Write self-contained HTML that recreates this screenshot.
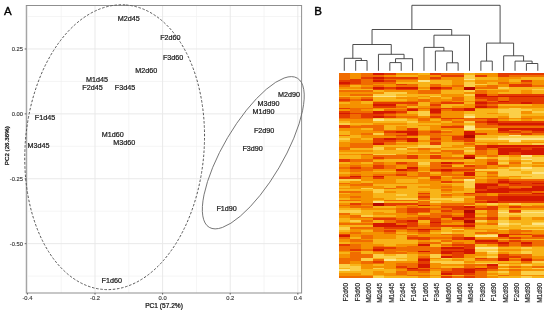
<!DOCTYPE html><html><head><meta charset="utf-8"><style>html,body{margin:0;padding:0;background:#fff;width:550px;height:313px;overflow:hidden}svg{display:block;will-change:transform}text{font-family:"Liberation Sans",sans-serif}</style></head><body><svg width="550" height="313" viewBox="0 0 550 313"><line x1="61.20" y1="5.5" x2="61.20" y2="293.0" stroke="#f1f1f1" stroke-width="0.7"/><line x1="128.81" y1="5.5" x2="128.81" y2="293.0" stroke="#f1f1f1" stroke-width="0.7"/><line x1="196.43" y1="5.5" x2="196.43" y2="293.0" stroke="#f1f1f1" stroke-width="0.7"/><line x1="264.04" y1="5.5" x2="264.04" y2="293.0" stroke="#f1f1f1" stroke-width="0.7"/><line x1="26.3" y1="276.11" x2="301.6" y2="276.11" stroke="#f1f1f1" stroke-width="0.7"/><line x1="26.3" y1="211.21" x2="301.6" y2="211.21" stroke="#f1f1f1" stroke-width="0.7"/><line x1="26.3" y1="146.32" x2="301.6" y2="146.32" stroke="#f1f1f1" stroke-width="0.7"/><line x1="26.3" y1="81.42" x2="301.6" y2="81.42" stroke="#f1f1f1" stroke-width="0.7"/><line x1="26.3" y1="16.53" x2="301.6" y2="16.53" stroke="#f1f1f1" stroke-width="0.7"/><line x1="27.40" y1="5.5" x2="27.40" y2="293.0" stroke="#e9e9e9" stroke-width="1.0"/><line x1="95.01" y1="5.5" x2="95.01" y2="293.0" stroke="#e9e9e9" stroke-width="1.0"/><line x1="162.62" y1="5.5" x2="162.62" y2="293.0" stroke="#e9e9e9" stroke-width="1.0"/><line x1="230.23" y1="5.5" x2="230.23" y2="293.0" stroke="#e9e9e9" stroke-width="1.0"/><line x1="297.84" y1="5.5" x2="297.84" y2="293.0" stroke="#e9e9e9" stroke-width="1.0"/><line x1="26.3" y1="243.66" x2="301.6" y2="243.66" stroke="#e9e9e9" stroke-width="1.0"/><line x1="26.3" y1="178.76" x2="301.6" y2="178.76" stroke="#e9e9e9" stroke-width="1.0"/><line x1="26.3" y1="113.87" x2="301.6" y2="113.87" stroke="#e9e9e9" stroke-width="1.0"/><line x1="26.3" y1="48.98" x2="301.6" y2="48.98" stroke="#e9e9e9" stroke-width="1.0"/><rect x="26.3" y="5.5" width="275.3" height="287.5" fill="none" stroke="#8f8f8f" stroke-width="1"/><line x1="27.40" y1="293.0" x2="27.40" y2="294.6" stroke="#444" stroke-width="0.8"/><text x="27.40" y="300.4" font-size="5.8" fill="#333" stroke="#333" stroke-width="0.12" text-anchor="middle">-0.4</text><line x1="95.01" y1="293.0" x2="95.01" y2="294.6" stroke="#444" stroke-width="0.8"/><text x="95.01" y="300.4" font-size="5.8" fill="#333" stroke="#333" stroke-width="0.12" text-anchor="middle">-0.2</text><line x1="162.62" y1="293.0" x2="162.62" y2="294.6" stroke="#444" stroke-width="0.8"/><text x="162.62" y="300.4" font-size="5.8" fill="#333" stroke="#333" stroke-width="0.12" text-anchor="middle">0.0</text><line x1="230.23" y1="293.0" x2="230.23" y2="294.6" stroke="#444" stroke-width="0.8"/><text x="230.23" y="300.4" font-size="5.8" fill="#333" stroke="#333" stroke-width="0.12" text-anchor="middle">0.2</text><line x1="297.84" y1="293.0" x2="297.84" y2="294.6" stroke="#444" stroke-width="0.8"/><text x="297.84" y="300.4" font-size="5.8" fill="#333" stroke="#333" stroke-width="0.12" text-anchor="middle">0.4</text><line x1="24.7" y1="48.98" x2="26.3" y2="48.98" stroke="#444" stroke-width="0.8"/><text x="23.0" y="51.08" font-size="5.8" fill="#333" stroke="#333" stroke-width="0.12" text-anchor="end">0.25</text><line x1="24.7" y1="113.87" x2="26.3" y2="113.87" stroke="#444" stroke-width="0.8"/><text x="23.0" y="115.97" font-size="5.8" fill="#333" stroke="#333" stroke-width="0.12" text-anchor="end">0.00</text><line x1="24.7" y1="178.76" x2="26.3" y2="178.76" stroke="#444" stroke-width="0.8"/><text x="23.0" y="180.86" font-size="5.8" fill="#333" stroke="#333" stroke-width="0.12" text-anchor="end">-0.25</text><line x1="24.7" y1="243.66" x2="26.3" y2="243.66" stroke="#444" stroke-width="0.8"/><text x="23.0" y="245.76" font-size="5.8" fill="#333" stroke="#333" stroke-width="0.12" text-anchor="end">-0.50</text><text x="164" y="308.4" font-size="6.6" fill="#111" stroke="#111" stroke-width="0.22" text-anchor="middle">PC1 (57.2%)</text><text transform="translate(8.6 145.7) rotate(-90)" font-size="6.2" fill="#111" stroke="#111" stroke-width="0.25" text-anchor="middle">PC2 (26.36%)</text><text x="4" y="15.2" font-size="11.5" fill="#000" stroke="#000" stroke-width="0.35">A</text><text x="314.3" y="15.3" font-size="11.5" fill="#000" stroke="#000" stroke-width="0.45">B</text><ellipse cx="114.64" cy="147.21" rx="142.69" ry="89.45" transform="rotate(-85.385 114.64 147.21)" fill="none" stroke="#555" stroke-width="0.95" stroke-dasharray="2.5 1.7"/><ellipse cx="253.28" cy="152.74" rx="86.63" ry="29.78" transform="rotate(-59.455 253.28 152.74)" fill="none" stroke="#666" stroke-width="0.8"/><text x="128.80" y="21.20" font-size="7.2" fill="#1a1a1a" stroke="#1a1a1a" stroke-width="0.22" text-anchor="middle">M2d45</text><text x="170.35" y="39.90" font-size="7.2" fill="#1a1a1a" stroke="#1a1a1a" stroke-width="0.22" text-anchor="middle">F2d60</text><text x="173.10" y="59.50" font-size="7.2" fill="#1a1a1a" stroke="#1a1a1a" stroke-width="0.22" text-anchor="middle">F3d60</text><text x="146.30" y="73.00" font-size="7.2" fill="#1a1a1a" stroke="#1a1a1a" stroke-width="0.22" text-anchor="middle">M2d60</text><text x="96.95" y="81.70" font-size="7.2" fill="#1a1a1a" stroke="#1a1a1a" stroke-width="0.22" text-anchor="middle">M1d45</text><text x="92.55" y="90.30" font-size="7.2" fill="#1a1a1a" stroke="#1a1a1a" stroke-width="0.22" text-anchor="middle">F2d45</text><text x="125.05" y="89.70" font-size="7.2" fill="#1a1a1a" stroke="#1a1a1a" stroke-width="0.22" text-anchor="middle">F3d45</text><text x="45.00" y="120.40" font-size="7.2" fill="#1a1a1a" stroke="#1a1a1a" stroke-width="0.22" text-anchor="middle">F1d45</text><text x="38.40" y="148.10" font-size="7.2" fill="#1a1a1a" stroke="#1a1a1a" stroke-width="0.22" text-anchor="middle">M3d45</text><text x="112.80" y="137.00" font-size="7.2" fill="#1a1a1a" stroke="#1a1a1a" stroke-width="0.22" text-anchor="middle">M1d60</text><text x="124.35" y="144.90" font-size="7.2" fill="#1a1a1a" stroke="#1a1a1a" stroke-width="0.22" text-anchor="middle">M3d60</text><text x="288.95" y="97.00" font-size="7.2" fill="#1a1a1a" stroke="#1a1a1a" stroke-width="0.22" text-anchor="middle">M2d90</text><text x="268.40" y="106.40" font-size="7.2" fill="#1a1a1a" stroke="#1a1a1a" stroke-width="0.22" text-anchor="middle">M3d90</text><text x="263.50" y="113.60" font-size="7.2" fill="#1a1a1a" stroke="#1a1a1a" stroke-width="0.22" text-anchor="middle">M1d90</text><text x="264.10" y="133.10" font-size="7.2" fill="#1a1a1a" stroke="#1a1a1a" stroke-width="0.22" text-anchor="middle">F2d90</text><text x="252.60" y="151.00" font-size="7.2" fill="#1a1a1a" stroke="#1a1a1a" stroke-width="0.22" text-anchor="middle">F3d90</text><text x="226.60" y="211.20" font-size="7.2" fill="#1a1a1a" stroke="#1a1a1a" stroke-width="0.22" text-anchor="middle">F1d90</text><text x="111.80" y="283.10" font-size="7.2" fill="#1a1a1a" stroke="#1a1a1a" stroke-width="0.22" text-anchor="middle">F1d60</text><g shape-rendering="crispEdges"><rect x="338.60" y="73.40" width="11.68" height="2.00" fill="#f06c00"/><rect x="338.60" y="75.11" width="11.68" height="2.00" fill="#f06c00"/><rect x="338.60" y="76.81" width="11.68" height="2.00" fill="#f06c00"/><rect x="338.60" y="78.52" width="11.68" height="2.00" fill="#f06c00"/><rect x="338.60" y="80.22" width="11.68" height="2.00" fill="#e43c00"/><rect x="338.60" y="81.92" width="11.68" height="2.00" fill="#d41800"/><rect x="338.60" y="83.63" width="11.68" height="2.00" fill="#e43c00"/><rect x="338.60" y="85.34" width="11.68" height="2.00" fill="#f06c00"/><rect x="338.60" y="87.04" width="11.68" height="2.00" fill="#f59200"/><rect x="338.60" y="88.75" width="11.68" height="2.00" fill="#f8b418"/><rect x="338.60" y="90.45" width="11.68" height="2.00" fill="#f06c00"/><rect x="338.60" y="92.16" width="11.68" height="2.00" fill="#f59200"/><rect x="338.60" y="93.86" width="11.68" height="2.00" fill="#f59200"/><rect x="338.60" y="95.56" width="11.68" height="2.00" fill="#f8b418"/><rect x="338.60" y="97.27" width="11.68" height="2.00" fill="#f06c00"/><rect x="338.60" y="98.98" width="11.68" height="2.00" fill="#e43c00"/><rect x="338.60" y="100.68" width="11.68" height="2.00" fill="#f06c00"/><rect x="338.60" y="102.39" width="11.68" height="2.00" fill="#f8b418"/><rect x="338.60" y="104.09" width="11.68" height="2.00" fill="#f59200"/><rect x="338.60" y="105.80" width="11.68" height="2.00" fill="#f59200"/><rect x="338.60" y="107.50" width="11.68" height="2.00" fill="#e43c00"/><rect x="338.60" y="109.20" width="11.68" height="2.00" fill="#f59200"/><rect x="338.60" y="110.91" width="11.68" height="2.00" fill="#e43c00"/><rect x="338.60" y="112.61" width="11.68" height="2.00" fill="#d41800"/><rect x="338.60" y="114.32" width="11.68" height="2.00" fill="#e43c00"/><rect x="338.60" y="116.02" width="11.68" height="2.00" fill="#e43c00"/><rect x="338.60" y="117.73" width="11.68" height="2.00" fill="#f06c00"/><rect x="338.60" y="119.44" width="11.68" height="2.00" fill="#f59200"/><rect x="338.60" y="121.14" width="11.68" height="2.00" fill="#f8b418"/><rect x="338.60" y="122.84" width="11.68" height="2.00" fill="#fbcf48"/><rect x="338.60" y="124.55" width="11.68" height="2.00" fill="#e43c00"/><rect x="338.60" y="126.26" width="11.68" height="2.00" fill="#e43c00"/><rect x="338.60" y="127.96" width="11.68" height="2.00" fill="#f59200"/><rect x="338.60" y="129.67" width="11.68" height="2.00" fill="#f59200"/><rect x="338.60" y="131.37" width="11.68" height="2.00" fill="#f8b418"/><rect x="338.60" y="133.08" width="11.68" height="2.00" fill="#f8b418"/><rect x="338.60" y="134.78" width="11.68" height="2.00" fill="#f06c00"/><rect x="338.60" y="136.49" width="11.68" height="2.00" fill="#f8b418"/><rect x="338.60" y="138.19" width="11.68" height="2.00" fill="#fbcf48"/><rect x="338.60" y="139.90" width="11.68" height="2.00" fill="#f8b418"/><rect x="338.60" y="141.60" width="11.68" height="2.00" fill="#f59200"/><rect x="338.60" y="143.31" width="11.68" height="2.00" fill="#f59200"/><rect x="338.60" y="145.01" width="11.68" height="2.00" fill="#f59200"/><rect x="338.60" y="146.72" width="11.68" height="2.00" fill="#f06c00"/><rect x="338.60" y="148.42" width="11.68" height="2.00" fill="#f06c00"/><rect x="338.60" y="150.13" width="11.68" height="2.00" fill="#f59200"/><rect x="338.60" y="151.83" width="11.68" height="2.00" fill="#f8b418"/><rect x="338.60" y="153.53" width="11.68" height="2.00" fill="#f59200"/><rect x="338.60" y="155.24" width="11.68" height="2.00" fill="#f8b418"/><rect x="338.60" y="156.95" width="11.68" height="2.00" fill="#f8b418"/><rect x="338.60" y="158.65" width="11.68" height="2.00" fill="#e43c00"/><rect x="338.60" y="160.35" width="11.68" height="2.00" fill="#e43c00"/><rect x="338.60" y="162.06" width="11.68" height="2.00" fill="#f8b418"/><rect x="338.60" y="163.77" width="11.68" height="2.00" fill="#f59200"/><rect x="338.60" y="165.47" width="11.68" height="2.00" fill="#f59200"/><rect x="338.60" y="167.18" width="11.68" height="2.00" fill="#f06c00"/><rect x="338.60" y="168.88" width="11.68" height="2.00" fill="#f59200"/><rect x="338.60" y="170.59" width="11.68" height="2.00" fill="#f59200"/><rect x="338.60" y="172.29" width="11.68" height="2.00" fill="#f8b418"/><rect x="338.60" y="174.00" width="11.68" height="2.00" fill="#f59200"/><rect x="338.60" y="175.70" width="11.68" height="2.00" fill="#f06c00"/><rect x="338.60" y="177.41" width="11.68" height="2.00" fill="#e43c00"/><rect x="338.60" y="179.11" width="11.68" height="2.00" fill="#fbcf48"/><rect x="338.60" y="180.82" width="11.68" height="2.00" fill="#f8b418"/><rect x="338.60" y="182.52" width="11.68" height="2.00" fill="#f06c00"/><rect x="338.60" y="184.22" width="11.68" height="2.00" fill="#f59200"/><rect x="338.60" y="185.93" width="11.68" height="2.00" fill="#f8b418"/><rect x="338.60" y="187.64" width="11.68" height="2.00" fill="#f59200"/><rect x="338.60" y="189.34" width="11.68" height="2.00" fill="#f8b418"/><rect x="338.60" y="191.04" width="11.68" height="2.00" fill="#f06c00"/><rect x="338.60" y="192.75" width="11.68" height="2.00" fill="#f8b418"/><rect x="338.60" y="194.46" width="11.68" height="2.00" fill="#f59200"/><rect x="338.60" y="196.16" width="11.68" height="2.00" fill="#f59200"/><rect x="338.60" y="197.87" width="11.68" height="2.00" fill="#f8b418"/><rect x="338.60" y="199.57" width="11.68" height="2.00" fill="#f06c00"/><rect x="338.60" y="201.28" width="11.68" height="2.00" fill="#f8b418"/><rect x="338.60" y="202.98" width="11.68" height="2.00" fill="#f59200"/><rect x="338.60" y="204.69" width="11.68" height="2.00" fill="#f06c00"/><rect x="338.60" y="206.39" width="11.68" height="2.00" fill="#f59200"/><rect x="338.60" y="208.09" width="11.68" height="2.00" fill="#f8b418"/><rect x="338.60" y="209.80" width="11.68" height="2.00" fill="#fbcf48"/><rect x="338.60" y="211.50" width="11.68" height="2.00" fill="#fbcf48"/><rect x="338.60" y="213.21" width="11.68" height="2.00" fill="#f06c00"/><rect x="338.60" y="214.91" width="11.68" height="2.00" fill="#f59200"/><rect x="338.60" y="216.62" width="11.68" height="2.00" fill="#f59200"/><rect x="338.60" y="218.33" width="11.68" height="2.00" fill="#f8b418"/><rect x="338.60" y="220.03" width="11.68" height="2.00" fill="#f8b418"/><rect x="338.60" y="221.74" width="11.68" height="2.00" fill="#f59200"/><rect x="338.60" y="223.44" width="11.68" height="2.00" fill="#f06c00"/><rect x="338.60" y="225.15" width="11.68" height="2.00" fill="#f8b418"/><rect x="338.60" y="226.85" width="11.68" height="2.00" fill="#fbcf48"/><rect x="338.60" y="228.56" width="11.68" height="2.00" fill="#fbcf48"/><rect x="338.60" y="230.26" width="11.68" height="2.00" fill="#f8b418"/><rect x="338.60" y="231.97" width="11.68" height="2.00" fill="#f59200"/><rect x="338.60" y="233.67" width="11.68" height="2.00" fill="#e43c00"/><rect x="338.60" y="235.38" width="11.68" height="2.00" fill="#d41800"/><rect x="338.60" y="237.08" width="11.68" height="2.00" fill="#f06c00"/><rect x="338.60" y="238.78" width="11.68" height="2.00" fill="#f59200"/><rect x="338.60" y="240.49" width="11.68" height="2.00" fill="#f59200"/><rect x="338.60" y="242.19" width="11.68" height="2.00" fill="#f8b418"/><rect x="338.60" y="243.90" width="11.68" height="2.00" fill="#e43c00"/><rect x="338.60" y="245.60" width="11.68" height="2.00" fill="#f06c00"/><rect x="338.60" y="247.31" width="11.68" height="2.00" fill="#f06c00"/><rect x="338.60" y="249.02" width="11.68" height="2.00" fill="#f06c00"/><rect x="338.60" y="250.72" width="11.68" height="2.00" fill="#f59200"/><rect x="338.60" y="252.43" width="11.68" height="2.00" fill="#f8b418"/><rect x="338.60" y="254.13" width="11.68" height="2.00" fill="#f59200"/><rect x="338.60" y="255.84" width="11.68" height="2.00" fill="#f59200"/><rect x="338.60" y="257.54" width="11.68" height="2.00" fill="#f06c00"/><rect x="338.60" y="259.24" width="11.68" height="2.00" fill="#f06c00"/><rect x="338.60" y="260.95" width="11.68" height="2.00" fill="#f06c00"/><rect x="338.60" y="262.65" width="11.68" height="2.00" fill="#f06c00"/><rect x="338.60" y="264.36" width="11.68" height="2.00" fill="#fbcf48"/><rect x="338.60" y="266.06" width="11.68" height="2.00" fill="#fbcf48"/><rect x="338.60" y="267.77" width="11.68" height="2.00" fill="#f8b418"/><rect x="338.60" y="269.47" width="11.68" height="2.00" fill="#fde485"/><rect x="338.60" y="271.18" width="11.68" height="2.00" fill="#f8b418"/><rect x="338.60" y="272.88" width="11.68" height="2.00" fill="#f59200"/><rect x="338.60" y="274.59" width="11.68" height="2.00" fill="#f59200"/><rect x="338.60" y="276.29" width="11.68" height="2.00" fill="#f06c00"/><rect x="349.98" y="73.40" width="11.68" height="2.00" fill="#f59200"/><rect x="349.98" y="75.11" width="11.68" height="2.00" fill="#f59200"/><rect x="349.98" y="76.81" width="11.68" height="2.00" fill="#f59200"/><rect x="349.98" y="78.52" width="11.68" height="2.00" fill="#e43c00"/><rect x="349.98" y="80.22" width="11.68" height="2.00" fill="#e43c00"/><rect x="349.98" y="81.92" width="11.68" height="2.00" fill="#e43c00"/><rect x="349.98" y="83.63" width="11.68" height="2.00" fill="#f06c00"/><rect x="349.98" y="85.34" width="11.68" height="2.00" fill="#f8b418"/><rect x="349.98" y="87.04" width="11.68" height="2.00" fill="#f59200"/><rect x="349.98" y="88.75" width="11.68" height="2.00" fill="#f8b418"/><rect x="349.98" y="90.45" width="11.68" height="2.00" fill="#f06c00"/><rect x="349.98" y="92.16" width="11.68" height="2.00" fill="#f59200"/><rect x="349.98" y="93.86" width="11.68" height="2.00" fill="#f06c00"/><rect x="349.98" y="95.56" width="11.68" height="2.00" fill="#f8b418"/><rect x="349.98" y="97.27" width="11.68" height="2.00" fill="#f59200"/><rect x="349.98" y="98.98" width="11.68" height="2.00" fill="#f06c00"/><rect x="349.98" y="100.68" width="11.68" height="2.00" fill="#f59200"/><rect x="349.98" y="102.39" width="11.68" height="2.00" fill="#f59200"/><rect x="349.98" y="104.09" width="11.68" height="2.00" fill="#f59200"/><rect x="349.98" y="105.80" width="11.68" height="2.00" fill="#f59200"/><rect x="349.98" y="107.50" width="11.68" height="2.00" fill="#f06c00"/><rect x="349.98" y="109.20" width="11.68" height="2.00" fill="#f06c00"/><rect x="349.98" y="110.91" width="11.68" height="2.00" fill="#f06c00"/><rect x="349.98" y="112.61" width="11.68" height="2.00" fill="#e43c00"/><rect x="349.98" y="114.32" width="11.68" height="2.00" fill="#f06c00"/><rect x="349.98" y="116.02" width="11.68" height="2.00" fill="#f06c00"/><rect x="349.98" y="117.73" width="11.68" height="2.00" fill="#f06c00"/><rect x="349.98" y="119.44" width="11.68" height="2.00" fill="#f59200"/><rect x="349.98" y="121.14" width="11.68" height="2.00" fill="#f59200"/><rect x="349.98" y="122.84" width="11.68" height="2.00" fill="#f8b418"/><rect x="349.98" y="124.55" width="11.68" height="2.00" fill="#f59200"/><rect x="349.98" y="126.26" width="11.68" height="2.00" fill="#f06c00"/><rect x="349.98" y="127.96" width="11.68" height="2.00" fill="#f59200"/><rect x="349.98" y="129.67" width="11.68" height="2.00" fill="#f59200"/><rect x="349.98" y="131.37" width="11.68" height="2.00" fill="#f59200"/><rect x="349.98" y="133.08" width="11.68" height="2.00" fill="#f59200"/><rect x="349.98" y="134.78" width="11.68" height="2.00" fill="#f8b418"/><rect x="349.98" y="136.49" width="11.68" height="2.00" fill="#f8b418"/><rect x="349.98" y="138.19" width="11.68" height="2.00" fill="#f59200"/><rect x="349.98" y="139.90" width="11.68" height="2.00" fill="#f59200"/><rect x="349.98" y="141.60" width="11.68" height="2.00" fill="#f59200"/><rect x="349.98" y="143.31" width="11.68" height="2.00" fill="#f06c00"/><rect x="349.98" y="145.01" width="11.68" height="2.00" fill="#f06c00"/><rect x="349.98" y="146.72" width="11.68" height="2.00" fill="#f06c00"/><rect x="349.98" y="148.42" width="11.68" height="2.00" fill="#f8b418"/><rect x="349.98" y="150.13" width="11.68" height="2.00" fill="#f59200"/><rect x="349.98" y="151.83" width="11.68" height="2.00" fill="#f8b418"/><rect x="349.98" y="153.53" width="11.68" height="2.00" fill="#f59200"/><rect x="349.98" y="155.24" width="11.68" height="2.00" fill="#f8b418"/><rect x="349.98" y="156.95" width="11.68" height="2.00" fill="#f8b418"/><rect x="349.98" y="158.65" width="11.68" height="2.00" fill="#f06c00"/><rect x="349.98" y="160.35" width="11.68" height="2.00" fill="#f06c00"/><rect x="349.98" y="162.06" width="11.68" height="2.00" fill="#f59200"/><rect x="349.98" y="163.77" width="11.68" height="2.00" fill="#f59200"/><rect x="349.98" y="165.47" width="11.68" height="2.00" fill="#f06c00"/><rect x="349.98" y="167.18" width="11.68" height="2.00" fill="#e43c00"/><rect x="349.98" y="168.88" width="11.68" height="2.00" fill="#f06c00"/><rect x="349.98" y="170.59" width="11.68" height="2.00" fill="#f06c00"/><rect x="349.98" y="172.29" width="11.68" height="2.00" fill="#f59200"/><rect x="349.98" y="174.00" width="11.68" height="2.00" fill="#f06c00"/><rect x="349.98" y="175.70" width="11.68" height="2.00" fill="#d41800"/><rect x="349.98" y="177.41" width="11.68" height="2.00" fill="#e43c00"/><rect x="349.98" y="179.11" width="11.68" height="2.00" fill="#fbcf48"/><rect x="349.98" y="180.82" width="11.68" height="2.00" fill="#f59200"/><rect x="349.98" y="182.52" width="11.68" height="2.00" fill="#f59200"/><rect x="349.98" y="184.22" width="11.68" height="2.00" fill="#f06c00"/><rect x="349.98" y="185.93" width="11.68" height="2.00" fill="#f59200"/><rect x="349.98" y="187.64" width="11.68" height="2.00" fill="#f59200"/><rect x="349.98" y="189.34" width="11.68" height="2.00" fill="#f8b418"/><rect x="349.98" y="191.04" width="11.68" height="2.00" fill="#f06c00"/><rect x="349.98" y="192.75" width="11.68" height="2.00" fill="#f59200"/><rect x="349.98" y="194.46" width="11.68" height="2.00" fill="#f59200"/><rect x="349.98" y="196.16" width="11.68" height="2.00" fill="#f06c00"/><rect x="349.98" y="197.87" width="11.68" height="2.00" fill="#f59200"/><rect x="349.98" y="199.57" width="11.68" height="2.00" fill="#f06c00"/><rect x="349.98" y="201.28" width="11.68" height="2.00" fill="#f8b418"/><rect x="349.98" y="202.98" width="11.68" height="2.00" fill="#e43c00"/><rect x="349.98" y="204.69" width="11.68" height="2.00" fill="#f06c00"/><rect x="349.98" y="206.39" width="11.68" height="2.00" fill="#f06c00"/><rect x="349.98" y="208.09" width="11.68" height="2.00" fill="#f8b418"/><rect x="349.98" y="209.80" width="11.68" height="2.00" fill="#fbcf48"/><rect x="349.98" y="211.50" width="11.68" height="2.00" fill="#fbcf48"/><rect x="349.98" y="213.21" width="11.68" height="2.00" fill="#f8b418"/><rect x="349.98" y="214.91" width="11.68" height="2.00" fill="#f06c00"/><rect x="349.98" y="216.62" width="11.68" height="2.00" fill="#f06c00"/><rect x="349.98" y="218.33" width="11.68" height="2.00" fill="#f59200"/><rect x="349.98" y="220.03" width="11.68" height="2.00" fill="#fbcf48"/><rect x="349.98" y="221.74" width="11.68" height="2.00" fill="#f8b418"/><rect x="349.98" y="223.44" width="11.68" height="2.00" fill="#f06c00"/><rect x="349.98" y="225.15" width="11.68" height="2.00" fill="#f8b418"/><rect x="349.98" y="226.85" width="11.68" height="2.00" fill="#f06c00"/><rect x="349.98" y="228.56" width="11.68" height="2.00" fill="#f59200"/><rect x="349.98" y="230.26" width="11.68" height="2.00" fill="#f59200"/><rect x="349.98" y="231.97" width="11.68" height="2.00" fill="#f06c00"/><rect x="349.98" y="233.67" width="11.68" height="2.00" fill="#f59200"/><rect x="349.98" y="235.38" width="11.68" height="2.00" fill="#f59200"/><rect x="349.98" y="237.08" width="11.68" height="2.00" fill="#f8b418"/><rect x="349.98" y="238.78" width="11.68" height="2.00" fill="#f06c00"/><rect x="349.98" y="240.49" width="11.68" height="2.00" fill="#f06c00"/><rect x="349.98" y="242.19" width="11.68" height="2.00" fill="#f59200"/><rect x="349.98" y="243.90" width="11.68" height="2.00" fill="#f06c00"/><rect x="349.98" y="245.60" width="11.68" height="2.00" fill="#f06c00"/><rect x="349.98" y="247.31" width="11.68" height="2.00" fill="#f06c00"/><rect x="349.98" y="249.02" width="11.68" height="2.00" fill="#e43c00"/><rect x="349.98" y="250.72" width="11.68" height="2.00" fill="#f59200"/><rect x="349.98" y="252.43" width="11.68" height="2.00" fill="#f06c00"/><rect x="349.98" y="254.13" width="11.68" height="2.00" fill="#f06c00"/><rect x="349.98" y="255.84" width="11.68" height="2.00" fill="#f06c00"/><rect x="349.98" y="257.54" width="11.68" height="2.00" fill="#f06c00"/><rect x="349.98" y="259.24" width="11.68" height="2.00" fill="#f06c00"/><rect x="349.98" y="260.95" width="11.68" height="2.00" fill="#f59200"/><rect x="349.98" y="262.65" width="11.68" height="2.00" fill="#f59200"/><rect x="349.98" y="264.36" width="11.68" height="2.00" fill="#f8b418"/><rect x="349.98" y="266.06" width="11.68" height="2.00" fill="#fbcf48"/><rect x="349.98" y="267.77" width="11.68" height="2.00" fill="#fbcf48"/><rect x="349.98" y="269.47" width="11.68" height="2.00" fill="#fbcf48"/><rect x="349.98" y="271.18" width="11.68" height="2.00" fill="#f8b418"/><rect x="349.98" y="272.88" width="11.68" height="2.00" fill="#f59200"/><rect x="349.98" y="274.59" width="11.68" height="2.00" fill="#f59200"/><rect x="349.98" y="276.29" width="11.68" height="2.00" fill="#f06c00"/><rect x="361.37" y="73.40" width="11.68" height="2.00" fill="#f06c00"/><rect x="361.37" y="75.11" width="11.68" height="2.00" fill="#f06c00"/><rect x="361.37" y="76.81" width="11.68" height="2.00" fill="#e43c00"/><rect x="361.37" y="78.52" width="11.68" height="2.00" fill="#f06c00"/><rect x="361.37" y="80.22" width="11.68" height="2.00" fill="#f06c00"/><rect x="361.37" y="81.92" width="11.68" height="2.00" fill="#f06c00"/><rect x="361.37" y="83.63" width="11.68" height="2.00" fill="#f06c00"/><rect x="361.37" y="85.34" width="11.68" height="2.00" fill="#f59200"/><rect x="361.37" y="87.04" width="11.68" height="2.00" fill="#f06c00"/><rect x="361.37" y="88.75" width="11.68" height="2.00" fill="#f8b418"/><rect x="361.37" y="90.45" width="11.68" height="2.00" fill="#f06c00"/><rect x="361.37" y="92.16" width="11.68" height="2.00" fill="#f59200"/><rect x="361.37" y="93.86" width="11.68" height="2.00" fill="#f06c00"/><rect x="361.37" y="95.56" width="11.68" height="2.00" fill="#f8b418"/><rect x="361.37" y="97.27" width="11.68" height="2.00" fill="#f06c00"/><rect x="361.37" y="98.98" width="11.68" height="2.00" fill="#e43c00"/><rect x="361.37" y="100.68" width="11.68" height="2.00" fill="#f8b418"/><rect x="361.37" y="102.39" width="11.68" height="2.00" fill="#f8b418"/><rect x="361.37" y="104.09" width="11.68" height="2.00" fill="#f59200"/><rect x="361.37" y="105.80" width="11.68" height="2.00" fill="#f59200"/><rect x="361.37" y="107.50" width="11.68" height="2.00" fill="#f06c00"/><rect x="361.37" y="109.20" width="11.68" height="2.00" fill="#f59200"/><rect x="361.37" y="110.91" width="11.68" height="2.00" fill="#f06c00"/><rect x="361.37" y="112.61" width="11.68" height="2.00" fill="#e43c00"/><rect x="361.37" y="114.32" width="11.68" height="2.00" fill="#e43c00"/><rect x="361.37" y="116.02" width="11.68" height="2.00" fill="#e43c00"/><rect x="361.37" y="117.73" width="11.68" height="2.00" fill="#f06c00"/><rect x="361.37" y="119.44" width="11.68" height="2.00" fill="#f59200"/><rect x="361.37" y="121.14" width="11.68" height="2.00" fill="#f59200"/><rect x="361.37" y="122.84" width="11.68" height="2.00" fill="#f8b418"/><rect x="361.37" y="124.55" width="11.68" height="2.00" fill="#f06c00"/><rect x="361.37" y="126.26" width="11.68" height="2.00" fill="#f06c00"/><rect x="361.37" y="127.96" width="11.68" height="2.00" fill="#f8b418"/><rect x="361.37" y="129.67" width="11.68" height="2.00" fill="#f59200"/><rect x="361.37" y="131.37" width="11.68" height="2.00" fill="#f59200"/><rect x="361.37" y="133.08" width="11.68" height="2.00" fill="#f06c00"/><rect x="361.37" y="134.78" width="11.68" height="2.00" fill="#f59200"/><rect x="361.37" y="136.49" width="11.68" height="2.00" fill="#f59200"/><rect x="361.37" y="138.19" width="11.68" height="2.00" fill="#f8b418"/><rect x="361.37" y="139.90" width="11.68" height="2.00" fill="#f59200"/><rect x="361.37" y="141.60" width="11.68" height="2.00" fill="#f59200"/><rect x="361.37" y="143.31" width="11.68" height="2.00" fill="#f06c00"/><rect x="361.37" y="145.01" width="11.68" height="2.00" fill="#f06c00"/><rect x="361.37" y="146.72" width="11.68" height="2.00" fill="#f06c00"/><rect x="361.37" y="148.42" width="11.68" height="2.00" fill="#f8b418"/><rect x="361.37" y="150.13" width="11.68" height="2.00" fill="#f59200"/><rect x="361.37" y="151.83" width="11.68" height="2.00" fill="#f8b418"/><rect x="361.37" y="153.53" width="11.68" height="2.00" fill="#f06c00"/><rect x="361.37" y="155.24" width="11.68" height="2.00" fill="#f59200"/><rect x="361.37" y="156.95" width="11.68" height="2.00" fill="#f59200"/><rect x="361.37" y="158.65" width="11.68" height="2.00" fill="#f06c00"/><rect x="361.37" y="160.35" width="11.68" height="2.00" fill="#f06c00"/><rect x="361.37" y="162.06" width="11.68" height="2.00" fill="#f8b418"/><rect x="361.37" y="163.77" width="11.68" height="2.00" fill="#f59200"/><rect x="361.37" y="165.47" width="11.68" height="2.00" fill="#f59200"/><rect x="361.37" y="167.18" width="11.68" height="2.00" fill="#f06c00"/><rect x="361.37" y="168.88" width="11.68" height="2.00" fill="#f06c00"/><rect x="361.37" y="170.59" width="11.68" height="2.00" fill="#f59200"/><rect x="361.37" y="172.29" width="11.68" height="2.00" fill="#f59200"/><rect x="361.37" y="174.00" width="11.68" height="2.00" fill="#f59200"/><rect x="361.37" y="175.70" width="11.68" height="2.00" fill="#f06c00"/><rect x="361.37" y="177.41" width="11.68" height="2.00" fill="#f59200"/><rect x="361.37" y="179.11" width="11.68" height="2.00" fill="#f59200"/><rect x="361.37" y="180.82" width="11.68" height="2.00" fill="#f8b418"/><rect x="361.37" y="182.52" width="11.68" height="2.00" fill="#f06c00"/><rect x="361.37" y="184.22" width="11.68" height="2.00" fill="#f06c00"/><rect x="361.37" y="185.93" width="11.68" height="2.00" fill="#f59200"/><rect x="361.37" y="187.64" width="11.68" height="2.00" fill="#fbcf48"/><rect x="361.37" y="189.34" width="11.68" height="2.00" fill="#f8b418"/><rect x="361.37" y="191.04" width="11.68" height="2.00" fill="#f59200"/><rect x="361.37" y="192.75" width="11.68" height="2.00" fill="#f59200"/><rect x="361.37" y="194.46" width="11.68" height="2.00" fill="#f59200"/><rect x="361.37" y="196.16" width="11.68" height="2.00" fill="#f59200"/><rect x="361.37" y="197.87" width="11.68" height="2.00" fill="#f59200"/><rect x="361.37" y="199.57" width="11.68" height="2.00" fill="#f59200"/><rect x="361.37" y="201.28" width="11.68" height="2.00" fill="#f59200"/><rect x="361.37" y="202.98" width="11.68" height="2.00" fill="#f06c00"/><rect x="361.37" y="204.69" width="11.68" height="2.00" fill="#f59200"/><rect x="361.37" y="206.39" width="11.68" height="2.00" fill="#f06c00"/><rect x="361.37" y="208.09" width="11.68" height="2.00" fill="#f59200"/><rect x="361.37" y="209.80" width="11.68" height="2.00" fill="#f8b418"/><rect x="361.37" y="211.50" width="11.68" height="2.00" fill="#f8b418"/><rect x="361.37" y="213.21" width="11.68" height="2.00" fill="#f8b418"/><rect x="361.37" y="214.91" width="11.68" height="2.00" fill="#fbcf48"/><rect x="361.37" y="216.62" width="11.68" height="2.00" fill="#f06c00"/><rect x="361.37" y="218.33" width="11.68" height="2.00" fill="#f59200"/><rect x="361.37" y="220.03" width="11.68" height="2.00" fill="#f06c00"/><rect x="361.37" y="221.74" width="11.68" height="2.00" fill="#f59200"/><rect x="361.37" y="223.44" width="11.68" height="2.00" fill="#f06c00"/><rect x="361.37" y="225.15" width="11.68" height="2.00" fill="#f8b418"/><rect x="361.37" y="226.85" width="11.68" height="2.00" fill="#f06c00"/><rect x="361.37" y="228.56" width="11.68" height="2.00" fill="#f59200"/><rect x="361.37" y="230.26" width="11.68" height="2.00" fill="#f8b418"/><rect x="361.37" y="231.97" width="11.68" height="2.00" fill="#f59200"/><rect x="361.37" y="233.67" width="11.68" height="2.00" fill="#f59200"/><rect x="361.37" y="235.38" width="11.68" height="2.00" fill="#f06c00"/><rect x="361.37" y="237.08" width="11.68" height="2.00" fill="#f06c00"/><rect x="361.37" y="238.78" width="11.68" height="2.00" fill="#f59200"/><rect x="361.37" y="240.49" width="11.68" height="2.00" fill="#f06c00"/><rect x="361.37" y="242.19" width="11.68" height="2.00" fill="#f59200"/><rect x="361.37" y="243.90" width="11.68" height="2.00" fill="#f59200"/><rect x="361.37" y="245.60" width="11.68" height="2.00" fill="#f59200"/><rect x="361.37" y="247.31" width="11.68" height="2.00" fill="#f59200"/><rect x="361.37" y="249.02" width="11.68" height="2.00" fill="#f06c00"/><rect x="361.37" y="250.72" width="11.68" height="2.00" fill="#f8b418"/><rect x="361.37" y="252.43" width="11.68" height="2.00" fill="#f8b418"/><rect x="361.37" y="254.13" width="11.68" height="2.00" fill="#f06c00"/><rect x="361.37" y="255.84" width="11.68" height="2.00" fill="#f06c00"/><rect x="361.37" y="257.54" width="11.68" height="2.00" fill="#fbcf48"/><rect x="361.37" y="259.24" width="11.68" height="2.00" fill="#fbcf48"/><rect x="361.37" y="260.95" width="11.68" height="2.00" fill="#f06c00"/><rect x="361.37" y="262.65" width="11.68" height="2.00" fill="#f06c00"/><rect x="361.37" y="264.36" width="11.68" height="2.00" fill="#f59200"/><rect x="361.37" y="266.06" width="11.68" height="2.00" fill="#f59200"/><rect x="361.37" y="267.77" width="11.68" height="2.00" fill="#f59200"/><rect x="361.37" y="269.47" width="11.68" height="2.00" fill="#f8b418"/><rect x="361.37" y="271.18" width="11.68" height="2.00" fill="#f8b418"/><rect x="361.37" y="272.88" width="11.68" height="2.00" fill="#f8b418"/><rect x="361.37" y="274.59" width="11.68" height="2.00" fill="#f59200"/><rect x="361.37" y="276.29" width="11.68" height="2.00" fill="#f06c00"/><rect x="372.75" y="73.40" width="11.68" height="2.00" fill="#d41800"/><rect x="372.75" y="75.11" width="11.68" height="2.00" fill="#f06c00"/><rect x="372.75" y="76.81" width="11.68" height="2.00" fill="#d41800"/><rect x="372.75" y="78.52" width="11.68" height="2.00" fill="#e43c00"/><rect x="372.75" y="80.22" width="11.68" height="2.00" fill="#d41800"/><rect x="372.75" y="81.92" width="11.68" height="2.00" fill="#f06c00"/><rect x="372.75" y="83.63" width="11.68" height="2.00" fill="#f59200"/><rect x="372.75" y="85.34" width="11.68" height="2.00" fill="#f06c00"/><rect x="372.75" y="87.04" width="11.68" height="2.00" fill="#d41800"/><rect x="372.75" y="88.75" width="11.68" height="2.00" fill="#e43c00"/><rect x="372.75" y="90.45" width="11.68" height="2.00" fill="#f8b418"/><rect x="372.75" y="92.16" width="11.68" height="2.00" fill="#f59200"/><rect x="372.75" y="93.86" width="11.68" height="2.00" fill="#fbcf48"/><rect x="372.75" y="95.56" width="11.68" height="2.00" fill="#fde485"/><rect x="372.75" y="97.27" width="11.68" height="2.00" fill="#f8b418"/><rect x="372.75" y="98.98" width="11.68" height="2.00" fill="#f8b418"/><rect x="372.75" y="100.68" width="11.68" height="2.00" fill="#f59200"/><rect x="372.75" y="102.39" width="11.68" height="2.00" fill="#e43c00"/><rect x="372.75" y="104.09" width="11.68" height="2.00" fill="#d41800"/><rect x="372.75" y="105.80" width="11.68" height="2.00" fill="#e43c00"/><rect x="372.75" y="107.50" width="11.68" height="2.00" fill="#f59200"/><rect x="372.75" y="109.20" width="11.68" height="2.00" fill="#f8b418"/><rect x="372.75" y="110.91" width="11.68" height="2.00" fill="#d41800"/><rect x="372.75" y="112.61" width="11.68" height="2.00" fill="#d41800"/><rect x="372.75" y="114.32" width="11.68" height="2.00" fill="#e43c00"/><rect x="372.75" y="116.02" width="11.68" height="2.00" fill="#d41800"/><rect x="372.75" y="117.73" width="11.68" height="2.00" fill="#fbcf48"/><rect x="372.75" y="119.44" width="11.68" height="2.00" fill="#fde485"/><rect x="372.75" y="121.14" width="11.68" height="2.00" fill="#f8b418"/><rect x="372.75" y="122.84" width="11.68" height="2.00" fill="#f59200"/><rect x="372.75" y="124.55" width="11.68" height="2.00" fill="#f06c00"/><rect x="372.75" y="126.26" width="11.68" height="2.00" fill="#f06c00"/><rect x="372.75" y="127.96" width="11.68" height="2.00" fill="#f06c00"/><rect x="372.75" y="129.67" width="11.68" height="2.00" fill="#f06c00"/><rect x="372.75" y="131.37" width="11.68" height="2.00" fill="#f59200"/><rect x="372.75" y="133.08" width="11.68" height="2.00" fill="#fbcf48"/><rect x="372.75" y="134.78" width="11.68" height="2.00" fill="#f59200"/><rect x="372.75" y="136.49" width="11.68" height="2.00" fill="#f59200"/><rect x="372.75" y="138.19" width="11.68" height="2.00" fill="#e43c00"/><rect x="372.75" y="139.90" width="11.68" height="2.00" fill="#e43c00"/><rect x="372.75" y="141.60" width="11.68" height="2.00" fill="#e43c00"/><rect x="372.75" y="143.31" width="11.68" height="2.00" fill="#d41800"/><rect x="372.75" y="145.01" width="11.68" height="2.00" fill="#f8b418"/><rect x="372.75" y="146.72" width="11.68" height="2.00" fill="#fbcf48"/><rect x="372.75" y="148.42" width="11.68" height="2.00" fill="#fbcf48"/><rect x="372.75" y="150.13" width="11.68" height="2.00" fill="#f8b418"/><rect x="372.75" y="151.83" width="11.68" height="2.00" fill="#f8b418"/><rect x="372.75" y="153.53" width="11.68" height="2.00" fill="#fbcf48"/><rect x="372.75" y="155.24" width="11.68" height="2.00" fill="#f06c00"/><rect x="372.75" y="156.95" width="11.68" height="2.00" fill="#e43c00"/><rect x="372.75" y="158.65" width="11.68" height="2.00" fill="#f59200"/><rect x="372.75" y="160.35" width="11.68" height="2.00" fill="#f8b418"/><rect x="372.75" y="162.06" width="11.68" height="2.00" fill="#f06c00"/><rect x="372.75" y="163.77" width="11.68" height="2.00" fill="#f06c00"/><rect x="372.75" y="165.47" width="11.68" height="2.00" fill="#e43c00"/><rect x="372.75" y="167.18" width="11.68" height="2.00" fill="#e43c00"/><rect x="372.75" y="168.88" width="11.68" height="2.00" fill="#f59200"/><rect x="372.75" y="170.59" width="11.68" height="2.00" fill="#f8b418"/><rect x="372.75" y="172.29" width="11.68" height="2.00" fill="#f59200"/><rect x="372.75" y="174.00" width="11.68" height="2.00" fill="#f06c00"/><rect x="372.75" y="175.70" width="11.68" height="2.00" fill="#d41800"/><rect x="372.75" y="177.41" width="11.68" height="2.00" fill="#e43c00"/><rect x="372.75" y="179.11" width="11.68" height="2.00" fill="#f59200"/><rect x="372.75" y="180.82" width="11.68" height="2.00" fill="#f59200"/><rect x="372.75" y="182.52" width="11.68" height="2.00" fill="#f59200"/><rect x="372.75" y="184.22" width="11.68" height="2.00" fill="#f8b418"/><rect x="372.75" y="185.93" width="11.68" height="2.00" fill="#f59200"/><rect x="372.75" y="187.64" width="11.68" height="2.00" fill="#f59200"/><rect x="372.75" y="189.34" width="11.68" height="2.00" fill="#fbcf48"/><rect x="372.75" y="191.04" width="11.68" height="2.00" fill="#fbcf48"/><rect x="372.75" y="192.75" width="11.68" height="2.00" fill="#f8b418"/><rect x="372.75" y="194.46" width="11.68" height="2.00" fill="#f8b418"/><rect x="372.75" y="196.16" width="11.68" height="2.00" fill="#f8b418"/><rect x="372.75" y="197.87" width="11.68" height="2.00" fill="#f59200"/><rect x="372.75" y="199.57" width="11.68" height="2.00" fill="#f8b418"/><rect x="372.75" y="201.28" width="11.68" height="2.00" fill="#fde485"/><rect x="372.75" y="202.98" width="11.68" height="2.00" fill="#b40800"/><rect x="372.75" y="204.69" width="11.68" height="2.00" fill="#b40800"/><rect x="372.75" y="206.39" width="11.68" height="2.00" fill="#f8b418"/><rect x="372.75" y="208.09" width="11.68" height="2.00" fill="#f59200"/><rect x="372.75" y="209.80" width="11.68" height="2.00" fill="#f8b418"/><rect x="372.75" y="211.50" width="11.68" height="2.00" fill="#f59200"/><rect x="372.75" y="213.21" width="11.68" height="2.00" fill="#f59200"/><rect x="372.75" y="214.91" width="11.68" height="2.00" fill="#f8b418"/><rect x="372.75" y="216.62" width="11.68" height="2.00" fill="#f06c00"/><rect x="372.75" y="218.33" width="11.68" height="2.00" fill="#e43c00"/><rect x="372.75" y="220.03" width="11.68" height="2.00" fill="#f8b418"/><rect x="372.75" y="221.74" width="11.68" height="2.00" fill="#f8b418"/><rect x="372.75" y="223.44" width="11.68" height="2.00" fill="#d41800"/><rect x="372.75" y="225.15" width="11.68" height="2.00" fill="#d41800"/><rect x="372.75" y="226.85" width="11.68" height="2.00" fill="#f06c00"/><rect x="372.75" y="228.56" width="11.68" height="2.00" fill="#f06c00"/><rect x="372.75" y="230.26" width="11.68" height="2.00" fill="#f06c00"/><rect x="372.75" y="231.97" width="11.68" height="2.00" fill="#f59200"/><rect x="372.75" y="233.67" width="11.68" height="2.00" fill="#f59200"/><rect x="372.75" y="235.38" width="11.68" height="2.00" fill="#f59200"/><rect x="372.75" y="237.08" width="11.68" height="2.00" fill="#f59200"/><rect x="372.75" y="238.78" width="11.68" height="2.00" fill="#f8b418"/><rect x="372.75" y="240.49" width="11.68" height="2.00" fill="#f8b418"/><rect x="372.75" y="242.19" width="11.68" height="2.00" fill="#f8b418"/><rect x="372.75" y="243.90" width="11.68" height="2.00" fill="#f59200"/><rect x="372.75" y="245.60" width="11.68" height="2.00" fill="#f06c00"/><rect x="372.75" y="247.31" width="11.68" height="2.00" fill="#e43c00"/><rect x="372.75" y="249.02" width="11.68" height="2.00" fill="#d41800"/><rect x="372.75" y="250.72" width="11.68" height="2.00" fill="#f06c00"/><rect x="372.75" y="252.43" width="11.68" height="2.00" fill="#f59200"/><rect x="372.75" y="254.13" width="11.68" height="2.00" fill="#fbcf48"/><rect x="372.75" y="255.84" width="11.68" height="2.00" fill="#fbcf48"/><rect x="372.75" y="257.54" width="11.68" height="2.00" fill="#f8b418"/><rect x="372.75" y="259.24" width="11.68" height="2.00" fill="#f06c00"/><rect x="372.75" y="260.95" width="11.68" height="2.00" fill="#e43c00"/><rect x="372.75" y="262.65" width="11.68" height="2.00" fill="#f06c00"/><rect x="372.75" y="264.36" width="11.68" height="2.00" fill="#f8b418"/><rect x="372.75" y="266.06" width="11.68" height="2.00" fill="#f59200"/><rect x="372.75" y="267.77" width="11.68" height="2.00" fill="#fbcf48"/><rect x="372.75" y="269.47" width="11.68" height="2.00" fill="#f8b418"/><rect x="372.75" y="271.18" width="11.68" height="2.00" fill="#f59200"/><rect x="372.75" y="272.88" width="11.68" height="2.00" fill="#f59200"/><rect x="372.75" y="274.59" width="11.68" height="2.00" fill="#f8b418"/><rect x="372.75" y="276.29" width="11.68" height="2.00" fill="#fbcf48"/><rect x="384.13" y="73.40" width="11.68" height="2.00" fill="#e43c00"/><rect x="384.13" y="75.11" width="11.68" height="2.00" fill="#f59200"/><rect x="384.13" y="76.81" width="11.68" height="2.00" fill="#e43c00"/><rect x="384.13" y="78.52" width="11.68" height="2.00" fill="#f06c00"/><rect x="384.13" y="80.22" width="11.68" height="2.00" fill="#e43c00"/><rect x="384.13" y="81.92" width="11.68" height="2.00" fill="#f06c00"/><rect x="384.13" y="83.63" width="11.68" height="2.00" fill="#f59200"/><rect x="384.13" y="85.34" width="11.68" height="2.00" fill="#f59200"/><rect x="384.13" y="87.04" width="11.68" height="2.00" fill="#e43c00"/><rect x="384.13" y="88.75" width="11.68" height="2.00" fill="#f06c00"/><rect x="384.13" y="90.45" width="11.68" height="2.00" fill="#f59200"/><rect x="384.13" y="92.16" width="11.68" height="2.00" fill="#fbcf48"/><rect x="384.13" y="93.86" width="11.68" height="2.00" fill="#fbcf48"/><rect x="384.13" y="95.56" width="11.68" height="2.00" fill="#fde485"/><rect x="384.13" y="97.27" width="11.68" height="2.00" fill="#f8b418"/><rect x="384.13" y="98.98" width="11.68" height="2.00" fill="#f8b418"/><rect x="384.13" y="100.68" width="11.68" height="2.00" fill="#f59200"/><rect x="384.13" y="102.39" width="11.68" height="2.00" fill="#e43c00"/><rect x="384.13" y="104.09" width="11.68" height="2.00" fill="#d41800"/><rect x="384.13" y="105.80" width="11.68" height="2.00" fill="#e43c00"/><rect x="384.13" y="107.50" width="11.68" height="2.00" fill="#f59200"/><rect x="384.13" y="109.20" width="11.68" height="2.00" fill="#f06c00"/><rect x="384.13" y="110.91" width="11.68" height="2.00" fill="#d41800"/><rect x="384.13" y="112.61" width="11.68" height="2.00" fill="#e43c00"/><rect x="384.13" y="114.32" width="11.68" height="2.00" fill="#f06c00"/><rect x="384.13" y="116.02" width="11.68" height="2.00" fill="#e43c00"/><rect x="384.13" y="117.73" width="11.68" height="2.00" fill="#f8b418"/><rect x="384.13" y="119.44" width="11.68" height="2.00" fill="#fbcf48"/><rect x="384.13" y="121.14" width="11.68" height="2.00" fill="#f8b418"/><rect x="384.13" y="122.84" width="11.68" height="2.00" fill="#f59200"/><rect x="384.13" y="124.55" width="11.68" height="2.00" fill="#f8b418"/><rect x="384.13" y="126.26" width="11.68" height="2.00" fill="#f8b418"/><rect x="384.13" y="127.96" width="11.68" height="2.00" fill="#f8b418"/><rect x="384.13" y="129.67" width="11.68" height="2.00" fill="#f06c00"/><rect x="384.13" y="131.37" width="11.68" height="2.00" fill="#e43c00"/><rect x="384.13" y="133.08" width="11.68" height="2.00" fill="#f06c00"/><rect x="384.13" y="134.78" width="11.68" height="2.00" fill="#f06c00"/><rect x="384.13" y="136.49" width="11.68" height="2.00" fill="#f59200"/><rect x="384.13" y="138.19" width="11.68" height="2.00" fill="#d41800"/><rect x="384.13" y="139.90" width="11.68" height="2.00" fill="#e43c00"/><rect x="384.13" y="141.60" width="11.68" height="2.00" fill="#f06c00"/><rect x="384.13" y="143.31" width="11.68" height="2.00" fill="#f06c00"/><rect x="384.13" y="145.01" width="11.68" height="2.00" fill="#f8b418"/><rect x="384.13" y="146.72" width="11.68" height="2.00" fill="#f59200"/><rect x="384.13" y="148.42" width="11.68" height="2.00" fill="#f59200"/><rect x="384.13" y="150.13" width="11.68" height="2.00" fill="#f8b418"/><rect x="384.13" y="151.83" width="11.68" height="2.00" fill="#f8b418"/><rect x="384.13" y="153.53" width="11.68" height="2.00" fill="#fbcf48"/><rect x="384.13" y="155.24" width="11.68" height="2.00" fill="#f06c00"/><rect x="384.13" y="156.95" width="11.68" height="2.00" fill="#f06c00"/><rect x="384.13" y="158.65" width="11.68" height="2.00" fill="#f8b418"/><rect x="384.13" y="160.35" width="11.68" height="2.00" fill="#f8b418"/><rect x="384.13" y="162.06" width="11.68" height="2.00" fill="#f59200"/><rect x="384.13" y="163.77" width="11.68" height="2.00" fill="#f59200"/><rect x="384.13" y="165.47" width="11.68" height="2.00" fill="#f06c00"/><rect x="384.13" y="167.18" width="11.68" height="2.00" fill="#f06c00"/><rect x="384.13" y="168.88" width="11.68" height="2.00" fill="#f59200"/><rect x="384.13" y="170.59" width="11.68" height="2.00" fill="#f8b418"/><rect x="384.13" y="172.29" width="11.68" height="2.00" fill="#f59200"/><rect x="384.13" y="174.00" width="11.68" height="2.00" fill="#f06c00"/><rect x="384.13" y="175.70" width="11.68" height="2.00" fill="#f59200"/><rect x="384.13" y="177.41" width="11.68" height="2.00" fill="#f59200"/><rect x="384.13" y="179.11" width="11.68" height="2.00" fill="#f59200"/><rect x="384.13" y="180.82" width="11.68" height="2.00" fill="#f59200"/><rect x="384.13" y="182.52" width="11.68" height="2.00" fill="#f59200"/><rect x="384.13" y="184.22" width="11.68" height="2.00" fill="#f8b418"/><rect x="384.13" y="185.93" width="11.68" height="2.00" fill="#f8b418"/><rect x="384.13" y="187.64" width="11.68" height="2.00" fill="#f06c00"/><rect x="384.13" y="189.34" width="11.68" height="2.00" fill="#f8b418"/><rect x="384.13" y="191.04" width="11.68" height="2.00" fill="#f59200"/><rect x="384.13" y="192.75" width="11.68" height="2.00" fill="#f8b418"/><rect x="384.13" y="194.46" width="11.68" height="2.00" fill="#f8b418"/><rect x="384.13" y="196.16" width="11.68" height="2.00" fill="#f8b418"/><rect x="384.13" y="197.87" width="11.68" height="2.00" fill="#f8b418"/><rect x="384.13" y="199.57" width="11.68" height="2.00" fill="#f06c00"/><rect x="384.13" y="201.28" width="11.68" height="2.00" fill="#f8b418"/><rect x="384.13" y="202.98" width="11.68" height="2.00" fill="#e43c00"/><rect x="384.13" y="204.69" width="11.68" height="2.00" fill="#e43c00"/><rect x="384.13" y="206.39" width="11.68" height="2.00" fill="#f8b418"/><rect x="384.13" y="208.09" width="11.68" height="2.00" fill="#f59200"/><rect x="384.13" y="209.80" width="11.68" height="2.00" fill="#f8b418"/><rect x="384.13" y="211.50" width="11.68" height="2.00" fill="#f8b418"/><rect x="384.13" y="213.21" width="11.68" height="2.00" fill="#f59200"/><rect x="384.13" y="214.91" width="11.68" height="2.00" fill="#f8b418"/><rect x="384.13" y="216.62" width="11.68" height="2.00" fill="#f06c00"/><rect x="384.13" y="218.33" width="11.68" height="2.00" fill="#e43c00"/><rect x="384.13" y="220.03" width="11.68" height="2.00" fill="#f06c00"/><rect x="384.13" y="221.74" width="11.68" height="2.00" fill="#f06c00"/><rect x="384.13" y="223.44" width="11.68" height="2.00" fill="#d41800"/><rect x="384.13" y="225.15" width="11.68" height="2.00" fill="#d41800"/><rect x="384.13" y="226.85" width="11.68" height="2.00" fill="#e43c00"/><rect x="384.13" y="228.56" width="11.68" height="2.00" fill="#f06c00"/><rect x="384.13" y="230.26" width="11.68" height="2.00" fill="#e43c00"/><rect x="384.13" y="231.97" width="11.68" height="2.00" fill="#f06c00"/><rect x="384.13" y="233.67" width="11.68" height="2.00" fill="#f59200"/><rect x="384.13" y="235.38" width="11.68" height="2.00" fill="#f59200"/><rect x="384.13" y="237.08" width="11.68" height="2.00" fill="#f59200"/><rect x="384.13" y="238.78" width="11.68" height="2.00" fill="#f8b418"/><rect x="384.13" y="240.49" width="11.68" height="2.00" fill="#f8b418"/><rect x="384.13" y="242.19" width="11.68" height="2.00" fill="#f8b418"/><rect x="384.13" y="243.90" width="11.68" height="2.00" fill="#f8b418"/><rect x="384.13" y="245.60" width="11.68" height="2.00" fill="#f59200"/><rect x="384.13" y="247.31" width="11.68" height="2.00" fill="#e43c00"/><rect x="384.13" y="249.02" width="11.68" height="2.00" fill="#f06c00"/><rect x="384.13" y="250.72" width="11.68" height="2.00" fill="#f06c00"/><rect x="384.13" y="252.43" width="11.68" height="2.00" fill="#f06c00"/><rect x="384.13" y="254.13" width="11.68" height="2.00" fill="#f8b418"/><rect x="384.13" y="255.84" width="11.68" height="2.00" fill="#fbcf48"/><rect x="384.13" y="257.54" width="11.68" height="2.00" fill="#fbcf48"/><rect x="384.13" y="259.24" width="11.68" height="2.00" fill="#fde485"/><rect x="384.13" y="260.95" width="11.68" height="2.00" fill="#f59200"/><rect x="384.13" y="262.65" width="11.68" height="2.00" fill="#f59200"/><rect x="384.13" y="264.36" width="11.68" height="2.00" fill="#f59200"/><rect x="384.13" y="266.06" width="11.68" height="2.00" fill="#f59200"/><rect x="384.13" y="267.77" width="11.68" height="2.00" fill="#f59200"/><rect x="384.13" y="269.47" width="11.68" height="2.00" fill="#f8b418"/><rect x="384.13" y="271.18" width="11.68" height="2.00" fill="#f8b418"/><rect x="384.13" y="272.88" width="11.68" height="2.00" fill="#f59200"/><rect x="384.13" y="274.59" width="11.68" height="2.00" fill="#f59200"/><rect x="384.13" y="276.29" width="11.68" height="2.00" fill="#f8b418"/><rect x="395.52" y="73.40" width="11.68" height="2.00" fill="#f59200"/><rect x="395.52" y="75.11" width="11.68" height="2.00" fill="#f8b418"/><rect x="395.52" y="76.81" width="11.68" height="2.00" fill="#e43c00"/><rect x="395.52" y="78.52" width="11.68" height="2.00" fill="#f06c00"/><rect x="395.52" y="80.22" width="11.68" height="2.00" fill="#f59200"/><rect x="395.52" y="81.92" width="11.68" height="2.00" fill="#f8b418"/><rect x="395.52" y="83.63" width="11.68" height="2.00" fill="#e43c00"/><rect x="395.52" y="85.34" width="11.68" height="2.00" fill="#f06c00"/><rect x="395.52" y="87.04" width="11.68" height="2.00" fill="#d41800"/><rect x="395.52" y="88.75" width="11.68" height="2.00" fill="#e43c00"/><rect x="395.52" y="90.45" width="11.68" height="2.00" fill="#f59200"/><rect x="395.52" y="92.16" width="11.68" height="2.00" fill="#fbcf48"/><rect x="395.52" y="93.86" width="11.68" height="2.00" fill="#f8b418"/><rect x="395.52" y="95.56" width="11.68" height="2.00" fill="#fbcf48"/><rect x="395.52" y="97.27" width="11.68" height="2.00" fill="#f59200"/><rect x="395.52" y="98.98" width="11.68" height="2.00" fill="#f8b418"/><rect x="395.52" y="100.68" width="11.68" height="2.00" fill="#f59200"/><rect x="395.52" y="102.39" width="11.68" height="2.00" fill="#e43c00"/><rect x="395.52" y="104.09" width="11.68" height="2.00" fill="#f59200"/><rect x="395.52" y="105.80" width="11.68" height="2.00" fill="#f06c00"/><rect x="395.52" y="107.50" width="11.68" height="2.00" fill="#f59200"/><rect x="395.52" y="109.20" width="11.68" height="2.00" fill="#f06c00"/><rect x="395.52" y="110.91" width="11.68" height="2.00" fill="#e43c00"/><rect x="395.52" y="112.61" width="11.68" height="2.00" fill="#f06c00"/><rect x="395.52" y="114.32" width="11.68" height="2.00" fill="#f59200"/><rect x="395.52" y="116.02" width="11.68" height="2.00" fill="#f06c00"/><rect x="395.52" y="117.73" width="11.68" height="2.00" fill="#f8b418"/><rect x="395.52" y="119.44" width="11.68" height="2.00" fill="#fbcf48"/><rect x="395.52" y="121.14" width="11.68" height="2.00" fill="#f8b418"/><rect x="395.52" y="122.84" width="11.68" height="2.00" fill="#f59200"/><rect x="395.52" y="124.55" width="11.68" height="2.00" fill="#f8b418"/><rect x="395.52" y="126.26" width="11.68" height="2.00" fill="#f59200"/><rect x="395.52" y="127.96" width="11.68" height="2.00" fill="#f59200"/><rect x="395.52" y="129.67" width="11.68" height="2.00" fill="#f06c00"/><rect x="395.52" y="131.37" width="11.68" height="2.00" fill="#d41800"/><rect x="395.52" y="133.08" width="11.68" height="2.00" fill="#f06c00"/><rect x="395.52" y="134.78" width="11.68" height="2.00" fill="#e43c00"/><rect x="395.52" y="136.49" width="11.68" height="2.00" fill="#f06c00"/><rect x="395.52" y="138.19" width="11.68" height="2.00" fill="#e43c00"/><rect x="395.52" y="139.90" width="11.68" height="2.00" fill="#f06c00"/><rect x="395.52" y="141.60" width="11.68" height="2.00" fill="#f8b418"/><rect x="395.52" y="143.31" width="11.68" height="2.00" fill="#f59200"/><rect x="395.52" y="145.01" width="11.68" height="2.00" fill="#f8b418"/><rect x="395.52" y="146.72" width="11.68" height="2.00" fill="#f59200"/><rect x="395.52" y="148.42" width="11.68" height="2.00" fill="#fbcf48"/><rect x="395.52" y="150.13" width="11.68" height="2.00" fill="#f8b418"/><rect x="395.52" y="151.83" width="11.68" height="2.00" fill="#f8b418"/><rect x="395.52" y="153.53" width="11.68" height="2.00" fill="#f59200"/><rect x="395.52" y="155.24" width="11.68" height="2.00" fill="#f06c00"/><rect x="395.52" y="156.95" width="11.68" height="2.00" fill="#f06c00"/><rect x="395.52" y="158.65" width="11.68" height="2.00" fill="#f8b418"/><rect x="395.52" y="160.35" width="11.68" height="2.00" fill="#f8b418"/><rect x="395.52" y="162.06" width="11.68" height="2.00" fill="#e43c00"/><rect x="395.52" y="163.77" width="11.68" height="2.00" fill="#f06c00"/><rect x="395.52" y="165.47" width="11.68" height="2.00" fill="#f59200"/><rect x="395.52" y="167.18" width="11.68" height="2.00" fill="#f59200"/><rect x="395.52" y="168.88" width="11.68" height="2.00" fill="#d41800"/><rect x="395.52" y="170.59" width="11.68" height="2.00" fill="#f06c00"/><rect x="395.52" y="172.29" width="11.68" height="2.00" fill="#f06c00"/><rect x="395.52" y="174.00" width="11.68" height="2.00" fill="#e43c00"/><rect x="395.52" y="175.70" width="11.68" height="2.00" fill="#f59200"/><rect x="395.52" y="177.41" width="11.68" height="2.00" fill="#f59200"/><rect x="395.52" y="179.11" width="11.68" height="2.00" fill="#f8b418"/><rect x="395.52" y="180.82" width="11.68" height="2.00" fill="#f8b418"/><rect x="395.52" y="182.52" width="11.68" height="2.00" fill="#f59200"/><rect x="395.52" y="184.22" width="11.68" height="2.00" fill="#f8b418"/><rect x="395.52" y="185.93" width="11.68" height="2.00" fill="#f06c00"/><rect x="395.52" y="187.64" width="11.68" height="2.00" fill="#f59200"/><rect x="395.52" y="189.34" width="11.68" height="2.00" fill="#f8b418"/><rect x="395.52" y="191.04" width="11.68" height="2.00" fill="#f8b418"/><rect x="395.52" y="192.75" width="11.68" height="2.00" fill="#f8b418"/><rect x="395.52" y="194.46" width="11.68" height="2.00" fill="#fbcf48"/><rect x="395.52" y="196.16" width="11.68" height="2.00" fill="#f8b418"/><rect x="395.52" y="197.87" width="11.68" height="2.00" fill="#fbcf48"/><rect x="395.52" y="199.57" width="11.68" height="2.00" fill="#f06c00"/><rect x="395.52" y="201.28" width="11.68" height="2.00" fill="#f8b418"/><rect x="395.52" y="202.98" width="11.68" height="2.00" fill="#e43c00"/><rect x="395.52" y="204.69" width="11.68" height="2.00" fill="#f06c00"/><rect x="395.52" y="206.39" width="11.68" height="2.00" fill="#f59200"/><rect x="395.52" y="208.09" width="11.68" height="2.00" fill="#f06c00"/><rect x="395.52" y="209.80" width="11.68" height="2.00" fill="#f06c00"/><rect x="395.52" y="211.50" width="11.68" height="2.00" fill="#f06c00"/><rect x="395.52" y="213.21" width="11.68" height="2.00" fill="#f59200"/><rect x="395.52" y="214.91" width="11.68" height="2.00" fill="#f59200"/><rect x="395.52" y="216.62" width="11.68" height="2.00" fill="#f59200"/><rect x="395.52" y="218.33" width="11.68" height="2.00" fill="#f06c00"/><rect x="395.52" y="220.03" width="11.68" height="2.00" fill="#e43c00"/><rect x="395.52" y="221.74" width="11.68" height="2.00" fill="#e43c00"/><rect x="395.52" y="223.44" width="11.68" height="2.00" fill="#f06c00"/><rect x="395.52" y="225.15" width="11.68" height="2.00" fill="#d41800"/><rect x="395.52" y="226.85" width="11.68" height="2.00" fill="#e43c00"/><rect x="395.52" y="228.56" width="11.68" height="2.00" fill="#f06c00"/><rect x="395.52" y="230.26" width="11.68" height="2.00" fill="#f59200"/><rect x="395.52" y="231.97" width="11.68" height="2.00" fill="#f8b418"/><rect x="395.52" y="233.67" width="11.68" height="2.00" fill="#f59200"/><rect x="395.52" y="235.38" width="11.68" height="2.00" fill="#f8b418"/><rect x="395.52" y="237.08" width="11.68" height="2.00" fill="#f8b418"/><rect x="395.52" y="238.78" width="11.68" height="2.00" fill="#f8b418"/><rect x="395.52" y="240.49" width="11.68" height="2.00" fill="#f8b418"/><rect x="395.52" y="242.19" width="11.68" height="2.00" fill="#f8b418"/><rect x="395.52" y="243.90" width="11.68" height="2.00" fill="#f59200"/><rect x="395.52" y="245.60" width="11.68" height="2.00" fill="#f59200"/><rect x="395.52" y="247.31" width="11.68" height="2.00" fill="#f06c00"/><rect x="395.52" y="249.02" width="11.68" height="2.00" fill="#f06c00"/><rect x="395.52" y="250.72" width="11.68" height="2.00" fill="#f59200"/><rect x="395.52" y="252.43" width="11.68" height="2.00" fill="#f06c00"/><rect x="395.52" y="254.13" width="11.68" height="2.00" fill="#fbcf48"/><rect x="395.52" y="255.84" width="11.68" height="2.00" fill="#fbcf48"/><rect x="395.52" y="257.54" width="11.68" height="2.00" fill="#f8b418"/><rect x="395.52" y="259.24" width="11.68" height="2.00" fill="#fbcf48"/><rect x="395.52" y="260.95" width="11.68" height="2.00" fill="#f59200"/><rect x="395.52" y="262.65" width="11.68" height="2.00" fill="#f06c00"/><rect x="395.52" y="264.36" width="11.68" height="2.00" fill="#f06c00"/><rect x="395.52" y="266.06" width="11.68" height="2.00" fill="#e43c00"/><rect x="395.52" y="267.77" width="11.68" height="2.00" fill="#f06c00"/><rect x="395.52" y="269.47" width="11.68" height="2.00" fill="#f59200"/><rect x="395.52" y="271.18" width="11.68" height="2.00" fill="#f06c00"/><rect x="395.52" y="272.88" width="11.68" height="2.00" fill="#f06c00"/><rect x="395.52" y="274.59" width="11.68" height="2.00" fill="#f59200"/><rect x="395.52" y="276.29" width="11.68" height="2.00" fill="#f8b418"/><rect x="406.90" y="73.40" width="11.68" height="2.00" fill="#f59200"/><rect x="406.90" y="75.11" width="11.68" height="2.00" fill="#f8b418"/><rect x="406.90" y="76.81" width="11.68" height="2.00" fill="#e43c00"/><rect x="406.90" y="78.52" width="11.68" height="2.00" fill="#f06c00"/><rect x="406.90" y="80.22" width="11.68" height="2.00" fill="#f59200"/><rect x="406.90" y="81.92" width="11.68" height="2.00" fill="#f8b418"/><rect x="406.90" y="83.63" width="11.68" height="2.00" fill="#f06c00"/><rect x="406.90" y="85.34" width="11.68" height="2.00" fill="#f06c00"/><rect x="406.90" y="87.04" width="11.68" height="2.00" fill="#d41800"/><rect x="406.90" y="88.75" width="11.68" height="2.00" fill="#e43c00"/><rect x="406.90" y="90.45" width="11.68" height="2.00" fill="#f59200"/><rect x="406.90" y="92.16" width="11.68" height="2.00" fill="#f59200"/><rect x="406.90" y="93.86" width="11.68" height="2.00" fill="#f8b418"/><rect x="406.90" y="95.56" width="11.68" height="2.00" fill="#f8b418"/><rect x="406.90" y="97.27" width="11.68" height="2.00" fill="#f59200"/><rect x="406.90" y="98.98" width="11.68" height="2.00" fill="#f59200"/><rect x="406.90" y="100.68" width="11.68" height="2.00" fill="#f06c00"/><rect x="406.90" y="102.39" width="11.68" height="2.00" fill="#e43c00"/><rect x="406.90" y="104.09" width="11.68" height="2.00" fill="#f06c00"/><rect x="406.90" y="105.80" width="11.68" height="2.00" fill="#f8b418"/><rect x="406.90" y="107.50" width="11.68" height="2.00" fill="#e43c00"/><rect x="406.90" y="109.20" width="11.68" height="2.00" fill="#d41800"/><rect x="406.90" y="110.91" width="11.68" height="2.00" fill="#f8b418"/><rect x="406.90" y="112.61" width="11.68" height="2.00" fill="#f8b418"/><rect x="406.90" y="114.32" width="11.68" height="2.00" fill="#f59200"/><rect x="406.90" y="116.02" width="11.68" height="2.00" fill="#f06c00"/><rect x="406.90" y="117.73" width="11.68" height="2.00" fill="#f59200"/><rect x="406.90" y="119.44" width="11.68" height="2.00" fill="#f8b418"/><rect x="406.90" y="121.14" width="11.68" height="2.00" fill="#fbcf48"/><rect x="406.90" y="122.84" width="11.68" height="2.00" fill="#f8b418"/><rect x="406.90" y="124.55" width="11.68" height="2.00" fill="#f8b418"/><rect x="406.90" y="126.26" width="11.68" height="2.00" fill="#f8b418"/><rect x="406.90" y="127.96" width="11.68" height="2.00" fill="#e43c00"/><rect x="406.90" y="129.67" width="11.68" height="2.00" fill="#e43c00"/><rect x="406.90" y="131.37" width="11.68" height="2.00" fill="#d41800"/><rect x="406.90" y="133.08" width="11.68" height="2.00" fill="#d41800"/><rect x="406.90" y="134.78" width="11.68" height="2.00" fill="#e43c00"/><rect x="406.90" y="136.49" width="11.68" height="2.00" fill="#f59200"/><rect x="406.90" y="138.19" width="11.68" height="2.00" fill="#d41800"/><rect x="406.90" y="139.90" width="11.68" height="2.00" fill="#d41800"/><rect x="406.90" y="141.60" width="11.68" height="2.00" fill="#f59200"/><rect x="406.90" y="143.31" width="11.68" height="2.00" fill="#f59200"/><rect x="406.90" y="145.01" width="11.68" height="2.00" fill="#f8b418"/><rect x="406.90" y="146.72" width="11.68" height="2.00" fill="#fbcf48"/><rect x="406.90" y="148.42" width="11.68" height="2.00" fill="#f59200"/><rect x="406.90" y="150.13" width="11.68" height="2.00" fill="#f8b418"/><rect x="406.90" y="151.83" width="11.68" height="2.00" fill="#f59200"/><rect x="406.90" y="153.53" width="11.68" height="2.00" fill="#f8b418"/><rect x="406.90" y="155.24" width="11.68" height="2.00" fill="#e43c00"/><rect x="406.90" y="156.95" width="11.68" height="2.00" fill="#e43c00"/><rect x="406.90" y="158.65" width="11.68" height="2.00" fill="#f8b418"/><rect x="406.90" y="160.35" width="11.68" height="2.00" fill="#f8b418"/><rect x="406.90" y="162.06" width="11.68" height="2.00" fill="#f06c00"/><rect x="406.90" y="163.77" width="11.68" height="2.00" fill="#f06c00"/><rect x="406.90" y="165.47" width="11.68" height="2.00" fill="#f06c00"/><rect x="406.90" y="167.18" width="11.68" height="2.00" fill="#d41800"/><rect x="406.90" y="168.88" width="11.68" height="2.00" fill="#e43c00"/><rect x="406.90" y="170.59" width="11.68" height="2.00" fill="#f06c00"/><rect x="406.90" y="172.29" width="11.68" height="2.00" fill="#f59200"/><rect x="406.90" y="174.00" width="11.68" height="2.00" fill="#f59200"/><rect x="406.90" y="175.70" width="11.68" height="2.00" fill="#f06c00"/><rect x="406.90" y="177.41" width="11.68" height="2.00" fill="#f59200"/><rect x="406.90" y="179.11" width="11.68" height="2.00" fill="#f8b418"/><rect x="406.90" y="180.82" width="11.68" height="2.00" fill="#f8b418"/><rect x="406.90" y="182.52" width="11.68" height="2.00" fill="#f59200"/><rect x="406.90" y="184.22" width="11.68" height="2.00" fill="#f8b418"/><rect x="406.90" y="185.93" width="11.68" height="2.00" fill="#f8b418"/><rect x="406.90" y="187.64" width="11.68" height="2.00" fill="#f8b418"/><rect x="406.90" y="189.34" width="11.68" height="2.00" fill="#f8b418"/><rect x="406.90" y="191.04" width="11.68" height="2.00" fill="#f8b418"/><rect x="406.90" y="192.75" width="11.68" height="2.00" fill="#f8b418"/><rect x="406.90" y="194.46" width="11.68" height="2.00" fill="#f8b418"/><rect x="406.90" y="196.16" width="11.68" height="2.00" fill="#f8b418"/><rect x="406.90" y="197.87" width="11.68" height="2.00" fill="#fbcf48"/><rect x="406.90" y="199.57" width="11.68" height="2.00" fill="#f06c00"/><rect x="406.90" y="201.28" width="11.68" height="2.00" fill="#f8b418"/><rect x="406.90" y="202.98" width="11.68" height="2.00" fill="#e43c00"/><rect x="406.90" y="204.69" width="11.68" height="2.00" fill="#f59200"/><rect x="406.90" y="206.39" width="11.68" height="2.00" fill="#f06c00"/><rect x="406.90" y="208.09" width="11.68" height="2.00" fill="#e43c00"/><rect x="406.90" y="209.80" width="11.68" height="2.00" fill="#e43c00"/><rect x="406.90" y="211.50" width="11.68" height="2.00" fill="#e43c00"/><rect x="406.90" y="213.21" width="11.68" height="2.00" fill="#f06c00"/><rect x="406.90" y="214.91" width="11.68" height="2.00" fill="#f59200"/><rect x="406.90" y="216.62" width="11.68" height="2.00" fill="#f06c00"/><rect x="406.90" y="218.33" width="11.68" height="2.00" fill="#f06c00"/><rect x="406.90" y="220.03" width="11.68" height="2.00" fill="#d41800"/><rect x="406.90" y="221.74" width="11.68" height="2.00" fill="#e43c00"/><rect x="406.90" y="223.44" width="11.68" height="2.00" fill="#e43c00"/><rect x="406.90" y="225.15" width="11.68" height="2.00" fill="#e43c00"/><rect x="406.90" y="226.85" width="11.68" height="2.00" fill="#f06c00"/><rect x="406.90" y="228.56" width="11.68" height="2.00" fill="#e43c00"/><rect x="406.90" y="230.26" width="11.68" height="2.00" fill="#f06c00"/><rect x="406.90" y="231.97" width="11.68" height="2.00" fill="#f59200"/><rect x="406.90" y="233.67" width="11.68" height="2.00" fill="#f8b418"/><rect x="406.90" y="235.38" width="11.68" height="2.00" fill="#f06c00"/><rect x="406.90" y="237.08" width="11.68" height="2.00" fill="#e43c00"/><rect x="406.90" y="238.78" width="11.68" height="2.00" fill="#f06c00"/><rect x="406.90" y="240.49" width="11.68" height="2.00" fill="#f8b418"/><rect x="406.90" y="242.19" width="11.68" height="2.00" fill="#f8b418"/><rect x="406.90" y="243.90" width="11.68" height="2.00" fill="#f59200"/><rect x="406.90" y="245.60" width="11.68" height="2.00" fill="#f06c00"/><rect x="406.90" y="247.31" width="11.68" height="2.00" fill="#f06c00"/><rect x="406.90" y="249.02" width="11.68" height="2.00" fill="#f06c00"/><rect x="406.90" y="250.72" width="11.68" height="2.00" fill="#f06c00"/><rect x="406.90" y="252.43" width="11.68" height="2.00" fill="#f59200"/><rect x="406.90" y="254.13" width="11.68" height="2.00" fill="#f8b418"/><rect x="406.90" y="255.84" width="11.68" height="2.00" fill="#f8b418"/><rect x="406.90" y="257.54" width="11.68" height="2.00" fill="#f8b418"/><rect x="406.90" y="259.24" width="11.68" height="2.00" fill="#f8b418"/><rect x="406.90" y="260.95" width="11.68" height="2.00" fill="#f59200"/><rect x="406.90" y="262.65" width="11.68" height="2.00" fill="#f06c00"/><rect x="406.90" y="264.36" width="11.68" height="2.00" fill="#f06c00"/><rect x="406.90" y="266.06" width="11.68" height="2.00" fill="#f06c00"/><rect x="406.90" y="267.77" width="11.68" height="2.00" fill="#d41800"/><rect x="406.90" y="269.47" width="11.68" height="2.00" fill="#e43c00"/><rect x="406.90" y="271.18" width="11.68" height="2.00" fill="#f59200"/><rect x="406.90" y="272.88" width="11.68" height="2.00" fill="#f59200"/><rect x="406.90" y="274.59" width="11.68" height="2.00" fill="#f06c00"/><rect x="406.90" y="276.29" width="11.68" height="2.00" fill="#f8b418"/><rect x="418.28" y="73.40" width="11.68" height="2.00" fill="#f8b418"/><rect x="418.28" y="75.11" width="11.68" height="2.00" fill="#f59200"/><rect x="418.28" y="76.81" width="11.68" height="2.00" fill="#f59200"/><rect x="418.28" y="78.52" width="11.68" height="2.00" fill="#f59200"/><rect x="418.28" y="80.22" width="11.68" height="2.00" fill="#fde485"/><rect x="418.28" y="81.92" width="11.68" height="2.00" fill="#f8b418"/><rect x="418.28" y="83.63" width="11.68" height="2.00" fill="#f8b418"/><rect x="418.28" y="85.34" width="11.68" height="2.00" fill="#f8b418"/><rect x="418.28" y="87.04" width="11.68" height="2.00" fill="#f59200"/><rect x="418.28" y="88.75" width="11.68" height="2.00" fill="#f8b418"/><rect x="418.28" y="90.45" width="11.68" height="2.00" fill="#f06c00"/><rect x="418.28" y="92.16" width="11.68" height="2.00" fill="#f06c00"/><rect x="418.28" y="93.86" width="11.68" height="2.00" fill="#f8b418"/><rect x="418.28" y="95.56" width="11.68" height="2.00" fill="#f59200"/><rect x="418.28" y="97.27" width="11.68" height="2.00" fill="#f8b418"/><rect x="418.28" y="98.98" width="11.68" height="2.00" fill="#f06c00"/><rect x="418.28" y="100.68" width="11.68" height="2.00" fill="#f06c00"/><rect x="418.28" y="102.39" width="11.68" height="2.00" fill="#f8b418"/><rect x="418.28" y="104.09" width="11.68" height="2.00" fill="#f8b418"/><rect x="418.28" y="105.80" width="11.68" height="2.00" fill="#f59200"/><rect x="418.28" y="107.50" width="11.68" height="2.00" fill="#f06c00"/><rect x="418.28" y="109.20" width="11.68" height="2.00" fill="#f59200"/><rect x="418.28" y="110.91" width="11.68" height="2.00" fill="#fbcf48"/><rect x="418.28" y="112.61" width="11.68" height="2.00" fill="#fbcf48"/><rect x="418.28" y="114.32" width="11.68" height="2.00" fill="#fbcf48"/><rect x="418.28" y="116.02" width="11.68" height="2.00" fill="#f59200"/><rect x="418.28" y="117.73" width="11.68" height="2.00" fill="#f06c00"/><rect x="418.28" y="119.44" width="11.68" height="2.00" fill="#f06c00"/><rect x="418.28" y="121.14" width="11.68" height="2.00" fill="#f59200"/><rect x="418.28" y="122.84" width="11.68" height="2.00" fill="#f8b418"/><rect x="418.28" y="124.55" width="11.68" height="2.00" fill="#f59200"/><rect x="418.28" y="126.26" width="11.68" height="2.00" fill="#f8b418"/><rect x="418.28" y="127.96" width="11.68" height="2.00" fill="#f8b418"/><rect x="418.28" y="129.67" width="11.68" height="2.00" fill="#f59200"/><rect x="418.28" y="131.37" width="11.68" height="2.00" fill="#f06c00"/><rect x="418.28" y="133.08" width="11.68" height="2.00" fill="#f06c00"/><rect x="418.28" y="134.78" width="11.68" height="2.00" fill="#f59200"/><rect x="418.28" y="136.49" width="11.68" height="2.00" fill="#f8b418"/><rect x="418.28" y="138.19" width="11.68" height="2.00" fill="#f8b418"/><rect x="418.28" y="139.90" width="11.68" height="2.00" fill="#f59200"/><rect x="418.28" y="141.60" width="11.68" height="2.00" fill="#f8b418"/><rect x="418.28" y="143.31" width="11.68" height="2.00" fill="#f8b418"/><rect x="418.28" y="145.01" width="11.68" height="2.00" fill="#fbcf48"/><rect x="418.28" y="146.72" width="11.68" height="2.00" fill="#fbcf48"/><rect x="418.28" y="148.42" width="11.68" height="2.00" fill="#f06c00"/><rect x="418.28" y="150.13" width="11.68" height="2.00" fill="#f59200"/><rect x="418.28" y="151.83" width="11.68" height="2.00" fill="#f59200"/><rect x="418.28" y="153.53" width="11.68" height="2.00" fill="#f8b418"/><rect x="418.28" y="155.24" width="11.68" height="2.00" fill="#f59200"/><rect x="418.28" y="156.95" width="11.68" height="2.00" fill="#f59200"/><rect x="418.28" y="158.65" width="11.68" height="2.00" fill="#f8b418"/><rect x="418.28" y="160.35" width="11.68" height="2.00" fill="#f8b418"/><rect x="418.28" y="162.06" width="11.68" height="2.00" fill="#fbcf48"/><rect x="418.28" y="163.77" width="11.68" height="2.00" fill="#fbcf48"/><rect x="418.28" y="165.47" width="11.68" height="2.00" fill="#f8b418"/><rect x="418.28" y="167.18" width="11.68" height="2.00" fill="#f59200"/><rect x="418.28" y="168.88" width="11.68" height="2.00" fill="#f59200"/><rect x="418.28" y="170.59" width="11.68" height="2.00" fill="#f8b418"/><rect x="418.28" y="172.29" width="11.68" height="2.00" fill="#f06c00"/><rect x="418.28" y="174.00" width="11.68" height="2.00" fill="#f06c00"/><rect x="418.28" y="175.70" width="11.68" height="2.00" fill="#f06c00"/><rect x="418.28" y="177.41" width="11.68" height="2.00" fill="#f8b418"/><rect x="418.28" y="179.11" width="11.68" height="2.00" fill="#f59200"/><rect x="418.28" y="180.82" width="11.68" height="2.00" fill="#f59200"/><rect x="418.28" y="182.52" width="11.68" height="2.00" fill="#f59200"/><rect x="418.28" y="184.22" width="11.68" height="2.00" fill="#f8b418"/><rect x="418.28" y="185.93" width="11.68" height="2.00" fill="#f59200"/><rect x="418.28" y="187.64" width="11.68" height="2.00" fill="#f8b418"/><rect x="418.28" y="189.34" width="11.68" height="2.00" fill="#f8b418"/><rect x="418.28" y="191.04" width="11.68" height="2.00" fill="#f59200"/><rect x="418.28" y="192.75" width="11.68" height="2.00" fill="#e43c00"/><rect x="418.28" y="194.46" width="11.68" height="2.00" fill="#f06c00"/><rect x="418.28" y="196.16" width="11.68" height="2.00" fill="#e43c00"/><rect x="418.28" y="197.87" width="11.68" height="2.00" fill="#f06c00"/><rect x="418.28" y="199.57" width="11.68" height="2.00" fill="#f8b418"/><rect x="418.28" y="201.28" width="11.68" height="2.00" fill="#f06c00"/><rect x="418.28" y="202.98" width="11.68" height="2.00" fill="#f06c00"/><rect x="418.28" y="204.69" width="11.68" height="2.00" fill="#d41800"/><rect x="418.28" y="206.39" width="11.68" height="2.00" fill="#f59200"/><rect x="418.28" y="208.09" width="11.68" height="2.00" fill="#e43c00"/><rect x="418.28" y="209.80" width="11.68" height="2.00" fill="#e43c00"/><rect x="418.28" y="211.50" width="11.68" height="2.00" fill="#f06c00"/><rect x="418.28" y="213.21" width="11.68" height="2.00" fill="#f8b418"/><rect x="418.28" y="214.91" width="11.68" height="2.00" fill="#f06c00"/><rect x="418.28" y="216.62" width="11.68" height="2.00" fill="#e43c00"/><rect x="418.28" y="218.33" width="11.68" height="2.00" fill="#e43c00"/><rect x="418.28" y="220.03" width="11.68" height="2.00" fill="#f8b418"/><rect x="418.28" y="221.74" width="11.68" height="2.00" fill="#f8b418"/><rect x="418.28" y="223.44" width="11.68" height="2.00" fill="#f59200"/><rect x="418.28" y="225.15" width="11.68" height="2.00" fill="#f06c00"/><rect x="418.28" y="226.85" width="11.68" height="2.00" fill="#f06c00"/><rect x="418.28" y="228.56" width="11.68" height="2.00" fill="#d41800"/><rect x="418.28" y="230.26" width="11.68" height="2.00" fill="#e43c00"/><rect x="418.28" y="231.97" width="11.68" height="2.00" fill="#f06c00"/><rect x="418.28" y="233.67" width="11.68" height="2.00" fill="#f59200"/><rect x="418.28" y="235.38" width="11.68" height="2.00" fill="#f59200"/><rect x="418.28" y="237.08" width="11.68" height="2.00" fill="#e43c00"/><rect x="418.28" y="238.78" width="11.68" height="2.00" fill="#e43c00"/><rect x="418.28" y="240.49" width="11.68" height="2.00" fill="#f59200"/><rect x="418.28" y="242.19" width="11.68" height="2.00" fill="#f06c00"/><rect x="418.28" y="243.90" width="11.68" height="2.00" fill="#d41800"/><rect x="418.28" y="245.60" width="11.68" height="2.00" fill="#f06c00"/><rect x="418.28" y="247.31" width="11.68" height="2.00" fill="#f06c00"/><rect x="418.28" y="249.02" width="11.68" height="2.00" fill="#f06c00"/><rect x="418.28" y="250.72" width="11.68" height="2.00" fill="#d41800"/><rect x="418.28" y="252.43" width="11.68" height="2.00" fill="#f06c00"/><rect x="418.28" y="254.13" width="11.68" height="2.00" fill="#f59200"/><rect x="418.28" y="255.84" width="11.68" height="2.00" fill="#f06c00"/><rect x="418.28" y="257.54" width="11.68" height="2.00" fill="#e43c00"/><rect x="418.28" y="259.24" width="11.68" height="2.00" fill="#d41800"/><rect x="418.28" y="260.95" width="11.68" height="2.00" fill="#e43c00"/><rect x="418.28" y="262.65" width="11.68" height="2.00" fill="#e43c00"/><rect x="418.28" y="264.36" width="11.68" height="2.00" fill="#d41800"/><rect x="418.28" y="266.06" width="11.68" height="2.00" fill="#d41800"/><rect x="418.28" y="267.77" width="11.68" height="2.00" fill="#f06c00"/><rect x="418.28" y="269.47" width="11.68" height="2.00" fill="#e43c00"/><rect x="418.28" y="271.18" width="11.68" height="2.00" fill="#f06c00"/><rect x="418.28" y="272.88" width="11.68" height="2.00" fill="#f59200"/><rect x="418.28" y="274.59" width="11.68" height="2.00" fill="#f06c00"/><rect x="418.28" y="276.29" width="11.68" height="2.00" fill="#f59200"/><rect x="429.67" y="73.40" width="11.68" height="2.00" fill="#e43c00"/><rect x="429.67" y="75.11" width="11.68" height="2.00" fill="#f59200"/><rect x="429.67" y="76.81" width="11.68" height="2.00" fill="#e43c00"/><rect x="429.67" y="78.52" width="11.68" height="2.00" fill="#f06c00"/><rect x="429.67" y="80.22" width="11.68" height="2.00" fill="#f8b418"/><rect x="429.67" y="81.92" width="11.68" height="2.00" fill="#f8b418"/><rect x="429.67" y="83.63" width="11.68" height="2.00" fill="#f06c00"/><rect x="429.67" y="85.34" width="11.68" height="2.00" fill="#f06c00"/><rect x="429.67" y="87.04" width="11.68" height="2.00" fill="#d41800"/><rect x="429.67" y="88.75" width="11.68" height="2.00" fill="#e43c00"/><rect x="429.67" y="90.45" width="11.68" height="2.00" fill="#f06c00"/><rect x="429.67" y="92.16" width="11.68" height="2.00" fill="#f06c00"/><rect x="429.67" y="93.86" width="11.68" height="2.00" fill="#f8b418"/><rect x="429.67" y="95.56" width="11.68" height="2.00" fill="#fbcf48"/><rect x="429.67" y="97.27" width="11.68" height="2.00" fill="#f59200"/><rect x="429.67" y="98.98" width="11.68" height="2.00" fill="#f59200"/><rect x="429.67" y="100.68" width="11.68" height="2.00" fill="#f59200"/><rect x="429.67" y="102.39" width="11.68" height="2.00" fill="#f06c00"/><rect x="429.67" y="104.09" width="11.68" height="2.00" fill="#e43c00"/><rect x="429.67" y="105.80" width="11.68" height="2.00" fill="#f06c00"/><rect x="429.67" y="107.50" width="11.68" height="2.00" fill="#e43c00"/><rect x="429.67" y="109.20" width="11.68" height="2.00" fill="#d41800"/><rect x="429.67" y="110.91" width="11.68" height="2.00" fill="#d41800"/><rect x="429.67" y="112.61" width="11.68" height="2.00" fill="#e43c00"/><rect x="429.67" y="114.32" width="11.68" height="2.00" fill="#f06c00"/><rect x="429.67" y="116.02" width="11.68" height="2.00" fill="#e43c00"/><rect x="429.67" y="117.73" width="11.68" height="2.00" fill="#f59200"/><rect x="429.67" y="119.44" width="11.68" height="2.00" fill="#f8b418"/><rect x="429.67" y="121.14" width="11.68" height="2.00" fill="#f59200"/><rect x="429.67" y="122.84" width="11.68" height="2.00" fill="#f8b418"/><rect x="429.67" y="124.55" width="11.68" height="2.00" fill="#f59200"/><rect x="429.67" y="126.26" width="11.68" height="2.00" fill="#f59200"/><rect x="429.67" y="127.96" width="11.68" height="2.00" fill="#f59200"/><rect x="429.67" y="129.67" width="11.68" height="2.00" fill="#f06c00"/><rect x="429.67" y="131.37" width="11.68" height="2.00" fill="#e43c00"/><rect x="429.67" y="133.08" width="11.68" height="2.00" fill="#f06c00"/><rect x="429.67" y="134.78" width="11.68" height="2.00" fill="#f06c00"/><rect x="429.67" y="136.49" width="11.68" height="2.00" fill="#f06c00"/><rect x="429.67" y="138.19" width="11.68" height="2.00" fill="#e43c00"/><rect x="429.67" y="139.90" width="11.68" height="2.00" fill="#f06c00"/><rect x="429.67" y="141.60" width="11.68" height="2.00" fill="#e43c00"/><rect x="429.67" y="143.31" width="11.68" height="2.00" fill="#e43c00"/><rect x="429.67" y="145.01" width="11.68" height="2.00" fill="#fbcf48"/><rect x="429.67" y="146.72" width="11.68" height="2.00" fill="#fbcf48"/><rect x="429.67" y="148.42" width="11.68" height="2.00" fill="#f59200"/><rect x="429.67" y="150.13" width="11.68" height="2.00" fill="#f8b418"/><rect x="429.67" y="151.83" width="11.68" height="2.00" fill="#f06c00"/><rect x="429.67" y="153.53" width="11.68" height="2.00" fill="#f8b418"/><rect x="429.67" y="155.24" width="11.68" height="2.00" fill="#e43c00"/><rect x="429.67" y="156.95" width="11.68" height="2.00" fill="#e43c00"/><rect x="429.67" y="158.65" width="11.68" height="2.00" fill="#f8b418"/><rect x="429.67" y="160.35" width="11.68" height="2.00" fill="#f8b418"/><rect x="429.67" y="162.06" width="11.68" height="2.00" fill="#f06c00"/><rect x="429.67" y="163.77" width="11.68" height="2.00" fill="#f06c00"/><rect x="429.67" y="165.47" width="11.68" height="2.00" fill="#f06c00"/><rect x="429.67" y="167.18" width="11.68" height="2.00" fill="#f06c00"/><rect x="429.67" y="168.88" width="11.68" height="2.00" fill="#e43c00"/><rect x="429.67" y="170.59" width="11.68" height="2.00" fill="#f06c00"/><rect x="429.67" y="172.29" width="11.68" height="2.00" fill="#f8b418"/><rect x="429.67" y="174.00" width="11.68" height="2.00" fill="#f59200"/><rect x="429.67" y="175.70" width="11.68" height="2.00" fill="#e43c00"/><rect x="429.67" y="177.41" width="11.68" height="2.00" fill="#e43c00"/><rect x="429.67" y="179.11" width="11.68" height="2.00" fill="#f06c00"/><rect x="429.67" y="180.82" width="11.68" height="2.00" fill="#f59200"/><rect x="429.67" y="182.52" width="11.68" height="2.00" fill="#f59200"/><rect x="429.67" y="184.22" width="11.68" height="2.00" fill="#f59200"/><rect x="429.67" y="185.93" width="11.68" height="2.00" fill="#f59200"/><rect x="429.67" y="187.64" width="11.68" height="2.00" fill="#f59200"/><rect x="429.67" y="189.34" width="11.68" height="2.00" fill="#f8b418"/><rect x="429.67" y="191.04" width="11.68" height="2.00" fill="#f8b418"/><rect x="429.67" y="192.75" width="11.68" height="2.00" fill="#f8b418"/><rect x="429.67" y="194.46" width="11.68" height="2.00" fill="#f8b418"/><rect x="429.67" y="196.16" width="11.68" height="2.00" fill="#f8b418"/><rect x="429.67" y="197.87" width="11.68" height="2.00" fill="#fbcf48"/><rect x="429.67" y="199.57" width="11.68" height="2.00" fill="#f8b418"/><rect x="429.67" y="201.28" width="11.68" height="2.00" fill="#fbcf48"/><rect x="429.67" y="202.98" width="11.68" height="2.00" fill="#f59200"/><rect x="429.67" y="204.69" width="11.68" height="2.00" fill="#f06c00"/><rect x="429.67" y="206.39" width="11.68" height="2.00" fill="#f59200"/><rect x="429.67" y="208.09" width="11.68" height="2.00" fill="#f06c00"/><rect x="429.67" y="209.80" width="11.68" height="2.00" fill="#f59200"/><rect x="429.67" y="211.50" width="11.68" height="2.00" fill="#f59200"/><rect x="429.67" y="213.21" width="11.68" height="2.00" fill="#f06c00"/><rect x="429.67" y="214.91" width="11.68" height="2.00" fill="#f06c00"/><rect x="429.67" y="216.62" width="11.68" height="2.00" fill="#f06c00"/><rect x="429.67" y="218.33" width="11.68" height="2.00" fill="#e43c00"/><rect x="429.67" y="220.03" width="11.68" height="2.00" fill="#e43c00"/><rect x="429.67" y="221.74" width="11.68" height="2.00" fill="#d41800"/><rect x="429.67" y="223.44" width="11.68" height="2.00" fill="#e43c00"/><rect x="429.67" y="225.15" width="11.68" height="2.00" fill="#e43c00"/><rect x="429.67" y="226.85" width="11.68" height="2.00" fill="#f06c00"/><rect x="429.67" y="228.56" width="11.68" height="2.00" fill="#e43c00"/><rect x="429.67" y="230.26" width="11.68" height="2.00" fill="#f59200"/><rect x="429.67" y="231.97" width="11.68" height="2.00" fill="#f8b418"/><rect x="429.67" y="233.67" width="11.68" height="2.00" fill="#f59200"/><rect x="429.67" y="235.38" width="11.68" height="2.00" fill="#f59200"/><rect x="429.67" y="237.08" width="11.68" height="2.00" fill="#f06c00"/><rect x="429.67" y="238.78" width="11.68" height="2.00" fill="#f59200"/><rect x="429.67" y="240.49" width="11.68" height="2.00" fill="#f8b418"/><rect x="429.67" y="242.19" width="11.68" height="2.00" fill="#f06c00"/><rect x="429.67" y="243.90" width="11.68" height="2.00" fill="#f8b418"/><rect x="429.67" y="245.60" width="11.68" height="2.00" fill="#f8b418"/><rect x="429.67" y="247.31" width="11.68" height="2.00" fill="#f06c00"/><rect x="429.67" y="249.02" width="11.68" height="2.00" fill="#f06c00"/><rect x="429.67" y="250.72" width="11.68" height="2.00" fill="#f06c00"/><rect x="429.67" y="252.43" width="11.68" height="2.00" fill="#f06c00"/><rect x="429.67" y="254.13" width="11.68" height="2.00" fill="#fbcf48"/><rect x="429.67" y="255.84" width="11.68" height="2.00" fill="#fbcf48"/><rect x="429.67" y="257.54" width="11.68" height="2.00" fill="#f59200"/><rect x="429.67" y="259.24" width="11.68" height="2.00" fill="#f8b418"/><rect x="429.67" y="260.95" width="11.68" height="2.00" fill="#fbcf48"/><rect x="429.67" y="262.65" width="11.68" height="2.00" fill="#f59200"/><rect x="429.67" y="264.36" width="11.68" height="2.00" fill="#f59200"/><rect x="429.67" y="266.06" width="11.68" height="2.00" fill="#f59200"/><rect x="429.67" y="267.77" width="11.68" height="2.00" fill="#f06c00"/><rect x="429.67" y="269.47" width="11.68" height="2.00" fill="#f59200"/><rect x="429.67" y="271.18" width="11.68" height="2.00" fill="#f8b418"/><rect x="429.67" y="272.88" width="11.68" height="2.00" fill="#f8b418"/><rect x="429.67" y="274.59" width="11.68" height="2.00" fill="#f59200"/><rect x="429.67" y="276.29" width="11.68" height="2.00" fill="#f8b418"/><rect x="441.05" y="73.40" width="11.68" height="2.00" fill="#f06c00"/><rect x="441.05" y="75.11" width="11.68" height="2.00" fill="#e43c00"/><rect x="441.05" y="76.81" width="11.68" height="2.00" fill="#f59200"/><rect x="441.05" y="78.52" width="11.68" height="2.00" fill="#f59200"/><rect x="441.05" y="80.22" width="11.68" height="2.00" fill="#f8b418"/><rect x="441.05" y="81.92" width="11.68" height="2.00" fill="#f8b418"/><rect x="441.05" y="83.63" width="11.68" height="2.00" fill="#f8b418"/><rect x="441.05" y="85.34" width="11.68" height="2.00" fill="#f59200"/><rect x="441.05" y="87.04" width="11.68" height="2.00" fill="#e43c00"/><rect x="441.05" y="88.75" width="11.68" height="2.00" fill="#f06c00"/><rect x="441.05" y="90.45" width="11.68" height="2.00" fill="#f8b418"/><rect x="441.05" y="92.16" width="11.68" height="2.00" fill="#f8b418"/><rect x="441.05" y="93.86" width="11.68" height="2.00" fill="#f59200"/><rect x="441.05" y="95.56" width="11.68" height="2.00" fill="#f59200"/><rect x="441.05" y="97.27" width="11.68" height="2.00" fill="#f8b418"/><rect x="441.05" y="98.98" width="11.68" height="2.00" fill="#f59200"/><rect x="441.05" y="100.68" width="11.68" height="2.00" fill="#f06c00"/><rect x="441.05" y="102.39" width="11.68" height="2.00" fill="#e43c00"/><rect x="441.05" y="104.09" width="11.68" height="2.00" fill="#f8b418"/><rect x="441.05" y="105.80" width="11.68" height="2.00" fill="#f8b418"/><rect x="441.05" y="107.50" width="11.68" height="2.00" fill="#e43c00"/><rect x="441.05" y="109.20" width="11.68" height="2.00" fill="#f06c00"/><rect x="441.05" y="110.91" width="11.68" height="2.00" fill="#f59200"/><rect x="441.05" y="112.61" width="11.68" height="2.00" fill="#f59200"/><rect x="441.05" y="114.32" width="11.68" height="2.00" fill="#f59200"/><rect x="441.05" y="116.02" width="11.68" height="2.00" fill="#f59200"/><rect x="441.05" y="117.73" width="11.68" height="2.00" fill="#e43c00"/><rect x="441.05" y="119.44" width="11.68" height="2.00" fill="#f06c00"/><rect x="441.05" y="121.14" width="11.68" height="2.00" fill="#f8b418"/><rect x="441.05" y="122.84" width="11.68" height="2.00" fill="#f59200"/><rect x="441.05" y="124.55" width="11.68" height="2.00" fill="#f59200"/><rect x="441.05" y="126.26" width="11.68" height="2.00" fill="#e43c00"/><rect x="441.05" y="127.96" width="11.68" height="2.00" fill="#f59200"/><rect x="441.05" y="129.67" width="11.68" height="2.00" fill="#f8b418"/><rect x="441.05" y="131.37" width="11.68" height="2.00" fill="#f06c00"/><rect x="441.05" y="133.08" width="11.68" height="2.00" fill="#f59200"/><rect x="441.05" y="134.78" width="11.68" height="2.00" fill="#f06c00"/><rect x="441.05" y="136.49" width="11.68" height="2.00" fill="#f59200"/><rect x="441.05" y="138.19" width="11.68" height="2.00" fill="#f59200"/><rect x="441.05" y="139.90" width="11.68" height="2.00" fill="#f59200"/><rect x="441.05" y="141.60" width="11.68" height="2.00" fill="#f8b418"/><rect x="441.05" y="143.31" width="11.68" height="2.00" fill="#f8b418"/><rect x="441.05" y="145.01" width="11.68" height="2.00" fill="#f8b418"/><rect x="441.05" y="146.72" width="11.68" height="2.00" fill="#f59200"/><rect x="441.05" y="148.42" width="11.68" height="2.00" fill="#f8b418"/><rect x="441.05" y="150.13" width="11.68" height="2.00" fill="#f06c00"/><rect x="441.05" y="151.83" width="11.68" height="2.00" fill="#f59200"/><rect x="441.05" y="153.53" width="11.68" height="2.00" fill="#f59200"/><rect x="441.05" y="155.24" width="11.68" height="2.00" fill="#f59200"/><rect x="441.05" y="156.95" width="11.68" height="2.00" fill="#f06c00"/><rect x="441.05" y="158.65" width="11.68" height="2.00" fill="#f59200"/><rect x="441.05" y="160.35" width="11.68" height="2.00" fill="#f8b418"/><rect x="441.05" y="162.06" width="11.68" height="2.00" fill="#d41800"/><rect x="441.05" y="163.77" width="11.68" height="2.00" fill="#f06c00"/><rect x="441.05" y="165.47" width="11.68" height="2.00" fill="#e43c00"/><rect x="441.05" y="167.18" width="11.68" height="2.00" fill="#f06c00"/><rect x="441.05" y="168.88" width="11.68" height="2.00" fill="#d41800"/><rect x="441.05" y="170.59" width="11.68" height="2.00" fill="#e43c00"/><rect x="441.05" y="172.29" width="11.68" height="2.00" fill="#f06c00"/><rect x="441.05" y="174.00" width="11.68" height="2.00" fill="#f06c00"/><rect x="441.05" y="175.70" width="11.68" height="2.00" fill="#f8b418"/><rect x="441.05" y="177.41" width="11.68" height="2.00" fill="#f59200"/><rect x="441.05" y="179.11" width="11.68" height="2.00" fill="#f59200"/><rect x="441.05" y="180.82" width="11.68" height="2.00" fill="#e43c00"/><rect x="441.05" y="182.52" width="11.68" height="2.00" fill="#f8b418"/><rect x="441.05" y="184.22" width="11.68" height="2.00" fill="#f59200"/><rect x="441.05" y="185.93" width="11.68" height="2.00" fill="#f06c00"/><rect x="441.05" y="187.64" width="11.68" height="2.00" fill="#f59200"/><rect x="441.05" y="189.34" width="11.68" height="2.00" fill="#f06c00"/><rect x="441.05" y="191.04" width="11.68" height="2.00" fill="#f59200"/><rect x="441.05" y="192.75" width="11.68" height="2.00" fill="#f8b418"/><rect x="441.05" y="194.46" width="11.68" height="2.00" fill="#f06c00"/><rect x="441.05" y="196.16" width="11.68" height="2.00" fill="#f59200"/><rect x="441.05" y="197.87" width="11.68" height="2.00" fill="#fbcf48"/><rect x="441.05" y="199.57" width="11.68" height="2.00" fill="#f8b418"/><rect x="441.05" y="201.28" width="11.68" height="2.00" fill="#f8b418"/><rect x="441.05" y="202.98" width="11.68" height="2.00" fill="#f06c00"/><rect x="441.05" y="204.69" width="11.68" height="2.00" fill="#f06c00"/><rect x="441.05" y="206.39" width="11.68" height="2.00" fill="#e43c00"/><rect x="441.05" y="208.09" width="11.68" height="2.00" fill="#f06c00"/><rect x="441.05" y="209.80" width="11.68" height="2.00" fill="#e43c00"/><rect x="441.05" y="211.50" width="11.68" height="2.00" fill="#f06c00"/><rect x="441.05" y="213.21" width="11.68" height="2.00" fill="#f06c00"/><rect x="441.05" y="214.91" width="11.68" height="2.00" fill="#e43c00"/><rect x="441.05" y="216.62" width="11.68" height="2.00" fill="#e43c00"/><rect x="441.05" y="218.33" width="11.68" height="2.00" fill="#f59200"/><rect x="441.05" y="220.03" width="11.68" height="2.00" fill="#f06c00"/><rect x="441.05" y="221.74" width="11.68" height="2.00" fill="#f06c00"/><rect x="441.05" y="223.44" width="11.68" height="2.00" fill="#f59200"/><rect x="441.05" y="225.15" width="11.68" height="2.00" fill="#e43c00"/><rect x="441.05" y="226.85" width="11.68" height="2.00" fill="#f8b418"/><rect x="441.05" y="228.56" width="11.68" height="2.00" fill="#f8b418"/><rect x="441.05" y="230.26" width="11.68" height="2.00" fill="#f8b418"/><rect x="441.05" y="231.97" width="11.68" height="2.00" fill="#fbcf48"/><rect x="441.05" y="233.67" width="11.68" height="2.00" fill="#f06c00"/><rect x="441.05" y="235.38" width="11.68" height="2.00" fill="#f59200"/><rect x="441.05" y="237.08" width="11.68" height="2.00" fill="#f06c00"/><rect x="441.05" y="238.78" width="11.68" height="2.00" fill="#f59200"/><rect x="441.05" y="240.49" width="11.68" height="2.00" fill="#f06c00"/><rect x="441.05" y="242.19" width="11.68" height="2.00" fill="#f8b418"/><rect x="441.05" y="243.90" width="11.68" height="2.00" fill="#f06c00"/><rect x="441.05" y="245.60" width="11.68" height="2.00" fill="#f59200"/><rect x="441.05" y="247.31" width="11.68" height="2.00" fill="#d41800"/><rect x="441.05" y="249.02" width="11.68" height="2.00" fill="#e43c00"/><rect x="441.05" y="250.72" width="11.68" height="2.00" fill="#d41800"/><rect x="441.05" y="252.43" width="11.68" height="2.00" fill="#d41800"/><rect x="441.05" y="254.13" width="11.68" height="2.00" fill="#f06c00"/><rect x="441.05" y="255.84" width="11.68" height="2.00" fill="#d41800"/><rect x="441.05" y="257.54" width="11.68" height="2.00" fill="#fbcf48"/><rect x="441.05" y="259.24" width="11.68" height="2.00" fill="#f8b418"/><rect x="441.05" y="260.95" width="11.68" height="2.00" fill="#fbcf48"/><rect x="441.05" y="262.65" width="11.68" height="2.00" fill="#fbcf48"/><rect x="441.05" y="264.36" width="11.68" height="2.00" fill="#f59200"/><rect x="441.05" y="266.06" width="11.68" height="2.00" fill="#f8b418"/><rect x="441.05" y="267.77" width="11.68" height="2.00" fill="#f06c00"/><rect x="441.05" y="269.47" width="11.68" height="2.00" fill="#f06c00"/><rect x="441.05" y="271.18" width="11.68" height="2.00" fill="#e43c00"/><rect x="441.05" y="272.88" width="11.68" height="2.00" fill="#d41800"/><rect x="441.05" y="274.59" width="11.68" height="2.00" fill="#f59200"/><rect x="441.05" y="276.29" width="11.68" height="2.00" fill="#e43c00"/><rect x="452.43" y="73.40" width="11.68" height="2.00" fill="#f06c00"/><rect x="452.43" y="75.11" width="11.68" height="2.00" fill="#e43c00"/><rect x="452.43" y="76.81" width="11.68" height="2.00" fill="#f59200"/><rect x="452.43" y="78.52" width="11.68" height="2.00" fill="#f59200"/><rect x="452.43" y="80.22" width="11.68" height="2.00" fill="#f59200"/><rect x="452.43" y="81.92" width="11.68" height="2.00" fill="#f59200"/><rect x="452.43" y="83.63" width="11.68" height="2.00" fill="#f59200"/><rect x="452.43" y="85.34" width="11.68" height="2.00" fill="#f06c00"/><rect x="452.43" y="87.04" width="11.68" height="2.00" fill="#f59200"/><rect x="452.43" y="88.75" width="11.68" height="2.00" fill="#f59200"/><rect x="452.43" y="90.45" width="11.68" height="2.00" fill="#f8b418"/><rect x="452.43" y="92.16" width="11.68" height="2.00" fill="#f8b418"/><rect x="452.43" y="93.86" width="11.68" height="2.00" fill="#f59200"/><rect x="452.43" y="95.56" width="11.68" height="2.00" fill="#f59200"/><rect x="452.43" y="97.27" width="11.68" height="2.00" fill="#f06c00"/><rect x="452.43" y="98.98" width="11.68" height="2.00" fill="#f06c00"/><rect x="452.43" y="100.68" width="11.68" height="2.00" fill="#f59200"/><rect x="452.43" y="102.39" width="11.68" height="2.00" fill="#e43c00"/><rect x="452.43" y="104.09" width="11.68" height="2.00" fill="#f8b418"/><rect x="452.43" y="105.80" width="11.68" height="2.00" fill="#f59200"/><rect x="452.43" y="107.50" width="11.68" height="2.00" fill="#e43c00"/><rect x="452.43" y="109.20" width="11.68" height="2.00" fill="#e43c00"/><rect x="452.43" y="110.91" width="11.68" height="2.00" fill="#f59200"/><rect x="452.43" y="112.61" width="11.68" height="2.00" fill="#f59200"/><rect x="452.43" y="114.32" width="11.68" height="2.00" fill="#f59200"/><rect x="452.43" y="116.02" width="11.68" height="2.00" fill="#f59200"/><rect x="452.43" y="117.73" width="11.68" height="2.00" fill="#e43c00"/><rect x="452.43" y="119.44" width="11.68" height="2.00" fill="#f59200"/><rect x="452.43" y="121.14" width="11.68" height="2.00" fill="#f06c00"/><rect x="452.43" y="122.84" width="11.68" height="2.00" fill="#f59200"/><rect x="452.43" y="124.55" width="11.68" height="2.00" fill="#f06c00"/><rect x="452.43" y="126.26" width="11.68" height="2.00" fill="#e43c00"/><rect x="452.43" y="127.96" width="11.68" height="2.00" fill="#f59200"/><rect x="452.43" y="129.67" width="11.68" height="2.00" fill="#f59200"/><rect x="452.43" y="131.37" width="11.68" height="2.00" fill="#f59200"/><rect x="452.43" y="133.08" width="11.68" height="2.00" fill="#f59200"/><rect x="452.43" y="134.78" width="11.68" height="2.00" fill="#f06c00"/><rect x="452.43" y="136.49" width="11.68" height="2.00" fill="#e43c00"/><rect x="452.43" y="138.19" width="11.68" height="2.00" fill="#e43c00"/><rect x="452.43" y="139.90" width="11.68" height="2.00" fill="#f06c00"/><rect x="452.43" y="141.60" width="11.68" height="2.00" fill="#f8b418"/><rect x="452.43" y="143.31" width="11.68" height="2.00" fill="#f8b418"/><rect x="452.43" y="145.01" width="11.68" height="2.00" fill="#f59200"/><rect x="452.43" y="146.72" width="11.68" height="2.00" fill="#f59200"/><rect x="452.43" y="148.42" width="11.68" height="2.00" fill="#f8b418"/><rect x="452.43" y="150.13" width="11.68" height="2.00" fill="#f06c00"/><rect x="452.43" y="151.83" width="11.68" height="2.00" fill="#f06c00"/><rect x="452.43" y="153.53" width="11.68" height="2.00" fill="#f59200"/><rect x="452.43" y="155.24" width="11.68" height="2.00" fill="#f8b418"/><rect x="452.43" y="156.95" width="11.68" height="2.00" fill="#f06c00"/><rect x="452.43" y="158.65" width="11.68" height="2.00" fill="#f59200"/><rect x="452.43" y="160.35" width="11.68" height="2.00" fill="#f8b418"/><rect x="452.43" y="162.06" width="11.68" height="2.00" fill="#e43c00"/><rect x="452.43" y="163.77" width="11.68" height="2.00" fill="#f59200"/><rect x="452.43" y="165.47" width="11.68" height="2.00" fill="#f8b418"/><rect x="452.43" y="167.18" width="11.68" height="2.00" fill="#f06c00"/><rect x="452.43" y="168.88" width="11.68" height="2.00" fill="#e43c00"/><rect x="452.43" y="170.59" width="11.68" height="2.00" fill="#f06c00"/><rect x="452.43" y="172.29" width="11.68" height="2.00" fill="#f59200"/><rect x="452.43" y="174.00" width="11.68" height="2.00" fill="#f06c00"/><rect x="452.43" y="175.70" width="11.68" height="2.00" fill="#f59200"/><rect x="452.43" y="177.41" width="11.68" height="2.00" fill="#f06c00"/><rect x="452.43" y="179.11" width="11.68" height="2.00" fill="#f8b418"/><rect x="452.43" y="180.82" width="11.68" height="2.00" fill="#f06c00"/><rect x="452.43" y="182.52" width="11.68" height="2.00" fill="#f8b418"/><rect x="452.43" y="184.22" width="11.68" height="2.00" fill="#f8b418"/><rect x="452.43" y="185.93" width="11.68" height="2.00" fill="#f59200"/><rect x="452.43" y="187.64" width="11.68" height="2.00" fill="#f59200"/><rect x="452.43" y="189.34" width="11.68" height="2.00" fill="#f59200"/><rect x="452.43" y="191.04" width="11.68" height="2.00" fill="#f8b418"/><rect x="452.43" y="192.75" width="11.68" height="2.00" fill="#f59200"/><rect x="452.43" y="194.46" width="11.68" height="2.00" fill="#f59200"/><rect x="452.43" y="196.16" width="11.68" height="2.00" fill="#f8b418"/><rect x="452.43" y="197.87" width="11.68" height="2.00" fill="#fbcf48"/><rect x="452.43" y="199.57" width="11.68" height="2.00" fill="#fbcf48"/><rect x="452.43" y="201.28" width="11.68" height="2.00" fill="#f8b418"/><rect x="452.43" y="202.98" width="11.68" height="2.00" fill="#f06c00"/><rect x="452.43" y="204.69" width="11.68" height="2.00" fill="#f06c00"/><rect x="452.43" y="206.39" width="11.68" height="2.00" fill="#e43c00"/><rect x="452.43" y="208.09" width="11.68" height="2.00" fill="#e43c00"/><rect x="452.43" y="209.80" width="11.68" height="2.00" fill="#f06c00"/><rect x="452.43" y="211.50" width="11.68" height="2.00" fill="#f06c00"/><rect x="452.43" y="213.21" width="11.68" height="2.00" fill="#f59200"/><rect x="452.43" y="214.91" width="11.68" height="2.00" fill="#f06c00"/><rect x="452.43" y="216.62" width="11.68" height="2.00" fill="#d41800"/><rect x="452.43" y="218.33" width="11.68" height="2.00" fill="#d41800"/><rect x="452.43" y="220.03" width="11.68" height="2.00" fill="#f06c00"/><rect x="452.43" y="221.74" width="11.68" height="2.00" fill="#f59200"/><rect x="452.43" y="223.44" width="11.68" height="2.00" fill="#f59200"/><rect x="452.43" y="225.15" width="11.68" height="2.00" fill="#e43c00"/><rect x="452.43" y="226.85" width="11.68" height="2.00" fill="#f59200"/><rect x="452.43" y="228.56" width="11.68" height="2.00" fill="#fbcf48"/><rect x="452.43" y="230.26" width="11.68" height="2.00" fill="#f59200"/><rect x="452.43" y="231.97" width="11.68" height="2.00" fill="#f8b418"/><rect x="452.43" y="233.67" width="11.68" height="2.00" fill="#f06c00"/><rect x="452.43" y="235.38" width="11.68" height="2.00" fill="#f06c00"/><rect x="452.43" y="237.08" width="11.68" height="2.00" fill="#e43c00"/><rect x="452.43" y="238.78" width="11.68" height="2.00" fill="#e43c00"/><rect x="452.43" y="240.49" width="11.68" height="2.00" fill="#f59200"/><rect x="452.43" y="242.19" width="11.68" height="2.00" fill="#f06c00"/><rect x="452.43" y="243.90" width="11.68" height="2.00" fill="#e43c00"/><rect x="452.43" y="245.60" width="11.68" height="2.00" fill="#f06c00"/><rect x="452.43" y="247.31" width="11.68" height="2.00" fill="#d41800"/><rect x="452.43" y="249.02" width="11.68" height="2.00" fill="#e43c00"/><rect x="452.43" y="250.72" width="11.68" height="2.00" fill="#d41800"/><rect x="452.43" y="252.43" width="11.68" height="2.00" fill="#e43c00"/><rect x="452.43" y="254.13" width="11.68" height="2.00" fill="#e43c00"/><rect x="452.43" y="255.84" width="11.68" height="2.00" fill="#e43c00"/><rect x="452.43" y="257.54" width="11.68" height="2.00" fill="#f8b418"/><rect x="452.43" y="259.24" width="11.68" height="2.00" fill="#f59200"/><rect x="452.43" y="260.95" width="11.68" height="2.00" fill="#fbcf48"/><rect x="452.43" y="262.65" width="11.68" height="2.00" fill="#fbcf48"/><rect x="452.43" y="264.36" width="11.68" height="2.00" fill="#f59200"/><rect x="452.43" y="266.06" width="11.68" height="2.00" fill="#f8b418"/><rect x="452.43" y="267.77" width="11.68" height="2.00" fill="#e43c00"/><rect x="452.43" y="269.47" width="11.68" height="2.00" fill="#e43c00"/><rect x="452.43" y="271.18" width="11.68" height="2.00" fill="#e43c00"/><rect x="452.43" y="272.88" width="11.68" height="2.00" fill="#e43c00"/><rect x="452.43" y="274.59" width="11.68" height="2.00" fill="#f8b418"/><rect x="452.43" y="276.29" width="11.68" height="2.00" fill="#f06c00"/><rect x="463.82" y="73.40" width="11.68" height="2.00" fill="#f8b418"/><rect x="463.82" y="75.11" width="11.68" height="2.00" fill="#fbcf48"/><rect x="463.82" y="76.81" width="11.68" height="2.00" fill="#fbcf48"/><rect x="463.82" y="78.52" width="11.68" height="2.00" fill="#fde485"/><rect x="463.82" y="80.22" width="11.68" height="2.00" fill="#f8b418"/><rect x="463.82" y="81.92" width="11.68" height="2.00" fill="#fbcf48"/><rect x="463.82" y="83.63" width="11.68" height="2.00" fill="#fbcf48"/><rect x="463.82" y="85.34" width="11.68" height="2.00" fill="#fbcf48"/><rect x="463.82" y="87.04" width="11.68" height="2.00" fill="#b40800"/><rect x="463.82" y="88.75" width="11.68" height="2.00" fill="#b40800"/><rect x="463.82" y="90.45" width="11.68" height="2.00" fill="#fbcf48"/><rect x="463.82" y="92.16" width="11.68" height="2.00" fill="#f59200"/><rect x="463.82" y="93.86" width="11.68" height="2.00" fill="#fbcf48"/><rect x="463.82" y="95.56" width="11.68" height="2.00" fill="#f8b418"/><rect x="463.82" y="97.27" width="11.68" height="2.00" fill="#f8b418"/><rect x="463.82" y="98.98" width="11.68" height="2.00" fill="#f8b418"/><rect x="463.82" y="100.68" width="11.68" height="2.00" fill="#f59200"/><rect x="463.82" y="102.39" width="11.68" height="2.00" fill="#f8b418"/><rect x="463.82" y="104.09" width="11.68" height="2.00" fill="#f59200"/><rect x="463.82" y="105.80" width="11.68" height="2.00" fill="#f59200"/><rect x="463.82" y="107.50" width="11.68" height="2.00" fill="#d41800"/><rect x="463.82" y="109.20" width="11.68" height="2.00" fill="#d41800"/><rect x="463.82" y="110.91" width="11.68" height="2.00" fill="#f8b418"/><rect x="463.82" y="112.61" width="11.68" height="2.00" fill="#f8b418"/><rect x="463.82" y="114.32" width="11.68" height="2.00" fill="#fbcf48"/><rect x="463.82" y="116.02" width="11.68" height="2.00" fill="#fde485"/><rect x="463.82" y="117.73" width="11.68" height="2.00" fill="#f06c00"/><rect x="463.82" y="119.44" width="11.68" height="2.00" fill="#f06c00"/><rect x="463.82" y="121.14" width="11.68" height="2.00" fill="#fbcf48"/><rect x="463.82" y="122.84" width="11.68" height="2.00" fill="#f8b418"/><rect x="463.82" y="124.55" width="11.68" height="2.00" fill="#fbcf48"/><rect x="463.82" y="126.26" width="11.68" height="2.00" fill="#fde485"/><rect x="463.82" y="127.96" width="11.68" height="2.00" fill="#fde485"/><rect x="463.82" y="129.67" width="11.68" height="2.00" fill="#f8b418"/><rect x="463.82" y="131.37" width="11.68" height="2.00" fill="#d41800"/><rect x="463.82" y="133.08" width="11.68" height="2.00" fill="#d41800"/><rect x="463.82" y="134.78" width="11.68" height="2.00" fill="#b40800"/><rect x="463.82" y="136.49" width="11.68" height="2.00" fill="#b40800"/><rect x="463.82" y="138.19" width="11.68" height="2.00" fill="#e43c00"/><rect x="463.82" y="139.90" width="11.68" height="2.00" fill="#e43c00"/><rect x="463.82" y="141.60" width="11.68" height="2.00" fill="#f59200"/><rect x="463.82" y="143.31" width="11.68" height="2.00" fill="#f06c00"/><rect x="463.82" y="145.01" width="11.68" height="2.00" fill="#f59200"/><rect x="463.82" y="146.72" width="11.68" height="2.00" fill="#fbcf48"/><rect x="463.82" y="148.42" width="11.68" height="2.00" fill="#f8b418"/><rect x="463.82" y="150.13" width="11.68" height="2.00" fill="#fbcf48"/><rect x="463.82" y="151.83" width="11.68" height="2.00" fill="#f8b418"/><rect x="463.82" y="153.53" width="11.68" height="2.00" fill="#f59200"/><rect x="463.82" y="155.24" width="11.68" height="2.00" fill="#d41800"/><rect x="463.82" y="156.95" width="11.68" height="2.00" fill="#b40800"/><rect x="463.82" y="158.65" width="11.68" height="2.00" fill="#f8b418"/><rect x="463.82" y="160.35" width="11.68" height="2.00" fill="#f8b418"/><rect x="463.82" y="162.06" width="11.68" height="2.00" fill="#f59200"/><rect x="463.82" y="163.77" width="11.68" height="2.00" fill="#f8b418"/><rect x="463.82" y="165.47" width="11.68" height="2.00" fill="#e43c00"/><rect x="463.82" y="167.18" width="11.68" height="2.00" fill="#f06c00"/><rect x="463.82" y="168.88" width="11.68" height="2.00" fill="#e43c00"/><rect x="463.82" y="170.59" width="11.68" height="2.00" fill="#f06c00"/><rect x="463.82" y="172.29" width="11.68" height="2.00" fill="#d41800"/><rect x="463.82" y="174.00" width="11.68" height="2.00" fill="#d41800"/><rect x="463.82" y="175.70" width="11.68" height="2.00" fill="#f59200"/><rect x="463.82" y="177.41" width="11.68" height="2.00" fill="#f06c00"/><rect x="463.82" y="179.11" width="11.68" height="2.00" fill="#fde485"/><rect x="463.82" y="180.82" width="11.68" height="2.00" fill="#fbcf48"/><rect x="463.82" y="182.52" width="11.68" height="2.00" fill="#fbcf48"/><rect x="463.82" y="184.22" width="11.68" height="2.00" fill="#fbcf48"/><rect x="463.82" y="185.93" width="11.68" height="2.00" fill="#fbcf48"/><rect x="463.82" y="187.64" width="11.68" height="2.00" fill="#f8b418"/><rect x="463.82" y="189.34" width="11.68" height="2.00" fill="#f8b418"/><rect x="463.82" y="191.04" width="11.68" height="2.00" fill="#f8b418"/><rect x="463.82" y="192.75" width="11.68" height="2.00" fill="#e43c00"/><rect x="463.82" y="194.46" width="11.68" height="2.00" fill="#f06c00"/><rect x="463.82" y="196.16" width="11.68" height="2.00" fill="#f8b418"/><rect x="463.82" y="197.87" width="11.68" height="2.00" fill="#f59200"/><rect x="463.82" y="199.57" width="11.68" height="2.00" fill="#f59200"/><rect x="463.82" y="201.28" width="11.68" height="2.00" fill="#f59200"/><rect x="463.82" y="202.98" width="11.68" height="2.00" fill="#f06c00"/><rect x="463.82" y="204.69" width="11.68" height="2.00" fill="#f8b418"/><rect x="463.82" y="206.39" width="11.68" height="2.00" fill="#d41800"/><rect x="463.82" y="208.09" width="11.68" height="2.00" fill="#e43c00"/><rect x="463.82" y="209.80" width="11.68" height="2.00" fill="#b40800"/><rect x="463.82" y="211.50" width="11.68" height="2.00" fill="#b40800"/><rect x="463.82" y="213.21" width="11.68" height="2.00" fill="#d41800"/><rect x="463.82" y="214.91" width="11.68" height="2.00" fill="#d41800"/><rect x="463.82" y="216.62" width="11.68" height="2.00" fill="#d41800"/><rect x="463.82" y="218.33" width="11.68" height="2.00" fill="#e43c00"/><rect x="463.82" y="220.03" width="11.68" height="2.00" fill="#b40800"/><rect x="463.82" y="221.74" width="11.68" height="2.00" fill="#b40800"/><rect x="463.82" y="223.44" width="11.68" height="2.00" fill="#e43c00"/><rect x="463.82" y="225.15" width="11.68" height="2.00" fill="#d41800"/><rect x="463.82" y="226.85" width="11.68" height="2.00" fill="#f06c00"/><rect x="463.82" y="228.56" width="11.68" height="2.00" fill="#f59200"/><rect x="463.82" y="230.26" width="11.68" height="2.00" fill="#f8b418"/><rect x="463.82" y="231.97" width="11.68" height="2.00" fill="#f8b418"/><rect x="463.82" y="233.67" width="11.68" height="2.00" fill="#f8b418"/><rect x="463.82" y="235.38" width="11.68" height="2.00" fill="#f8b418"/><rect x="463.82" y="237.08" width="11.68" height="2.00" fill="#d41800"/><rect x="463.82" y="238.78" width="11.68" height="2.00" fill="#d41800"/><rect x="463.82" y="240.49" width="11.68" height="2.00" fill="#f59200"/><rect x="463.82" y="242.19" width="11.68" height="2.00" fill="#f59200"/><rect x="463.82" y="243.90" width="11.68" height="2.00" fill="#e43c00"/><rect x="463.82" y="245.60" width="11.68" height="2.00" fill="#e43c00"/><rect x="463.82" y="247.31" width="11.68" height="2.00" fill="#e43c00"/><rect x="463.82" y="249.02" width="11.68" height="2.00" fill="#d41800"/><rect x="463.82" y="250.72" width="11.68" height="2.00" fill="#d41800"/><rect x="463.82" y="252.43" width="11.68" height="2.00" fill="#d41800"/><rect x="463.82" y="254.13" width="11.68" height="2.00" fill="#f59200"/><rect x="463.82" y="255.84" width="11.68" height="2.00" fill="#f59200"/><rect x="463.82" y="257.54" width="11.68" height="2.00" fill="#f8b418"/><rect x="463.82" y="259.24" width="11.68" height="2.00" fill="#f8b418"/><rect x="463.82" y="260.95" width="11.68" height="2.00" fill="#f59200"/><rect x="463.82" y="262.65" width="11.68" height="2.00" fill="#f8b418"/><rect x="463.82" y="264.36" width="11.68" height="2.00" fill="#f06c00"/><rect x="463.82" y="266.06" width="11.68" height="2.00" fill="#f06c00"/><rect x="463.82" y="267.77" width="11.68" height="2.00" fill="#e43c00"/><rect x="463.82" y="269.47" width="11.68" height="2.00" fill="#d41800"/><rect x="463.82" y="271.18" width="11.68" height="2.00" fill="#d41800"/><rect x="463.82" y="272.88" width="11.68" height="2.00" fill="#e43c00"/><rect x="463.82" y="274.59" width="11.68" height="2.00" fill="#f06c00"/><rect x="463.82" y="276.29" width="11.68" height="2.00" fill="#e43c00"/><rect x="475.20" y="73.40" width="11.68" height="2.00" fill="#f59200"/><rect x="475.20" y="75.11" width="11.68" height="2.00" fill="#e43c00"/><rect x="475.20" y="76.81" width="11.68" height="2.00" fill="#f8b418"/><rect x="475.20" y="78.52" width="11.68" height="2.00" fill="#f8b418"/><rect x="475.20" y="80.22" width="11.68" height="2.00" fill="#f59200"/><rect x="475.20" y="81.92" width="11.68" height="2.00" fill="#f59200"/><rect x="475.20" y="83.63" width="11.68" height="2.00" fill="#fbcf48"/><rect x="475.20" y="85.34" width="11.68" height="2.00" fill="#f59200"/><rect x="475.20" y="87.04" width="11.68" height="2.00" fill="#f06c00"/><rect x="475.20" y="88.75" width="11.68" height="2.00" fill="#f8b418"/><rect x="475.20" y="90.45" width="11.68" height="2.00" fill="#f06c00"/><rect x="475.20" y="92.16" width="11.68" height="2.00" fill="#f06c00"/><rect x="475.20" y="93.86" width="11.68" height="2.00" fill="#d41800"/><rect x="475.20" y="95.56" width="11.68" height="2.00" fill="#d41800"/><rect x="475.20" y="97.27" width="11.68" height="2.00" fill="#e43c00"/><rect x="475.20" y="98.98" width="11.68" height="2.00" fill="#f06c00"/><rect x="475.20" y="100.68" width="11.68" height="2.00" fill="#e43c00"/><rect x="475.20" y="102.39" width="11.68" height="2.00" fill="#d41800"/><rect x="475.20" y="104.09" width="11.68" height="2.00" fill="#e43c00"/><rect x="475.20" y="105.80" width="11.68" height="2.00" fill="#d41800"/><rect x="475.20" y="107.50" width="11.68" height="2.00" fill="#f59200"/><rect x="475.20" y="109.20" width="11.68" height="2.00" fill="#f8b418"/><rect x="475.20" y="110.91" width="11.68" height="2.00" fill="#f8b418"/><rect x="475.20" y="112.61" width="11.68" height="2.00" fill="#f8b418"/><rect x="475.20" y="114.32" width="11.68" height="2.00" fill="#f8b418"/><rect x="475.20" y="116.02" width="11.68" height="2.00" fill="#f8b418"/><rect x="475.20" y="117.73" width="11.68" height="2.00" fill="#e43c00"/><rect x="475.20" y="119.44" width="11.68" height="2.00" fill="#f06c00"/><rect x="475.20" y="121.14" width="11.68" height="2.00" fill="#e43c00"/><rect x="475.20" y="122.84" width="11.68" height="2.00" fill="#f06c00"/><rect x="475.20" y="124.55" width="11.68" height="2.00" fill="#f06c00"/><rect x="475.20" y="126.26" width="11.68" height="2.00" fill="#f06c00"/><rect x="475.20" y="127.96" width="11.68" height="2.00" fill="#f8b418"/><rect x="475.20" y="129.67" width="11.68" height="2.00" fill="#f59200"/><rect x="475.20" y="131.37" width="11.68" height="2.00" fill="#f59200"/><rect x="475.20" y="133.08" width="11.68" height="2.00" fill="#e43c00"/><rect x="475.20" y="134.78" width="11.68" height="2.00" fill="#f8b418"/><rect x="475.20" y="136.49" width="11.68" height="2.00" fill="#f8b418"/><rect x="475.20" y="138.19" width="11.68" height="2.00" fill="#fbcf48"/><rect x="475.20" y="139.90" width="11.68" height="2.00" fill="#f8b418"/><rect x="475.20" y="141.60" width="11.68" height="2.00" fill="#f59200"/><rect x="475.20" y="143.31" width="11.68" height="2.00" fill="#f8b418"/><rect x="475.20" y="145.01" width="11.68" height="2.00" fill="#e43c00"/><rect x="475.20" y="146.72" width="11.68" height="2.00" fill="#e43c00"/><rect x="475.20" y="148.42" width="11.68" height="2.00" fill="#e43c00"/><rect x="475.20" y="150.13" width="11.68" height="2.00" fill="#f06c00"/><rect x="475.20" y="151.83" width="11.68" height="2.00" fill="#f06c00"/><rect x="475.20" y="153.53" width="11.68" height="2.00" fill="#f06c00"/><rect x="475.20" y="155.24" width="11.68" height="2.00" fill="#f59200"/><rect x="475.20" y="156.95" width="11.68" height="2.00" fill="#fbcf48"/><rect x="475.20" y="158.65" width="11.68" height="2.00" fill="#f59200"/><rect x="475.20" y="160.35" width="11.68" height="2.00" fill="#f59200"/><rect x="475.20" y="162.06" width="11.68" height="2.00" fill="#f59200"/><rect x="475.20" y="163.77" width="11.68" height="2.00" fill="#f59200"/><rect x="475.20" y="165.47" width="11.68" height="2.00" fill="#f06c00"/><rect x="475.20" y="167.18" width="11.68" height="2.00" fill="#f06c00"/><rect x="475.20" y="168.88" width="11.68" height="2.00" fill="#fbcf48"/><rect x="475.20" y="170.59" width="11.68" height="2.00" fill="#f59200"/><rect x="475.20" y="172.29" width="11.68" height="2.00" fill="#f8b418"/><rect x="475.20" y="174.00" width="11.68" height="2.00" fill="#f8b418"/><rect x="475.20" y="175.70" width="11.68" height="2.00" fill="#f59200"/><rect x="475.20" y="177.41" width="11.68" height="2.00" fill="#f8b418"/><rect x="475.20" y="179.11" width="11.68" height="2.00" fill="#f59200"/><rect x="475.20" y="180.82" width="11.68" height="2.00" fill="#f59200"/><rect x="475.20" y="182.52" width="11.68" height="2.00" fill="#e43c00"/><rect x="475.20" y="184.22" width="11.68" height="2.00" fill="#d41800"/><rect x="475.20" y="185.93" width="11.68" height="2.00" fill="#d41800"/><rect x="475.20" y="187.64" width="11.68" height="2.00" fill="#d41800"/><rect x="475.20" y="189.34" width="11.68" height="2.00" fill="#e43c00"/><rect x="475.20" y="191.04" width="11.68" height="2.00" fill="#d41800"/><rect x="475.20" y="192.75" width="11.68" height="2.00" fill="#f06c00"/><rect x="475.20" y="194.46" width="11.68" height="2.00" fill="#f06c00"/><rect x="475.20" y="196.16" width="11.68" height="2.00" fill="#e43c00"/><rect x="475.20" y="197.87" width="11.68" height="2.00" fill="#e43c00"/><rect x="475.20" y="199.57" width="11.68" height="2.00" fill="#f06c00"/><rect x="475.20" y="201.28" width="11.68" height="2.00" fill="#e43c00"/><rect x="475.20" y="202.98" width="11.68" height="2.00" fill="#f8b418"/><rect x="475.20" y="204.69" width="11.68" height="2.00" fill="#f59200"/><rect x="475.20" y="206.39" width="11.68" height="2.00" fill="#f06c00"/><rect x="475.20" y="208.09" width="11.68" height="2.00" fill="#e43c00"/><rect x="475.20" y="209.80" width="11.68" height="2.00" fill="#f8b418"/><rect x="475.20" y="211.50" width="11.68" height="2.00" fill="#f8b418"/><rect x="475.20" y="213.21" width="11.68" height="2.00" fill="#f59200"/><rect x="475.20" y="214.91" width="11.68" height="2.00" fill="#f8b418"/><rect x="475.20" y="216.62" width="11.68" height="2.00" fill="#f06c00"/><rect x="475.20" y="218.33" width="11.68" height="2.00" fill="#f06c00"/><rect x="475.20" y="220.03" width="11.68" height="2.00" fill="#fbcf48"/><rect x="475.20" y="221.74" width="11.68" height="2.00" fill="#f8b418"/><rect x="475.20" y="223.44" width="11.68" height="2.00" fill="#f59200"/><rect x="475.20" y="225.15" width="11.68" height="2.00" fill="#f8b418"/><rect x="475.20" y="226.85" width="11.68" height="2.00" fill="#f8b418"/><rect x="475.20" y="228.56" width="11.68" height="2.00" fill="#f59200"/><rect x="475.20" y="230.26" width="11.68" height="2.00" fill="#f8b418"/><rect x="475.20" y="231.97" width="11.68" height="2.00" fill="#f06c00"/><rect x="475.20" y="233.67" width="11.68" height="2.00" fill="#f8b418"/><rect x="475.20" y="235.38" width="11.68" height="2.00" fill="#fde485"/><rect x="475.20" y="237.08" width="11.68" height="2.00" fill="#f59200"/><rect x="475.20" y="238.78" width="11.68" height="2.00" fill="#f06c00"/><rect x="475.20" y="240.49" width="11.68" height="2.00" fill="#d41800"/><rect x="475.20" y="242.19" width="11.68" height="2.00" fill="#e43c00"/><rect x="475.20" y="243.90" width="11.68" height="2.00" fill="#f8b418"/><rect x="475.20" y="245.60" width="11.68" height="2.00" fill="#f8b418"/><rect x="475.20" y="247.31" width="11.68" height="2.00" fill="#fde485"/><rect x="475.20" y="249.02" width="11.68" height="2.00" fill="#fbcf48"/><rect x="475.20" y="250.72" width="11.68" height="2.00" fill="#fbcf48"/><rect x="475.20" y="252.43" width="11.68" height="2.00" fill="#f59200"/><rect x="475.20" y="254.13" width="11.68" height="2.00" fill="#f59200"/><rect x="475.20" y="255.84" width="11.68" height="2.00" fill="#f8b418"/><rect x="475.20" y="257.54" width="11.68" height="2.00" fill="#e43c00"/><rect x="475.20" y="259.24" width="11.68" height="2.00" fill="#f06c00"/><rect x="475.20" y="260.95" width="11.68" height="2.00" fill="#f8b418"/><rect x="475.20" y="262.65" width="11.68" height="2.00" fill="#fbcf48"/><rect x="475.20" y="264.36" width="11.68" height="2.00" fill="#f06c00"/><rect x="475.20" y="266.06" width="11.68" height="2.00" fill="#f59200"/><rect x="475.20" y="267.77" width="11.68" height="2.00" fill="#d41800"/><rect x="475.20" y="269.47" width="11.68" height="2.00" fill="#e43c00"/><rect x="475.20" y="271.18" width="11.68" height="2.00" fill="#f06c00"/><rect x="475.20" y="272.88" width="11.68" height="2.00" fill="#f06c00"/><rect x="475.20" y="274.59" width="11.68" height="2.00" fill="#f06c00"/><rect x="475.20" y="276.29" width="11.68" height="2.00" fill="#f06c00"/><rect x="486.58" y="73.40" width="11.68" height="2.00" fill="#f59200"/><rect x="486.58" y="75.11" width="11.68" height="2.00" fill="#f59200"/><rect x="486.58" y="76.81" width="11.68" height="2.00" fill="#f8b418"/><rect x="486.58" y="78.52" width="11.68" height="2.00" fill="#f8b418"/><rect x="486.58" y="80.22" width="11.68" height="2.00" fill="#f59200"/><rect x="486.58" y="81.92" width="11.68" height="2.00" fill="#f8b418"/><rect x="486.58" y="83.63" width="11.68" height="2.00" fill="#f8b418"/><rect x="486.58" y="85.34" width="11.68" height="2.00" fill="#f06c00"/><rect x="486.58" y="87.04" width="11.68" height="2.00" fill="#f06c00"/><rect x="486.58" y="88.75" width="11.68" height="2.00" fill="#f8b418"/><rect x="486.58" y="90.45" width="11.68" height="2.00" fill="#f59200"/><rect x="486.58" y="92.16" width="11.68" height="2.00" fill="#f59200"/><rect x="486.58" y="93.86" width="11.68" height="2.00" fill="#f06c00"/><rect x="486.58" y="95.56" width="11.68" height="2.00" fill="#d41800"/><rect x="486.58" y="97.27" width="11.68" height="2.00" fill="#e43c00"/><rect x="486.58" y="98.98" width="11.68" height="2.00" fill="#e43c00"/><rect x="486.58" y="100.68" width="11.68" height="2.00" fill="#f06c00"/><rect x="486.58" y="102.39" width="11.68" height="2.00" fill="#e43c00"/><rect x="486.58" y="104.09" width="11.68" height="2.00" fill="#f06c00"/><rect x="486.58" y="105.80" width="11.68" height="2.00" fill="#e43c00"/><rect x="486.58" y="107.50" width="11.68" height="2.00" fill="#f59200"/><rect x="486.58" y="109.20" width="11.68" height="2.00" fill="#f8b418"/><rect x="486.58" y="110.91" width="11.68" height="2.00" fill="#f8b418"/><rect x="486.58" y="112.61" width="11.68" height="2.00" fill="#f59200"/><rect x="486.58" y="114.32" width="11.68" height="2.00" fill="#f8b418"/><rect x="486.58" y="116.02" width="11.68" height="2.00" fill="#f8b418"/><rect x="486.58" y="117.73" width="11.68" height="2.00" fill="#e43c00"/><rect x="486.58" y="119.44" width="11.68" height="2.00" fill="#e43c00"/><rect x="486.58" y="121.14" width="11.68" height="2.00" fill="#d41800"/><rect x="486.58" y="122.84" width="11.68" height="2.00" fill="#e43c00"/><rect x="486.58" y="124.55" width="11.68" height="2.00" fill="#f06c00"/><rect x="486.58" y="126.26" width="11.68" height="2.00" fill="#f06c00"/><rect x="486.58" y="127.96" width="11.68" height="2.00" fill="#f8b418"/><rect x="486.58" y="129.67" width="11.68" height="2.00" fill="#f59200"/><rect x="486.58" y="131.37" width="11.68" height="2.00" fill="#f59200"/><rect x="486.58" y="133.08" width="11.68" height="2.00" fill="#f59200"/><rect x="486.58" y="134.78" width="11.68" height="2.00" fill="#f8b418"/><rect x="486.58" y="136.49" width="11.68" height="2.00" fill="#f8b418"/><rect x="486.58" y="138.19" width="11.68" height="2.00" fill="#fbcf48"/><rect x="486.58" y="139.90" width="11.68" height="2.00" fill="#f8b418"/><rect x="486.58" y="141.60" width="11.68" height="2.00" fill="#f59200"/><rect x="486.58" y="143.31" width="11.68" height="2.00" fill="#f59200"/><rect x="486.58" y="145.01" width="11.68" height="2.00" fill="#d41800"/><rect x="486.58" y="146.72" width="11.68" height="2.00" fill="#d41800"/><rect x="486.58" y="148.42" width="11.68" height="2.00" fill="#f06c00"/><rect x="486.58" y="150.13" width="11.68" height="2.00" fill="#f59200"/><rect x="486.58" y="151.83" width="11.68" height="2.00" fill="#f59200"/><rect x="486.58" y="153.53" width="11.68" height="2.00" fill="#f59200"/><rect x="486.58" y="155.24" width="11.68" height="2.00" fill="#f06c00"/><rect x="486.58" y="156.95" width="11.68" height="2.00" fill="#f8b418"/><rect x="486.58" y="158.65" width="11.68" height="2.00" fill="#f06c00"/><rect x="486.58" y="160.35" width="11.68" height="2.00" fill="#f06c00"/><rect x="486.58" y="162.06" width="11.68" height="2.00" fill="#e43c00"/><rect x="486.58" y="163.77" width="11.68" height="2.00" fill="#e43c00"/><rect x="486.58" y="165.47" width="11.68" height="2.00" fill="#f59200"/><rect x="486.58" y="167.18" width="11.68" height="2.00" fill="#f59200"/><rect x="486.58" y="168.88" width="11.68" height="2.00" fill="#fbcf48"/><rect x="486.58" y="170.59" width="11.68" height="2.00" fill="#f59200"/><rect x="486.58" y="172.29" width="11.68" height="2.00" fill="#f06c00"/><rect x="486.58" y="174.00" width="11.68" height="2.00" fill="#f59200"/><rect x="486.58" y="175.70" width="11.68" height="2.00" fill="#f06c00"/><rect x="486.58" y="177.41" width="11.68" height="2.00" fill="#f59200"/><rect x="486.58" y="179.11" width="11.68" height="2.00" fill="#f06c00"/><rect x="486.58" y="180.82" width="11.68" height="2.00" fill="#f06c00"/><rect x="486.58" y="182.52" width="11.68" height="2.00" fill="#e43c00"/><rect x="486.58" y="184.22" width="11.68" height="2.00" fill="#d41800"/><rect x="486.58" y="185.93" width="11.68" height="2.00" fill="#e43c00"/><rect x="486.58" y="187.64" width="11.68" height="2.00" fill="#e43c00"/><rect x="486.58" y="189.34" width="11.68" height="2.00" fill="#d41800"/><rect x="486.58" y="191.04" width="11.68" height="2.00" fill="#d41800"/><rect x="486.58" y="192.75" width="11.68" height="2.00" fill="#f59200"/><rect x="486.58" y="194.46" width="11.68" height="2.00" fill="#f59200"/><rect x="486.58" y="196.16" width="11.68" height="2.00" fill="#e43c00"/><rect x="486.58" y="197.87" width="11.68" height="2.00" fill="#e43c00"/><rect x="486.58" y="199.57" width="11.68" height="2.00" fill="#e43c00"/><rect x="486.58" y="201.28" width="11.68" height="2.00" fill="#d41800"/><rect x="486.58" y="202.98" width="11.68" height="2.00" fill="#fbcf48"/><rect x="486.58" y="204.69" width="11.68" height="2.00" fill="#f8b418"/><rect x="486.58" y="206.39" width="11.68" height="2.00" fill="#e43c00"/><rect x="486.58" y="208.09" width="11.68" height="2.00" fill="#e43c00"/><rect x="486.58" y="209.80" width="11.68" height="2.00" fill="#f06c00"/><rect x="486.58" y="211.50" width="11.68" height="2.00" fill="#f06c00"/><rect x="486.58" y="213.21" width="11.68" height="2.00" fill="#f06c00"/><rect x="486.58" y="214.91" width="11.68" height="2.00" fill="#f06c00"/><rect x="486.58" y="216.62" width="11.68" height="2.00" fill="#e43c00"/><rect x="486.58" y="218.33" width="11.68" height="2.00" fill="#e43c00"/><rect x="486.58" y="220.03" width="11.68" height="2.00" fill="#f59200"/><rect x="486.58" y="221.74" width="11.68" height="2.00" fill="#f59200"/><rect x="486.58" y="223.44" width="11.68" height="2.00" fill="#f06c00"/><rect x="486.58" y="225.15" width="11.68" height="2.00" fill="#f8b418"/><rect x="486.58" y="226.85" width="11.68" height="2.00" fill="#f8b418"/><rect x="486.58" y="228.56" width="11.68" height="2.00" fill="#f59200"/><rect x="486.58" y="230.26" width="11.68" height="2.00" fill="#f59200"/><rect x="486.58" y="231.97" width="11.68" height="2.00" fill="#f06c00"/><rect x="486.58" y="233.67" width="11.68" height="2.00" fill="#fbcf48"/><rect x="486.58" y="235.38" width="11.68" height="2.00" fill="#fde485"/><rect x="486.58" y="237.08" width="11.68" height="2.00" fill="#f59200"/><rect x="486.58" y="238.78" width="11.68" height="2.00" fill="#f06c00"/><rect x="486.58" y="240.49" width="11.68" height="2.00" fill="#d41800"/><rect x="486.58" y="242.19" width="11.68" height="2.00" fill="#e43c00"/><rect x="486.58" y="243.90" width="11.68" height="2.00" fill="#f59200"/><rect x="486.58" y="245.60" width="11.68" height="2.00" fill="#f8b418"/><rect x="486.58" y="247.31" width="11.68" height="2.00" fill="#fde485"/><rect x="486.58" y="249.02" width="11.68" height="2.00" fill="#fbcf48"/><rect x="486.58" y="250.72" width="11.68" height="2.00" fill="#fde485"/><rect x="486.58" y="252.43" width="11.68" height="2.00" fill="#fbcf48"/><rect x="486.58" y="254.13" width="11.68" height="2.00" fill="#f8b418"/><rect x="486.58" y="255.84" width="11.68" height="2.00" fill="#fbcf48"/><rect x="486.58" y="257.54" width="11.68" height="2.00" fill="#f06c00"/><rect x="486.58" y="259.24" width="11.68" height="2.00" fill="#f06c00"/><rect x="486.58" y="260.95" width="11.68" height="2.00" fill="#f8b418"/><rect x="486.58" y="262.65" width="11.68" height="2.00" fill="#fbcf48"/><rect x="486.58" y="264.36" width="11.68" height="2.00" fill="#d41800"/><rect x="486.58" y="266.06" width="11.68" height="2.00" fill="#e43c00"/><rect x="486.58" y="267.77" width="11.68" height="2.00" fill="#e43c00"/><rect x="486.58" y="269.47" width="11.68" height="2.00" fill="#f06c00"/><rect x="486.58" y="271.18" width="11.68" height="2.00" fill="#f8b418"/><rect x="486.58" y="272.88" width="11.68" height="2.00" fill="#f59200"/><rect x="486.58" y="274.59" width="11.68" height="2.00" fill="#f8b418"/><rect x="486.58" y="276.29" width="11.68" height="2.00" fill="#f59200"/><rect x="497.97" y="73.40" width="11.68" height="2.00" fill="#e43c00"/><rect x="497.97" y="75.11" width="11.68" height="2.00" fill="#e43c00"/><rect x="497.97" y="76.81" width="11.68" height="2.00" fill="#f59200"/><rect x="497.97" y="78.52" width="11.68" height="2.00" fill="#f59200"/><rect x="497.97" y="80.22" width="11.68" height="2.00" fill="#f59200"/><rect x="497.97" y="81.92" width="11.68" height="2.00" fill="#f06c00"/><rect x="497.97" y="83.63" width="11.68" height="2.00" fill="#f59200"/><rect x="497.97" y="85.34" width="11.68" height="2.00" fill="#f59200"/><rect x="497.97" y="87.04" width="11.68" height="2.00" fill="#fbcf48"/><rect x="497.97" y="88.75" width="11.68" height="2.00" fill="#f8b418"/><rect x="497.97" y="90.45" width="11.68" height="2.00" fill="#f59200"/><rect x="497.97" y="92.16" width="11.68" height="2.00" fill="#f8b418"/><rect x="497.97" y="93.86" width="11.68" height="2.00" fill="#e43c00"/><rect x="497.97" y="95.56" width="11.68" height="2.00" fill="#d41800"/><rect x="497.97" y="97.27" width="11.68" height="2.00" fill="#f06c00"/><rect x="497.97" y="98.98" width="11.68" height="2.00" fill="#f06c00"/><rect x="497.97" y="100.68" width="11.68" height="2.00" fill="#d41800"/><rect x="497.97" y="102.39" width="11.68" height="2.00" fill="#e43c00"/><rect x="497.97" y="104.09" width="11.68" height="2.00" fill="#f8b418"/><rect x="497.97" y="105.80" width="11.68" height="2.00" fill="#f59200"/><rect x="497.97" y="107.50" width="11.68" height="2.00" fill="#f8b418"/><rect x="497.97" y="109.20" width="11.68" height="2.00" fill="#fbcf48"/><rect x="497.97" y="110.91" width="11.68" height="2.00" fill="#fbcf48"/><rect x="497.97" y="112.61" width="11.68" height="2.00" fill="#f8b418"/><rect x="497.97" y="114.32" width="11.68" height="2.00" fill="#f8b418"/><rect x="497.97" y="116.02" width="11.68" height="2.00" fill="#f59200"/><rect x="497.97" y="117.73" width="11.68" height="2.00" fill="#f06c00"/><rect x="497.97" y="119.44" width="11.68" height="2.00" fill="#f59200"/><rect x="497.97" y="121.14" width="11.68" height="2.00" fill="#e43c00"/><rect x="497.97" y="122.84" width="11.68" height="2.00" fill="#d41800"/><rect x="497.97" y="124.55" width="11.68" height="2.00" fill="#e43c00"/><rect x="497.97" y="126.26" width="11.68" height="2.00" fill="#f06c00"/><rect x="497.97" y="127.96" width="11.68" height="2.00" fill="#d41800"/><rect x="497.97" y="129.67" width="11.68" height="2.00" fill="#d41800"/><rect x="497.97" y="131.37" width="11.68" height="2.00" fill="#e43c00"/><rect x="497.97" y="133.08" width="11.68" height="2.00" fill="#f59200"/><rect x="497.97" y="134.78" width="11.68" height="2.00" fill="#f8b418"/><rect x="497.97" y="136.49" width="11.68" height="2.00" fill="#fbcf48"/><rect x="497.97" y="138.19" width="11.68" height="2.00" fill="#fde485"/><rect x="497.97" y="139.90" width="11.68" height="2.00" fill="#f8b418"/><rect x="497.97" y="141.60" width="11.68" height="2.00" fill="#f59200"/><rect x="497.97" y="143.31" width="11.68" height="2.00" fill="#f8b418"/><rect x="497.97" y="145.01" width="11.68" height="2.00" fill="#d41800"/><rect x="497.97" y="146.72" width="11.68" height="2.00" fill="#e43c00"/><rect x="497.97" y="148.42" width="11.68" height="2.00" fill="#d41800"/><rect x="497.97" y="150.13" width="11.68" height="2.00" fill="#d41800"/><rect x="497.97" y="151.83" width="11.68" height="2.00" fill="#d41800"/><rect x="497.97" y="153.53" width="11.68" height="2.00" fill="#d41800"/><rect x="497.97" y="155.24" width="11.68" height="2.00" fill="#f8b418"/><rect x="497.97" y="156.95" width="11.68" height="2.00" fill="#fbcf48"/><rect x="497.97" y="158.65" width="11.68" height="2.00" fill="#fbcf48"/><rect x="497.97" y="160.35" width="11.68" height="2.00" fill="#f8b418"/><rect x="497.97" y="162.06" width="11.68" height="2.00" fill="#fbcf48"/><rect x="497.97" y="163.77" width="11.68" height="2.00" fill="#f8b418"/><rect x="497.97" y="165.47" width="11.68" height="2.00" fill="#f06c00"/><rect x="497.97" y="167.18" width="11.68" height="2.00" fill="#f8b418"/><rect x="497.97" y="168.88" width="11.68" height="2.00" fill="#fbcf48"/><rect x="497.97" y="170.59" width="11.68" height="2.00" fill="#fbcf48"/><rect x="497.97" y="172.29" width="11.68" height="2.00" fill="#fbcf48"/><rect x="497.97" y="174.00" width="11.68" height="2.00" fill="#fbcf48"/><rect x="497.97" y="175.70" width="11.68" height="2.00" fill="#f8b418"/><rect x="497.97" y="177.41" width="11.68" height="2.00" fill="#f59200"/><rect x="497.97" y="179.11" width="11.68" height="2.00" fill="#e43c00"/><rect x="497.97" y="180.82" width="11.68" height="2.00" fill="#d41800"/><rect x="497.97" y="182.52" width="11.68" height="2.00" fill="#e43c00"/><rect x="497.97" y="184.22" width="11.68" height="2.00" fill="#f06c00"/><rect x="497.97" y="185.93" width="11.68" height="2.00" fill="#e43c00"/><rect x="497.97" y="187.64" width="11.68" height="2.00" fill="#d41800"/><rect x="497.97" y="189.34" width="11.68" height="2.00" fill="#d41800"/><rect x="497.97" y="191.04" width="11.68" height="2.00" fill="#d41800"/><rect x="497.97" y="192.75" width="11.68" height="2.00" fill="#f06c00"/><rect x="497.97" y="194.46" width="11.68" height="2.00" fill="#e43c00"/><rect x="497.97" y="196.16" width="11.68" height="2.00" fill="#d41800"/><rect x="497.97" y="197.87" width="11.68" height="2.00" fill="#d41800"/><rect x="497.97" y="199.57" width="11.68" height="2.00" fill="#d41800"/><rect x="497.97" y="201.28" width="11.68" height="2.00" fill="#e43c00"/><rect x="497.97" y="202.98" width="11.68" height="2.00" fill="#f8b418"/><rect x="497.97" y="204.69" width="11.68" height="2.00" fill="#f59200"/><rect x="497.97" y="206.39" width="11.68" height="2.00" fill="#f59200"/><rect x="497.97" y="208.09" width="11.68" height="2.00" fill="#f8b418"/><rect x="497.97" y="209.80" width="11.68" height="2.00" fill="#fbcf48"/><rect x="497.97" y="211.50" width="11.68" height="2.00" fill="#fde485"/><rect x="497.97" y="213.21" width="11.68" height="2.00" fill="#fbcf48"/><rect x="497.97" y="214.91" width="11.68" height="2.00" fill="#fbcf48"/><rect x="497.97" y="216.62" width="11.68" height="2.00" fill="#f8b418"/><rect x="497.97" y="218.33" width="11.68" height="2.00" fill="#f8b418"/><rect x="497.97" y="220.03" width="11.68" height="2.00" fill="#fbcf48"/><rect x="497.97" y="221.74" width="11.68" height="2.00" fill="#fbcf48"/><rect x="497.97" y="223.44" width="11.68" height="2.00" fill="#fde485"/><rect x="497.97" y="225.15" width="11.68" height="2.00" fill="#fbcf48"/><rect x="497.97" y="226.85" width="11.68" height="2.00" fill="#f8b418"/><rect x="497.97" y="228.56" width="11.68" height="2.00" fill="#fbcf48"/><rect x="497.97" y="230.26" width="11.68" height="2.00" fill="#f59200"/><rect x="497.97" y="231.97" width="11.68" height="2.00" fill="#f59200"/><rect x="497.97" y="233.67" width="11.68" height="2.00" fill="#d41800"/><rect x="497.97" y="235.38" width="11.68" height="2.00" fill="#d41800"/><rect x="497.97" y="237.08" width="11.68" height="2.00" fill="#f06c00"/><rect x="497.97" y="238.78" width="11.68" height="2.00" fill="#f8b418"/><rect x="497.97" y="240.49" width="11.68" height="2.00" fill="#f06c00"/><rect x="497.97" y="242.19" width="11.68" height="2.00" fill="#d41800"/><rect x="497.97" y="243.90" width="11.68" height="2.00" fill="#e43c00"/><rect x="497.97" y="245.60" width="11.68" height="2.00" fill="#f06c00"/><rect x="497.97" y="247.31" width="11.68" height="2.00" fill="#f8b418"/><rect x="497.97" y="249.02" width="11.68" height="2.00" fill="#f59200"/><rect x="497.97" y="250.72" width="11.68" height="2.00" fill="#f8b418"/><rect x="497.97" y="252.43" width="11.68" height="2.00" fill="#f59200"/><rect x="497.97" y="254.13" width="11.68" height="2.00" fill="#e43c00"/><rect x="497.97" y="255.84" width="11.68" height="2.00" fill="#e43c00"/><rect x="497.97" y="257.54" width="11.68" height="2.00" fill="#d41800"/><rect x="497.97" y="259.24" width="11.68" height="2.00" fill="#d41800"/><rect x="497.97" y="260.95" width="11.68" height="2.00" fill="#f8b418"/><rect x="497.97" y="262.65" width="11.68" height="2.00" fill="#f59200"/><rect x="497.97" y="264.36" width="11.68" height="2.00" fill="#fbcf48"/><rect x="497.97" y="266.06" width="11.68" height="2.00" fill="#f59200"/><rect x="497.97" y="267.77" width="11.68" height="2.00" fill="#fbcf48"/><rect x="497.97" y="269.47" width="11.68" height="2.00" fill="#f59200"/><rect x="497.97" y="271.18" width="11.68" height="2.00" fill="#fbcf48"/><rect x="497.97" y="272.88" width="11.68" height="2.00" fill="#f8b418"/><rect x="497.97" y="274.59" width="11.68" height="2.00" fill="#f06c00"/><rect x="497.97" y="276.29" width="11.68" height="2.00" fill="#f8b418"/><rect x="509.35" y="73.40" width="11.68" height="2.00" fill="#e43c00"/><rect x="509.35" y="75.11" width="11.68" height="2.00" fill="#f06c00"/><rect x="509.35" y="76.81" width="11.68" height="2.00" fill="#f59200"/><rect x="509.35" y="78.52" width="11.68" height="2.00" fill="#f8b418"/><rect x="509.35" y="80.22" width="11.68" height="2.00" fill="#f8b418"/><rect x="509.35" y="81.92" width="11.68" height="2.00" fill="#f59200"/><rect x="509.35" y="83.63" width="11.68" height="2.00" fill="#e43c00"/><rect x="509.35" y="85.34" width="11.68" height="2.00" fill="#e43c00"/><rect x="509.35" y="87.04" width="11.68" height="2.00" fill="#f8b418"/><rect x="509.35" y="88.75" width="11.68" height="2.00" fill="#f8b418"/><rect x="509.35" y="90.45" width="11.68" height="2.00" fill="#f8b418"/><rect x="509.35" y="92.16" width="11.68" height="2.00" fill="#f8b418"/><rect x="509.35" y="93.86" width="11.68" height="2.00" fill="#e43c00"/><rect x="509.35" y="95.56" width="11.68" height="2.00" fill="#d41800"/><rect x="509.35" y="97.27" width="11.68" height="2.00" fill="#e43c00"/><rect x="509.35" y="98.98" width="11.68" height="2.00" fill="#e43c00"/><rect x="509.35" y="100.68" width="11.68" height="2.00" fill="#e43c00"/><rect x="509.35" y="102.39" width="11.68" height="2.00" fill="#e43c00"/><rect x="509.35" y="104.09" width="11.68" height="2.00" fill="#f8b418"/><rect x="509.35" y="105.80" width="11.68" height="2.00" fill="#f59200"/><rect x="509.35" y="107.50" width="11.68" height="2.00" fill="#fbcf48"/><rect x="509.35" y="109.20" width="11.68" height="2.00" fill="#fbcf48"/><rect x="509.35" y="110.91" width="11.68" height="2.00" fill="#fbcf48"/><rect x="509.35" y="112.61" width="11.68" height="2.00" fill="#fbcf48"/><rect x="509.35" y="114.32" width="11.68" height="2.00" fill="#fbcf48"/><rect x="509.35" y="116.02" width="11.68" height="2.00" fill="#fbcf48"/><rect x="509.35" y="117.73" width="11.68" height="2.00" fill="#f59200"/><rect x="509.35" y="119.44" width="11.68" height="2.00" fill="#f8b418"/><rect x="509.35" y="121.14" width="11.68" height="2.00" fill="#e43c00"/><rect x="509.35" y="122.84" width="11.68" height="2.00" fill="#d41800"/><rect x="509.35" y="124.55" width="11.68" height="2.00" fill="#e43c00"/><rect x="509.35" y="126.26" width="11.68" height="2.00" fill="#f06c00"/><rect x="509.35" y="127.96" width="11.68" height="2.00" fill="#d41800"/><rect x="509.35" y="129.67" width="11.68" height="2.00" fill="#f06c00"/><rect x="509.35" y="131.37" width="11.68" height="2.00" fill="#e43c00"/><rect x="509.35" y="133.08" width="11.68" height="2.00" fill="#f06c00"/><rect x="509.35" y="134.78" width="11.68" height="2.00" fill="#fde485"/><rect x="509.35" y="136.49" width="11.68" height="2.00" fill="#fbcf48"/><rect x="509.35" y="138.19" width="11.68" height="2.00" fill="#fde485"/><rect x="509.35" y="139.90" width="11.68" height="2.00" fill="#fde485"/><rect x="509.35" y="141.60" width="11.68" height="2.00" fill="#f8b418"/><rect x="509.35" y="143.31" width="11.68" height="2.00" fill="#f8b418"/><rect x="509.35" y="145.01" width="11.68" height="2.00" fill="#d41800"/><rect x="509.35" y="146.72" width="11.68" height="2.00" fill="#e43c00"/><rect x="509.35" y="148.42" width="11.68" height="2.00" fill="#d41800"/><rect x="509.35" y="150.13" width="11.68" height="2.00" fill="#d41800"/><rect x="509.35" y="151.83" width="11.68" height="2.00" fill="#e43c00"/><rect x="509.35" y="153.53" width="11.68" height="2.00" fill="#e43c00"/><rect x="509.35" y="155.24" width="11.68" height="2.00" fill="#f59200"/><rect x="509.35" y="156.95" width="11.68" height="2.00" fill="#f8b418"/><rect x="509.35" y="158.65" width="11.68" height="2.00" fill="#f8b418"/><rect x="509.35" y="160.35" width="11.68" height="2.00" fill="#f59200"/><rect x="509.35" y="162.06" width="11.68" height="2.00" fill="#f06c00"/><rect x="509.35" y="163.77" width="11.68" height="2.00" fill="#f59200"/><rect x="509.35" y="165.47" width="11.68" height="2.00" fill="#f59200"/><rect x="509.35" y="167.18" width="11.68" height="2.00" fill="#fbcf48"/><rect x="509.35" y="168.88" width="11.68" height="2.00" fill="#f8b418"/><rect x="509.35" y="170.59" width="11.68" height="2.00" fill="#fbcf48"/><rect x="509.35" y="172.29" width="11.68" height="2.00" fill="#fbcf48"/><rect x="509.35" y="174.00" width="11.68" height="2.00" fill="#fbcf48"/><rect x="509.35" y="175.70" width="11.68" height="2.00" fill="#f59200"/><rect x="509.35" y="177.41" width="11.68" height="2.00" fill="#f8b418"/><rect x="509.35" y="179.11" width="11.68" height="2.00" fill="#f06c00"/><rect x="509.35" y="180.82" width="11.68" height="2.00" fill="#e43c00"/><rect x="509.35" y="182.52" width="11.68" height="2.00" fill="#d41800"/><rect x="509.35" y="184.22" width="11.68" height="2.00" fill="#e43c00"/><rect x="509.35" y="185.93" width="11.68" height="2.00" fill="#f06c00"/><rect x="509.35" y="187.64" width="11.68" height="2.00" fill="#e43c00"/><rect x="509.35" y="189.34" width="11.68" height="2.00" fill="#d41800"/><rect x="509.35" y="191.04" width="11.68" height="2.00" fill="#e43c00"/><rect x="509.35" y="192.75" width="11.68" height="2.00" fill="#f06c00"/><rect x="509.35" y="194.46" width="11.68" height="2.00" fill="#e43c00"/><rect x="509.35" y="196.16" width="11.68" height="2.00" fill="#d41800"/><rect x="509.35" y="197.87" width="11.68" height="2.00" fill="#d41800"/><rect x="509.35" y="199.57" width="11.68" height="2.00" fill="#d41800"/><rect x="509.35" y="201.28" width="11.68" height="2.00" fill="#e43c00"/><rect x="509.35" y="202.98" width="11.68" height="2.00" fill="#fbcf48"/><rect x="509.35" y="204.69" width="11.68" height="2.00" fill="#f59200"/><rect x="509.35" y="206.39" width="11.68" height="2.00" fill="#e43c00"/><rect x="509.35" y="208.09" width="11.68" height="2.00" fill="#f59200"/><rect x="509.35" y="209.80" width="11.68" height="2.00" fill="#e43c00"/><rect x="509.35" y="211.50" width="11.68" height="2.00" fill="#f06c00"/><rect x="509.35" y="213.21" width="11.68" height="2.00" fill="#fbcf48"/><rect x="509.35" y="214.91" width="11.68" height="2.00" fill="#f8b418"/><rect x="509.35" y="216.62" width="11.68" height="2.00" fill="#f06c00"/><rect x="509.35" y="218.33" width="11.68" height="2.00" fill="#f06c00"/><rect x="509.35" y="220.03" width="11.68" height="2.00" fill="#f8b418"/><rect x="509.35" y="221.74" width="11.68" height="2.00" fill="#f8b418"/><rect x="509.35" y="223.44" width="11.68" height="2.00" fill="#fbcf48"/><rect x="509.35" y="225.15" width="11.68" height="2.00" fill="#f8b418"/><rect x="509.35" y="226.85" width="11.68" height="2.00" fill="#f8b418"/><rect x="509.35" y="228.56" width="11.68" height="2.00" fill="#f59200"/><rect x="509.35" y="230.26" width="11.68" height="2.00" fill="#f06c00"/><rect x="509.35" y="231.97" width="11.68" height="2.00" fill="#f06c00"/><rect x="509.35" y="233.67" width="11.68" height="2.00" fill="#e43c00"/><rect x="509.35" y="235.38" width="11.68" height="2.00" fill="#f59200"/><rect x="509.35" y="237.08" width="11.68" height="2.00" fill="#e43c00"/><rect x="509.35" y="238.78" width="11.68" height="2.00" fill="#f59200"/><rect x="509.35" y="240.49" width="11.68" height="2.00" fill="#e43c00"/><rect x="509.35" y="242.19" width="11.68" height="2.00" fill="#f06c00"/><rect x="509.35" y="243.90" width="11.68" height="2.00" fill="#f06c00"/><rect x="509.35" y="245.60" width="11.68" height="2.00" fill="#f59200"/><rect x="509.35" y="247.31" width="11.68" height="2.00" fill="#f8b418"/><rect x="509.35" y="249.02" width="11.68" height="2.00" fill="#f59200"/><rect x="509.35" y="250.72" width="11.68" height="2.00" fill="#f8b418"/><rect x="509.35" y="252.43" width="11.68" height="2.00" fill="#f8b418"/><rect x="509.35" y="254.13" width="11.68" height="2.00" fill="#f06c00"/><rect x="509.35" y="255.84" width="11.68" height="2.00" fill="#e43c00"/><rect x="509.35" y="257.54" width="11.68" height="2.00" fill="#f59200"/><rect x="509.35" y="259.24" width="11.68" height="2.00" fill="#f06c00"/><rect x="509.35" y="260.95" width="11.68" height="2.00" fill="#f8b418"/><rect x="509.35" y="262.65" width="11.68" height="2.00" fill="#f59200"/><rect x="509.35" y="264.36" width="11.68" height="2.00" fill="#f8b418"/><rect x="509.35" y="266.06" width="11.68" height="2.00" fill="#f06c00"/><rect x="509.35" y="267.77" width="11.68" height="2.00" fill="#f8b418"/><rect x="509.35" y="269.47" width="11.68" height="2.00" fill="#f06c00"/><rect x="509.35" y="271.18" width="11.68" height="2.00" fill="#f59200"/><rect x="509.35" y="272.88" width="11.68" height="2.00" fill="#f59200"/><rect x="509.35" y="274.59" width="11.68" height="2.00" fill="#f59200"/><rect x="509.35" y="276.29" width="11.68" height="2.00" fill="#f8b418"/><rect x="520.73" y="73.40" width="11.68" height="2.00" fill="#e43c00"/><rect x="520.73" y="75.11" width="11.68" height="2.00" fill="#f06c00"/><rect x="520.73" y="76.81" width="11.68" height="2.00" fill="#f8b418"/><rect x="520.73" y="78.52" width="11.68" height="2.00" fill="#f8b418"/><rect x="520.73" y="80.22" width="11.68" height="2.00" fill="#e43c00"/><rect x="520.73" y="81.92" width="11.68" height="2.00" fill="#f06c00"/><rect x="520.73" y="83.63" width="11.68" height="2.00" fill="#e43c00"/><rect x="520.73" y="85.34" width="11.68" height="2.00" fill="#e43c00"/><rect x="520.73" y="87.04" width="11.68" height="2.00" fill="#f8b418"/><rect x="520.73" y="88.75" width="11.68" height="2.00" fill="#f8b418"/><rect x="520.73" y="90.45" width="11.68" height="2.00" fill="#f59200"/><rect x="520.73" y="92.16" width="11.68" height="2.00" fill="#f59200"/><rect x="520.73" y="93.86" width="11.68" height="2.00" fill="#e43c00"/><rect x="520.73" y="95.56" width="11.68" height="2.00" fill="#d41800"/><rect x="520.73" y="97.27" width="11.68" height="2.00" fill="#e43c00"/><rect x="520.73" y="98.98" width="11.68" height="2.00" fill="#e43c00"/><rect x="520.73" y="100.68" width="11.68" height="2.00" fill="#e43c00"/><rect x="520.73" y="102.39" width="11.68" height="2.00" fill="#d41800"/><rect x="520.73" y="104.09" width="11.68" height="2.00" fill="#f8b418"/><rect x="520.73" y="105.80" width="11.68" height="2.00" fill="#f59200"/><rect x="520.73" y="107.50" width="11.68" height="2.00" fill="#f8b418"/><rect x="520.73" y="109.20" width="11.68" height="2.00" fill="#fbcf48"/><rect x="520.73" y="110.91" width="11.68" height="2.00" fill="#f59200"/><rect x="520.73" y="112.61" width="11.68" height="2.00" fill="#f59200"/><rect x="520.73" y="114.32" width="11.68" height="2.00" fill="#f8b418"/><rect x="520.73" y="116.02" width="11.68" height="2.00" fill="#f59200"/><rect x="520.73" y="117.73" width="11.68" height="2.00" fill="#f06c00"/><rect x="520.73" y="119.44" width="11.68" height="2.00" fill="#f59200"/><rect x="520.73" y="121.14" width="11.68" height="2.00" fill="#e43c00"/><rect x="520.73" y="122.84" width="11.68" height="2.00" fill="#d41800"/><rect x="520.73" y="124.55" width="11.68" height="2.00" fill="#e43c00"/><rect x="520.73" y="126.26" width="11.68" height="2.00" fill="#f06c00"/><rect x="520.73" y="127.96" width="11.68" height="2.00" fill="#d41800"/><rect x="520.73" y="129.67" width="11.68" height="2.00" fill="#e43c00"/><rect x="520.73" y="131.37" width="11.68" height="2.00" fill="#f06c00"/><rect x="520.73" y="133.08" width="11.68" height="2.00" fill="#e43c00"/><rect x="520.73" y="134.78" width="11.68" height="2.00" fill="#f8b418"/><rect x="520.73" y="136.49" width="11.68" height="2.00" fill="#fbcf48"/><rect x="520.73" y="138.19" width="11.68" height="2.00" fill="#fde485"/><rect x="520.73" y="139.90" width="11.68" height="2.00" fill="#f8b418"/><rect x="520.73" y="141.60" width="11.68" height="2.00" fill="#f59200"/><rect x="520.73" y="143.31" width="11.68" height="2.00" fill="#f8b418"/><rect x="520.73" y="145.01" width="11.68" height="2.00" fill="#d41800"/><rect x="520.73" y="146.72" width="11.68" height="2.00" fill="#e43c00"/><rect x="520.73" y="148.42" width="11.68" height="2.00" fill="#e43c00"/><rect x="520.73" y="150.13" width="11.68" height="2.00" fill="#d41800"/><rect x="520.73" y="151.83" width="11.68" height="2.00" fill="#d41800"/><rect x="520.73" y="153.53" width="11.68" height="2.00" fill="#d41800"/><rect x="520.73" y="155.24" width="11.68" height="2.00" fill="#fde485"/><rect x="520.73" y="156.95" width="11.68" height="2.00" fill="#fbcf48"/><rect x="520.73" y="158.65" width="11.68" height="2.00" fill="#fde485"/><rect x="520.73" y="160.35" width="11.68" height="2.00" fill="#f8b418"/><rect x="520.73" y="162.06" width="11.68" height="2.00" fill="#fbcf48"/><rect x="520.73" y="163.77" width="11.68" height="2.00" fill="#f8b418"/><rect x="520.73" y="165.47" width="11.68" height="2.00" fill="#f8b418"/><rect x="520.73" y="167.18" width="11.68" height="2.00" fill="#fde485"/><rect x="520.73" y="168.88" width="11.68" height="2.00" fill="#fbcf48"/><rect x="520.73" y="170.59" width="11.68" height="2.00" fill="#f8b418"/><rect x="520.73" y="172.29" width="11.68" height="2.00" fill="#f8b418"/><rect x="520.73" y="174.00" width="11.68" height="2.00" fill="#fbcf48"/><rect x="520.73" y="175.70" width="11.68" height="2.00" fill="#f8b418"/><rect x="520.73" y="177.41" width="11.68" height="2.00" fill="#fbcf48"/><rect x="520.73" y="179.11" width="11.68" height="2.00" fill="#f06c00"/><rect x="520.73" y="180.82" width="11.68" height="2.00" fill="#e43c00"/><rect x="520.73" y="182.52" width="11.68" height="2.00" fill="#e43c00"/><rect x="520.73" y="184.22" width="11.68" height="2.00" fill="#e43c00"/><rect x="520.73" y="185.93" width="11.68" height="2.00" fill="#f06c00"/><rect x="520.73" y="187.64" width="11.68" height="2.00" fill="#d41800"/><rect x="520.73" y="189.34" width="11.68" height="2.00" fill="#d41800"/><rect x="520.73" y="191.04" width="11.68" height="2.00" fill="#e43c00"/><rect x="520.73" y="192.75" width="11.68" height="2.00" fill="#f06c00"/><rect x="520.73" y="194.46" width="11.68" height="2.00" fill="#e43c00"/><rect x="520.73" y="196.16" width="11.68" height="2.00" fill="#d41800"/><rect x="520.73" y="197.87" width="11.68" height="2.00" fill="#d41800"/><rect x="520.73" y="199.57" width="11.68" height="2.00" fill="#d41800"/><rect x="520.73" y="201.28" width="11.68" height="2.00" fill="#e43c00"/><rect x="520.73" y="202.98" width="11.68" height="2.00" fill="#f8b418"/><rect x="520.73" y="204.69" width="11.68" height="2.00" fill="#f8b418"/><rect x="520.73" y="206.39" width="11.68" height="2.00" fill="#f06c00"/><rect x="520.73" y="208.09" width="11.68" height="2.00" fill="#f59200"/><rect x="520.73" y="209.80" width="11.68" height="2.00" fill="#fbcf48"/><rect x="520.73" y="211.50" width="11.68" height="2.00" fill="#fde485"/><rect x="520.73" y="213.21" width="11.68" height="2.00" fill="#fbcf48"/><rect x="520.73" y="214.91" width="11.68" height="2.00" fill="#fbcf48"/><rect x="520.73" y="216.62" width="11.68" height="2.00" fill="#f8b418"/><rect x="520.73" y="218.33" width="11.68" height="2.00" fill="#f8b418"/><rect x="520.73" y="220.03" width="11.68" height="2.00" fill="#f8b418"/><rect x="520.73" y="221.74" width="11.68" height="2.00" fill="#f8b418"/><rect x="520.73" y="223.44" width="11.68" height="2.00" fill="#f8b418"/><rect x="520.73" y="225.15" width="11.68" height="2.00" fill="#fbcf48"/><rect x="520.73" y="226.85" width="11.68" height="2.00" fill="#f8b418"/><rect x="520.73" y="228.56" width="11.68" height="2.00" fill="#fbcf48"/><rect x="520.73" y="230.26" width="11.68" height="2.00" fill="#f06c00"/><rect x="520.73" y="231.97" width="11.68" height="2.00" fill="#f59200"/><rect x="520.73" y="233.67" width="11.68" height="2.00" fill="#e43c00"/><rect x="520.73" y="235.38" width="11.68" height="2.00" fill="#f59200"/><rect x="520.73" y="237.08" width="11.68" height="2.00" fill="#f06c00"/><rect x="520.73" y="238.78" width="11.68" height="2.00" fill="#f8b418"/><rect x="520.73" y="240.49" width="11.68" height="2.00" fill="#f06c00"/><rect x="520.73" y="242.19" width="11.68" height="2.00" fill="#d41800"/><rect x="520.73" y="243.90" width="11.68" height="2.00" fill="#e43c00"/><rect x="520.73" y="245.60" width="11.68" height="2.00" fill="#f06c00"/><rect x="520.73" y="247.31" width="11.68" height="2.00" fill="#fbcf48"/><rect x="520.73" y="249.02" width="11.68" height="2.00" fill="#f8b418"/><rect x="520.73" y="250.72" width="11.68" height="2.00" fill="#fbcf48"/><rect x="520.73" y="252.43" width="11.68" height="2.00" fill="#fbcf48"/><rect x="520.73" y="254.13" width="11.68" height="2.00" fill="#f06c00"/><rect x="520.73" y="255.84" width="11.68" height="2.00" fill="#f06c00"/><rect x="520.73" y="257.54" width="11.68" height="2.00" fill="#e43c00"/><rect x="520.73" y="259.24" width="11.68" height="2.00" fill="#d41800"/><rect x="520.73" y="260.95" width="11.68" height="2.00" fill="#f06c00"/><rect x="520.73" y="262.65" width="11.68" height="2.00" fill="#f59200"/><rect x="520.73" y="264.36" width="11.68" height="2.00" fill="#fbcf48"/><rect x="520.73" y="266.06" width="11.68" height="2.00" fill="#f59200"/><rect x="520.73" y="267.77" width="11.68" height="2.00" fill="#f8b418"/><rect x="520.73" y="269.47" width="11.68" height="2.00" fill="#f59200"/><rect x="520.73" y="271.18" width="11.68" height="2.00" fill="#fbcf48"/><rect x="520.73" y="272.88" width="11.68" height="2.00" fill="#fbcf48"/><rect x="520.73" y="274.59" width="11.68" height="2.00" fill="#f59200"/><rect x="520.73" y="276.29" width="11.68" height="2.00" fill="#fbcf48"/><rect x="532.12" y="73.40" width="11.68" height="2.00" fill="#e43c00"/><rect x="532.12" y="75.11" width="11.68" height="2.00" fill="#f06c00"/><rect x="532.12" y="76.81" width="11.68" height="2.00" fill="#f8b418"/><rect x="532.12" y="78.52" width="11.68" height="2.00" fill="#f8b418"/><rect x="532.12" y="80.22" width="11.68" height="2.00" fill="#f59200"/><rect x="532.12" y="81.92" width="11.68" height="2.00" fill="#f59200"/><rect x="532.12" y="83.63" width="11.68" height="2.00" fill="#f59200"/><rect x="532.12" y="85.34" width="11.68" height="2.00" fill="#f06c00"/><rect x="532.12" y="87.04" width="11.68" height="2.00" fill="#f8b418"/><rect x="532.12" y="88.75" width="11.68" height="2.00" fill="#fbcf48"/><rect x="532.12" y="90.45" width="11.68" height="2.00" fill="#f8b418"/><rect x="532.12" y="92.16" width="11.68" height="2.00" fill="#f8b418"/><rect x="532.12" y="93.86" width="11.68" height="2.00" fill="#e43c00"/><rect x="532.12" y="95.56" width="11.68" height="2.00" fill="#d41800"/><rect x="532.12" y="97.27" width="11.68" height="2.00" fill="#e43c00"/><rect x="532.12" y="98.98" width="11.68" height="2.00" fill="#e43c00"/><rect x="532.12" y="100.68" width="11.68" height="2.00" fill="#e43c00"/><rect x="532.12" y="102.39" width="11.68" height="2.00" fill="#e43c00"/><rect x="532.12" y="104.09" width="11.68" height="2.00" fill="#f59200"/><rect x="532.12" y="105.80" width="11.68" height="2.00" fill="#f59200"/><rect x="532.12" y="107.50" width="11.68" height="2.00" fill="#f8b418"/><rect x="532.12" y="109.20" width="11.68" height="2.00" fill="#f8b418"/><rect x="532.12" y="110.91" width="11.68" height="2.00" fill="#fbcf48"/><rect x="532.12" y="112.61" width="11.68" height="2.00" fill="#f8b418"/><rect x="532.12" y="114.32" width="11.68" height="2.00" fill="#f8b418"/><rect x="532.12" y="116.02" width="11.68" height="2.00" fill="#f59200"/><rect x="532.12" y="117.73" width="11.68" height="2.00" fill="#f59200"/><rect x="532.12" y="119.44" width="11.68" height="2.00" fill="#f8b418"/><rect x="532.12" y="121.14" width="11.68" height="2.00" fill="#e43c00"/><rect x="532.12" y="122.84" width="11.68" height="2.00" fill="#d41800"/><rect x="532.12" y="124.55" width="11.68" height="2.00" fill="#e43c00"/><rect x="532.12" y="126.26" width="11.68" height="2.00" fill="#f06c00"/><rect x="532.12" y="127.96" width="11.68" height="2.00" fill="#d41800"/><rect x="532.12" y="129.67" width="11.68" height="2.00" fill="#d41800"/><rect x="532.12" y="131.37" width="11.68" height="2.00" fill="#e43c00"/><rect x="532.12" y="133.08" width="11.68" height="2.00" fill="#f06c00"/><rect x="532.12" y="134.78" width="11.68" height="2.00" fill="#f8b418"/><rect x="532.12" y="136.49" width="11.68" height="2.00" fill="#fbcf48"/><rect x="532.12" y="138.19" width="11.68" height="2.00" fill="#fde485"/><rect x="532.12" y="139.90" width="11.68" height="2.00" fill="#f8b418"/><rect x="532.12" y="141.60" width="11.68" height="2.00" fill="#f59200"/><rect x="532.12" y="143.31" width="11.68" height="2.00" fill="#fbcf48"/><rect x="532.12" y="145.01" width="11.68" height="2.00" fill="#d41800"/><rect x="532.12" y="146.72" width="11.68" height="2.00" fill="#e43c00"/><rect x="532.12" y="148.42" width="11.68" height="2.00" fill="#d41800"/><rect x="532.12" y="150.13" width="11.68" height="2.00" fill="#d41800"/><rect x="532.12" y="151.83" width="11.68" height="2.00" fill="#d41800"/><rect x="532.12" y="153.53" width="11.68" height="2.00" fill="#d41800"/><rect x="532.12" y="155.24" width="11.68" height="2.00" fill="#f8b418"/><rect x="532.12" y="156.95" width="11.68" height="2.00" fill="#fbcf48"/><rect x="532.12" y="158.65" width="11.68" height="2.00" fill="#fbcf48"/><rect x="532.12" y="160.35" width="11.68" height="2.00" fill="#fbcf48"/><rect x="532.12" y="162.06" width="11.68" height="2.00" fill="#f59200"/><rect x="532.12" y="163.77" width="11.68" height="2.00" fill="#f8b418"/><rect x="532.12" y="165.47" width="11.68" height="2.00" fill="#f59200"/><rect x="532.12" y="167.18" width="11.68" height="2.00" fill="#fbcf48"/><rect x="532.12" y="168.88" width="11.68" height="2.00" fill="#fbcf48"/><rect x="532.12" y="170.59" width="11.68" height="2.00" fill="#fbcf48"/><rect x="532.12" y="172.29" width="11.68" height="2.00" fill="#fde485"/><rect x="532.12" y="174.00" width="11.68" height="2.00" fill="#fbcf48"/><rect x="532.12" y="175.70" width="11.68" height="2.00" fill="#fbcf48"/><rect x="532.12" y="177.41" width="11.68" height="2.00" fill="#fbcf48"/><rect x="532.12" y="179.11" width="11.68" height="2.00" fill="#f06c00"/><rect x="532.12" y="180.82" width="11.68" height="2.00" fill="#e43c00"/><rect x="532.12" y="182.52" width="11.68" height="2.00" fill="#d41800"/><rect x="532.12" y="184.22" width="11.68" height="2.00" fill="#e43c00"/><rect x="532.12" y="185.93" width="11.68" height="2.00" fill="#d41800"/><rect x="532.12" y="187.64" width="11.68" height="2.00" fill="#d41800"/><rect x="532.12" y="189.34" width="11.68" height="2.00" fill="#d41800"/><rect x="532.12" y="191.04" width="11.68" height="2.00" fill="#f06c00"/><rect x="532.12" y="192.75" width="11.68" height="2.00" fill="#d41800"/><rect x="532.12" y="194.46" width="11.68" height="2.00" fill="#e43c00"/><rect x="532.12" y="196.16" width="11.68" height="2.00" fill="#d41800"/><rect x="532.12" y="197.87" width="11.68" height="2.00" fill="#d41800"/><rect x="532.12" y="199.57" width="11.68" height="2.00" fill="#d41800"/><rect x="532.12" y="201.28" width="11.68" height="2.00" fill="#e43c00"/><rect x="532.12" y="202.98" width="11.68" height="2.00" fill="#f8b418"/><rect x="532.12" y="204.69" width="11.68" height="2.00" fill="#f59200"/><rect x="532.12" y="206.39" width="11.68" height="2.00" fill="#f06c00"/><rect x="532.12" y="208.09" width="11.68" height="2.00" fill="#f59200"/><rect x="532.12" y="209.80" width="11.68" height="2.00" fill="#fbcf48"/><rect x="532.12" y="211.50" width="11.68" height="2.00" fill="#fde485"/><rect x="532.12" y="213.21" width="11.68" height="2.00" fill="#fbcf48"/><rect x="532.12" y="214.91" width="11.68" height="2.00" fill="#fbcf48"/><rect x="532.12" y="216.62" width="11.68" height="2.00" fill="#f59200"/><rect x="532.12" y="218.33" width="11.68" height="2.00" fill="#f59200"/><rect x="532.12" y="220.03" width="11.68" height="2.00" fill="#f8b418"/><rect x="532.12" y="221.74" width="11.68" height="2.00" fill="#fbcf48"/><rect x="532.12" y="223.44" width="11.68" height="2.00" fill="#fde485"/><rect x="532.12" y="225.15" width="11.68" height="2.00" fill="#fbcf48"/><rect x="532.12" y="226.85" width="11.68" height="2.00" fill="#f8b418"/><rect x="532.12" y="228.56" width="11.68" height="2.00" fill="#fbcf48"/><rect x="532.12" y="230.26" width="11.68" height="2.00" fill="#f59200"/><rect x="532.12" y="231.97" width="11.68" height="2.00" fill="#f59200"/><rect x="532.12" y="233.67" width="11.68" height="2.00" fill="#f06c00"/><rect x="532.12" y="235.38" width="11.68" height="2.00" fill="#e43c00"/><rect x="532.12" y="237.08" width="11.68" height="2.00" fill="#f06c00"/><rect x="532.12" y="238.78" width="11.68" height="2.00" fill="#f8b418"/><rect x="532.12" y="240.49" width="11.68" height="2.00" fill="#f06c00"/><rect x="532.12" y="242.19" width="11.68" height="2.00" fill="#f06c00"/><rect x="532.12" y="243.90" width="11.68" height="2.00" fill="#f06c00"/><rect x="532.12" y="245.60" width="11.68" height="2.00" fill="#f59200"/><rect x="532.12" y="247.31" width="11.68" height="2.00" fill="#f8b418"/><rect x="532.12" y="249.02" width="11.68" height="2.00" fill="#f8b418"/><rect x="532.12" y="250.72" width="11.68" height="2.00" fill="#f8b418"/><rect x="532.12" y="252.43" width="11.68" height="2.00" fill="#f8b418"/><rect x="532.12" y="254.13" width="11.68" height="2.00" fill="#f8b418"/><rect x="532.12" y="255.84" width="11.68" height="2.00" fill="#f59200"/><rect x="532.12" y="257.54" width="11.68" height="2.00" fill="#f59200"/><rect x="532.12" y="259.24" width="11.68" height="2.00" fill="#f06c00"/><rect x="532.12" y="260.95" width="11.68" height="2.00" fill="#fbcf48"/><rect x="532.12" y="262.65" width="11.68" height="2.00" fill="#f8b418"/><rect x="532.12" y="264.36" width="11.68" height="2.00" fill="#f8b418"/><rect x="532.12" y="266.06" width="11.68" height="2.00" fill="#f06c00"/><rect x="532.12" y="267.77" width="11.68" height="2.00" fill="#fbcf48"/><rect x="532.12" y="269.47" width="11.68" height="2.00" fill="#f59200"/><rect x="532.12" y="271.18" width="11.68" height="2.00" fill="#fbcf48"/><rect x="532.12" y="272.88" width="11.68" height="2.00" fill="#fbcf48"/><rect x="532.12" y="274.59" width="11.68" height="2.00" fill="#f59200"/><rect x="532.12" y="276.29" width="11.68" height="2.00" fill="#f8b418"/></g><path d="M355.68 70.80V60.50H367.06V70.80M344.29 70.80V58.30H361.37V60.50M389.83 70.80V62.60H401.21V70.80M395.52 62.60V58.70H412.59V70.80M378.44 70.80V54.30H404.05V58.70M352.83 58.30V44.50H391.25V54.30M446.74 70.80V62.80H458.12V70.80M435.36 70.80V51.00H452.43V62.80M423.98 70.80V47.40H443.90V51.00M433.94 47.40V35.20H469.51V70.80M372.04 44.50V29.50H451.72V35.20M480.89 70.80V61.10H492.27V70.80M526.42 70.80V63.50H537.81V70.80M515.04 70.80V61.10H532.12V63.50M503.66 70.80V55.80H523.58V61.10M486.58 61.10V43.10H513.62V55.80M411.88 29.50V5.30H500.10V43.10" fill="none" stroke="#3a3a3a" stroke-width="0.9"/><text transform="translate(348.19 282.8) rotate(-90)" font-size="6.55" fill="#1a1a1a" stroke="#1a1a1a" stroke-width="0.15" text-anchor="end">F2d60</text><text transform="translate(359.57 282.8) rotate(-90)" font-size="6.55" fill="#1a1a1a" stroke="#1a1a1a" stroke-width="0.15" text-anchor="end">F3d60</text><text transform="translate(370.96 282.8) rotate(-90)" font-size="6.55" fill="#1a1a1a" stroke="#1a1a1a" stroke-width="0.15" text-anchor="end">M2d60</text><text transform="translate(382.34 282.8) rotate(-90)" font-size="6.55" fill="#1a1a1a" stroke="#1a1a1a" stroke-width="0.15" text-anchor="end">M2d45</text><text transform="translate(393.73 282.8) rotate(-90)" font-size="6.55" fill="#1a1a1a" stroke="#1a1a1a" stroke-width="0.15" text-anchor="end">M1d45</text><text transform="translate(405.11 282.8) rotate(-90)" font-size="6.55" fill="#1a1a1a" stroke="#1a1a1a" stroke-width="0.15" text-anchor="end">F2d45</text><text transform="translate(416.49 282.8) rotate(-90)" font-size="6.55" fill="#1a1a1a" stroke="#1a1a1a" stroke-width="0.15" text-anchor="end">F1d45</text><text transform="translate(427.88 282.8) rotate(-90)" font-size="6.55" fill="#1a1a1a" stroke="#1a1a1a" stroke-width="0.15" text-anchor="end">F1d60</text><text transform="translate(439.26 282.8) rotate(-90)" font-size="6.55" fill="#1a1a1a" stroke="#1a1a1a" stroke-width="0.15" text-anchor="end">F3d45</text><text transform="translate(450.64 282.8) rotate(-90)" font-size="6.55" fill="#1a1a1a" stroke="#1a1a1a" stroke-width="0.15" text-anchor="end">M3d60</text><text transform="translate(462.02 282.8) rotate(-90)" font-size="6.55" fill="#1a1a1a" stroke="#1a1a1a" stroke-width="0.15" text-anchor="end">M1d60</text><text transform="translate(473.41 282.8) rotate(-90)" font-size="6.55" fill="#1a1a1a" stroke="#1a1a1a" stroke-width="0.15" text-anchor="end">M3d45</text><text transform="translate(484.79 282.8) rotate(-90)" font-size="6.55" fill="#1a1a1a" stroke="#1a1a1a" stroke-width="0.15" text-anchor="end">F3d90</text><text transform="translate(496.17 282.8) rotate(-90)" font-size="6.55" fill="#1a1a1a" stroke="#1a1a1a" stroke-width="0.15" text-anchor="end">F1d90</text><text transform="translate(507.56 282.8) rotate(-90)" font-size="6.55" fill="#1a1a1a" stroke="#1a1a1a" stroke-width="0.15" text-anchor="end">M2d90</text><text transform="translate(518.94 282.8) rotate(-90)" font-size="6.55" fill="#1a1a1a" stroke="#1a1a1a" stroke-width="0.15" text-anchor="end">F2d90</text><text transform="translate(530.32 282.8) rotate(-90)" font-size="6.55" fill="#1a1a1a" stroke="#1a1a1a" stroke-width="0.15" text-anchor="end">M3d90</text><text transform="translate(541.71 282.8) rotate(-90)" font-size="6.55" fill="#1a1a1a" stroke="#1a1a1a" stroke-width="0.15" text-anchor="end">M1d90</text></svg></body></html>
